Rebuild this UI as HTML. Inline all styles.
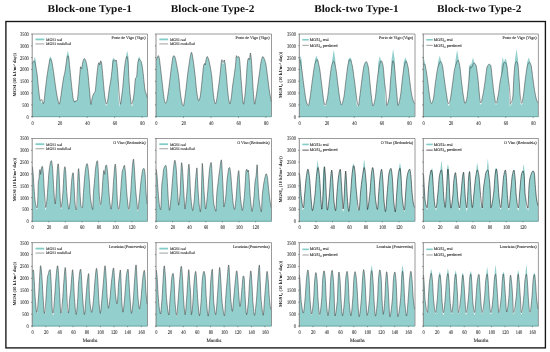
<!DOCTYPE html><html><head><meta charset="utf-8"><style>html,body{margin:0;padding:0;background:#fff;}svg{display:block;filter:blur(0.3px)}</style></head><body>
<svg width="550" height="352" viewBox="0 0 550 352" text-rendering="geometricPrecision">
<rect width="550" height="352" fill="#fff"/>
<text x="47.6" y="11.9" font-family="'Liberation Serif', serif" font-weight="bold" font-size="10.4" textLength="84.3" lengthAdjust="spacingAndGlyphs" fill="#111">Block-one Type-1</text>
<text x="170.8" y="11.9" font-family="'Liberation Serif', serif" font-weight="bold" font-size="10.4" textLength="83.7" lengthAdjust="spacingAndGlyphs" fill="#111">Block-one Type-2</text>
<text x="314.15" y="11.9" font-family="'Liberation Serif', serif" font-weight="bold" font-size="10.4" textLength="84.6" lengthAdjust="spacingAndGlyphs" fill="#111">Block-two Type-1</text>
<text x="437" y="11.9" font-family="'Liberation Serif', serif" font-weight="bold" font-size="10.4" textLength="84.35" lengthAdjust="spacingAndGlyphs" fill="#111">Block-two Type-2</text>
<rect x="5.9" y="21.5" width="539.5" height="326.4" fill="none" stroke="#151515" stroke-width="1.35"/>
<path d="M32.2,116.7L32.2,63.63L32.5,62.75L32.8,62.13L33.1,61.71L33.4,61.47L33.7,61.04L34,59.78L34.3,58.51L34.6,57.25L34.9,57.06L35.2,58.32L35.5,59.58L35.8,60.85L36.1,67.98L36.4,69.8L36.7,71.65L37,73.61L37.3,76.15L37.6,79.11L37.9,82.26L38.2,85.38L38.5,88.24L38.8,91L39.1,93.82L39.4,96.34L39.7,98.19L40,99.52L40.3,100.57L40.6,100.94L40.9,100.59L41.2,101.38L41.5,102.28L41.8,103.12L42.1,103.51L42.4,102.34L42.7,101.97L43,102.87L43.3,103.8L43.6,103.3L43.9,101.94L44.2,99.91L44.5,97.41L44.8,94.63L45.1,91.76L45.4,89.01L45.7,86.56L46,84.21L46.3,81.78L46.6,79.36L46.9,77.05L47.2,74.93L47.5,72.89L47.8,70.91L48.1,69.03L48.4,67.25L48.7,65.58L49,63.89L49.3,58.84L49.6,58.15L49.9,57.46L50.2,56.77L50.5,56.29L50.8,56.98L51.1,57.67L51.4,58.36L51.7,59.05L52,62.33L52.3,64.04L52.6,65.91L52.9,67.79L53.2,69.6L53.5,71.58L53.8,73.71L54.1,75.91L54.4,78.12L54.7,80.27L55,82.42L55.3,84.63L55.6,86.83L55.9,88.97L56.2,90.97L56.5,92.78L56.8,94.5L57.1,96.15L57.4,97.7L57.7,99.12L58,100.38L58.3,101.5L58.6,102.65L58.9,103.63L59.2,104.19L59.5,104.04L59.8,102.94L60.1,101.21L60.4,99.21L60.7,97.33L61,95.44L61.3,93.35L61.6,91.15L61.9,88.92L62.2,86.77L62.5,84.75L62.8,82.74L63.1,80.77L63.4,78.91L63.7,77.23L64,75.83L64.3,74.64L64.6,73.47L64.9,72.09L65.2,70.27L65.5,68.02L65.8,65.68L66.1,63.57L66.4,61.6L66.7,55.49L67,54.2L67.3,52.9L67.6,51.6L67.9,50.81L68.2,52.11L68.5,53.41L68.8,54.71L69.1,56L69.4,64.42L69.7,67.16L70,69.94L70.3,72.83L70.6,75.75L70.9,78.64L71.2,81.55L71.5,84.54L71.8,87.47L72.1,90.21L72.4,92.69L72.7,95.2L73,97.52L73.3,99.32L73.6,100.37L73.9,101.18L74.2,101.2L74.5,100.82L74.8,100.45L75.1,100.08L75.4,100.27L75.7,100.65L76,100.9L76.3,100.79L76.6,100.73L76.9,100.65L77.2,100.52L77.5,99.46L77.8,96.87L78.1,93.43L78.4,89.84L78.7,86.66L79,83.41L79.3,80.04L79.6,76.72L79.9,73.45L80.2,69.62L80.5,66.87L80.8,66.81L81.1,67.96L81.4,68.91L81.7,68.56L82,67.06L82.3,65.01L82.6,63.03L82.9,61.71L83.2,60.69L83.5,59.74L83.8,59L84.1,58.6L84.4,58.62L84.7,58.87L85,59.27L85.3,59.76L85.6,60.35L85.9,61.21L86.2,62.32L86.5,63.64L86.8,65.13L87.1,66.74L87.4,68.66L87.7,71.07L88,73.86L88.3,76.94L88.6,80.21L88.9,83.58L89.2,86.94L89.5,90.2L89.8,93.36L90.1,97.25L90.4,101.19L90.7,103.97L91,104.5L91.3,103.38L91.6,101.45L91.9,99.34L92.2,97.67L92.5,96.65L92.8,95.77L93.1,94.98L93.4,94.29L93.7,93.67L94,93.11L94.3,92.7L94.6,92.39L94.9,91.99L95.2,91.34L95.5,89.38L95.8,86.24L96.1,82.91L96.4,79.91L96.7,76.75L97,73.62L97.3,70.79L97.6,68.27L97.9,65.91L98.2,64.28L98.5,63.39L98.8,62.73L99.1,62.5L99.4,64.24L99.7,64.95L100,63.89L100.3,62.32L100.6,61.06L100.9,60.85L101.2,61.54L101.5,62.72L101.8,64.39L102.1,67.39L102.4,70.89L102.7,74.19L103,77.67L103.3,81.21L103.6,84.62L103.9,87.87L104.2,91.11L104.5,94.05L104.8,96.41L105.1,98.42L105.4,100.17L105.7,104.66L106,105.2L106.3,105.75L106.6,105.6L106.9,105.06L107.2,104.51L107.5,101.25L107.8,99.92L108.1,98.06L108.4,95.84L108.7,93.44L109,91.08L109.3,88.95L109.6,87.1L109.9,85.39L110.2,83.71L110.5,81.98L110.8,80.12L111.1,78.03L111.4,75.55L111.7,72.86L112,70.17L112.3,60.32L112.6,59.62L112.9,58.93L113.2,58.23L113.5,57.53L113.8,57.91L114.1,58.61L114.4,59.31L114.7,60L115,60.58L115.3,60.78L115.6,60.5L115.9,60.08L116.2,59.99L116.5,61.17L116.8,63.47L117.1,66.34L117.4,69.27L117.7,72.92L118,77.19L118.3,81.53L118.6,98.55L118.9,101.53L119.2,104.52L119.5,107.5L119.8,104.52L120.1,102.91L120.4,104.25L120.7,103.51L121,101.73L121.3,99.36L121.6,96.88L121.9,94.62L122.2,92.26L122.5,89.7L122.8,86.92L123.1,83.79L123.4,80.08L123.7,76.35L124,73.04L124.3,69.9L124.6,67.14L124.9,64.77L125.2,62.57L125.5,60.67L125.8,59.23L126.1,56.12L126.4,54.61L126.7,53.1L127,51.59L127.3,51.04L127.6,52.55L127.9,54.06L128.2,55.57L128.5,57.08L128.8,76.64L129.1,81.72L129.4,86.05L129.7,89.89L130,93.33L130.3,96.43L130.6,99.03L130.9,101.43L131.2,104.29L131.5,105.26L131.8,106.23L132.1,106.41L132.4,105.44L132.7,104.47L133,99.88L133.3,98.52L133.6,96.74L133.9,94.54L134.2,92.05L134.5,89.16L134.8,84.95L135.1,80.84L135.4,78.65L135.7,78.1L136,77.81L136.3,77.5L136.6,76.92L136.9,74.43L137.2,70.16L137.5,65.84L137.8,63.21L138.1,58.61L138.4,58L138.7,57.4L139,56.8L139.3,56.85L139.6,57.45L139.9,58.06L140.2,58.66L140.5,60.52L140.8,60.93L141.1,61.46L141.4,62.26L141.7,63.5L142,65.09L142.3,66.9L142.6,68.81L142.9,71.1L143.2,73.77L143.5,76.62L143.8,79.42L144.1,82.14L144.4,85.12L144.7,87.93L145,90.1L145.3,91.36L145.6,92.23L145.9,92.95L146.2,93.73L146.5,94.7L146.8,95.76L147.1,96.88L147.4,98.06L147.4,116.7Z" fill="#93cfcc"/>
<path d="M32.2,63.63L32.5,62.75L32.8,62.13L33.1,61.71L33.4,61.47L33.7,61.34L34,61.3L34.3,61.3L34.6,61.59L34.9,62.29L35.2,63.35L35.5,64.69L35.8,66.25L36.1,67.98L36.4,69.8L36.7,71.65L37,73.61L37.3,76.15L37.6,79.11L37.9,82.26L38.2,85.38L38.5,88.24L38.8,91L39.1,93.82L39.4,96.34L39.7,98.19L40,99.52L40.3,100.57L40.6,100.94L40.9,100.59L41.2,99.98L41.5,99.55L41.8,99.64L42.1,100.2L42.4,101.03L42.7,101.97L43,102.87L43.3,103.8L43.6,103.3L43.9,101.94L44.2,99.91L44.5,97.41L44.8,94.63L45.1,91.76L45.4,89.01L45.7,86.56L46,84.21L46.3,81.78L46.6,79.36L46.9,77.05L47.2,74.93L47.5,72.89L47.8,70.91L48.1,69.03L48.4,67.25L48.7,65.58L49,63.89L49.3,62.06L49.6,60.43L49.9,59.34L50.2,59.09L50.5,59.19L50.8,59.4L51.1,59.69L51.4,60.08L51.7,60.95L52,62.33L52.3,64.04L52.6,65.91L52.9,67.79L53.2,69.6L53.5,71.58L53.8,73.71L54.1,75.91L54.4,78.12L54.7,80.27L55,82.42L55.3,84.63L55.6,86.83L55.9,88.97L56.2,90.97L56.5,92.78L56.8,94.5L57.1,96.15L57.4,97.7L57.7,99.12L58,100.38L58.3,101.5L58.6,102.65L58.9,103.63L59.2,104.19L59.5,104.04L59.8,102.94L60.1,101.21L60.4,99.21L60.7,97.33L61,95.44L61.3,93.35L61.6,91.15L61.9,88.92L62.2,86.77L62.5,84.75L62.8,82.74L63.1,80.77L63.4,78.91L63.7,77.23L64,75.83L64.3,74.64L64.6,73.47L64.9,72.09L65.2,70.27L65.5,68.02L65.8,65.68L66.1,63.57L66.4,61.6L66.7,59.5L67,57.66L67.3,56.45L67.6,56.18L67.9,56.18L68.2,56.18L68.5,56.45L68.8,58.31L69.1,61.25L69.4,64.42L69.7,67.16L70,69.94L70.3,72.83L70.6,75.75L70.9,78.64L71.2,81.55L71.5,84.54L71.8,87.47L72.1,90.21L72.4,92.69L72.7,95.2L73,97.52L73.3,99.32L73.6,100.37L73.9,101.18L74.2,101.77L74.5,102L74.8,101.91L75.1,101.68L75.4,101.39L75.7,101.1L76,100.9L76.3,100.79L76.6,100.73L76.9,100.65L77.2,100.52L77.5,99.46L77.8,96.87L78.1,93.43L78.4,89.84L78.7,86.66L79,83.41L79.3,80.04L79.6,76.72L79.9,73.45L80.2,69.62L80.5,66.87L80.8,66.81L81.1,67.96L81.4,68.91L81.7,68.56L82,67.06L82.3,65.01L82.6,63.03L82.9,61.71L83.2,60.69L83.5,59.74L83.8,59L84.1,58.6L84.4,58.62L84.7,58.87L85,59.27L85.3,59.76L85.6,60.35L85.9,61.21L86.2,62.32L86.5,63.64L86.8,65.13L87.1,66.74L87.4,68.66L87.7,71.07L88,73.86L88.3,76.94L88.6,80.21L88.9,83.58L89.2,86.94L89.5,90.2L89.8,93.36L90.1,97.25L90.4,101.19L90.7,103.97L91,104.5L91.3,103.38L91.6,101.45L91.9,99.34L92.2,97.67L92.5,96.65L92.8,95.77L93.1,94.98L93.4,94.29L93.7,93.67L94,93.11L94.3,92.7L94.6,92.39L94.9,91.99L95.2,91.34L95.5,89.38L95.8,86.24L96.1,82.91L96.4,79.91L96.7,76.75L97,73.62L97.3,70.79L97.6,68.27L97.9,65.91L98.2,64.28L98.5,63.39L98.8,62.73L99.1,62.5L99.4,64.24L99.7,64.95L100,63.89L100.3,62.32L100.6,61.06L100.9,60.85L101.2,61.54L101.5,62.72L101.8,64.39L102.1,67.39L102.4,70.89L102.7,74.19L103,77.67L103.3,81.21L103.6,84.62L103.9,87.87L104.2,91.11L104.5,94.05L104.8,96.41L105.1,98.42L105.4,100.17L105.7,101.69L106,102.99L106.3,104.12L106.6,104.12L106.9,103.46L107.2,102.44L107.5,101.25L107.8,99.92L108.1,98.06L108.4,95.84L108.7,93.44L109,91.08L109.3,88.95L109.6,87.1L109.9,85.39L110.2,83.71L110.5,81.98L110.8,80.12L111.1,78.03L111.4,75.55L111.7,72.86L112,70.17L112.3,67.65L112.6,64.84L112.9,62.27L113.2,60.83L113.5,60.45L113.8,60.18L114.1,60L114.4,59.93L114.7,60.15L115,60.58L115.3,60.78L115.6,60.5L115.9,60.08L116.2,59.99L116.5,61.17L116.8,63.47L117.1,66.34L117.4,69.27L117.7,72.92L118,77.19L118.3,81.53L118.6,85.8L118.9,90.19L119.2,94.1L119.5,97.56L119.8,100.63L120.1,102.91L120.4,104.25L120.7,103.51L121,101.73L121.3,99.36L121.6,96.88L121.9,94.62L122.2,92.26L122.5,89.7L122.8,86.92L123.1,83.79L123.4,80.08L123.7,76.35L124,73.04L124.3,69.9L124.6,67.14L124.9,64.77L125.2,62.57L125.5,60.67L125.8,59.23L126.1,58.16L126.4,57.21L126.7,56.62L127,56.61L127.3,57.33L127.6,58.69L127.9,60.53L128.2,63.31L128.5,69.6L128.8,76.64L129.1,81.72L129.4,86.05L129.7,89.89L130,93.33L130.3,96.43L130.6,99.03L130.9,101.43L131.2,103.5L131.5,104.25L131.8,103.97L132.1,103.29L132.4,102.33L132.7,101.16L133,99.88L133.3,98.52L133.6,96.74L133.9,94.54L134.2,92.05L134.5,89.16L134.8,84.95L135.1,80.84L135.4,78.65L135.7,78.1L136,77.81L136.3,77.5L136.6,76.92L136.9,74.43L137.2,70.16L137.5,65.84L137.8,63.21L138.1,61.78L138.4,60.56L138.7,59.64L139,59.14L139.3,59.13L139.6,59.43L139.9,59.82L140.2,60.17L140.5,60.52L140.8,60.93L141.1,61.46L141.4,62.26L141.7,63.5L142,65.09L142.3,66.9L142.6,68.81L142.9,71.1L143.2,73.77L143.5,76.62L143.8,79.42L144.1,82.14L144.4,85.12L144.7,87.93L145,90.1L145.3,91.36L145.6,92.23L145.9,92.95L146.2,93.73L146.5,94.7L146.8,95.76L147.1,96.88L147.4,98.06" fill="none" stroke="#303030" stroke-width="0.5" stroke-linejoin="round"/>
<path d="M32.2,34.0H147.5V116.7" fill="none" stroke="#7a7a7a" stroke-width="0.75"/>
<path d="M32.2,116.7H147.5" fill="none" stroke="#5f9f9b" stroke-width="0.9"/>
<path d="M32.2,34.0V117.0" fill="none" stroke="#666" stroke-width="0.75"/>
<path d="M31.1,116.7H32.2M31.1,104.89H32.2M31.1,93.07H32.2M31.1,81.26H32.2M31.1,69.44H32.2M31.1,57.63H32.2M31.1,45.81H32.2M31.1,34H32.2M32.2,116.7V117.8M59.68,116.7V117.8M87.16,116.7V117.8M114.64,116.7V117.8M142.12,116.7V117.8" stroke="#333" stroke-width="0.5"/>
<text transform="translate(32.5,124.8) scale(1,1.25)" font-family="'Liberation Serif', serif" font-size="4.4" text-anchor="middle" fill="#333" stroke="#333" stroke-width="0.06">0</text>
<text transform="translate(59.98,124.8) scale(1,1.25)" font-family="'Liberation Serif', serif" font-size="4.4" text-anchor="middle" fill="#333" stroke="#333" stroke-width="0.06">20</text>
<text transform="translate(87.46,124.8) scale(1,1.25)" font-family="'Liberation Serif', serif" font-size="4.4" text-anchor="middle" fill="#333" stroke="#333" stroke-width="0.06">40</text>
<text transform="translate(114.94,124.8) scale(1,1.25)" font-family="'Liberation Serif', serif" font-size="4.4" text-anchor="middle" fill="#333" stroke="#333" stroke-width="0.06">60</text>
<text transform="translate(142.42,124.8) scale(1,1.25)" font-family="'Liberation Serif', serif" font-size="4.4" text-anchor="middle" fill="#333" stroke="#333" stroke-width="0.06">80</text>
<text transform="translate(28.8,118.6) scale(1,1.25)" font-family="'Liberation Serif', serif" font-size="4.4" text-anchor="end" fill="#333" stroke="#333" stroke-width="0.06">0</text>
<text transform="translate(28.8,106.79) scale(1,1.25)" font-family="'Liberation Serif', serif" font-size="4.4" text-anchor="end" fill="#333" stroke="#333" stroke-width="0.06">500</text>
<text transform="translate(28.8,94.97) scale(1,1.25)" font-family="'Liberation Serif', serif" font-size="4.4" text-anchor="end" fill="#333" stroke="#333" stroke-width="0.06">1000</text>
<text transform="translate(28.8,83.16) scale(1,1.25)" font-family="'Liberation Serif', serif" font-size="4.4" text-anchor="end" fill="#333" stroke="#333" stroke-width="0.06">1500</text>
<text transform="translate(28.8,71.34) scale(1,1.25)" font-family="'Liberation Serif', serif" font-size="4.4" text-anchor="end" fill="#333" stroke="#333" stroke-width="0.06">2000</text>
<text transform="translate(28.8,59.53) scale(1,1.25)" font-family="'Liberation Serif', serif" font-size="4.4" text-anchor="end" fill="#333" stroke="#333" stroke-width="0.06">2500</text>
<text transform="translate(28.8,47.71) scale(1,1.25)" font-family="'Liberation Serif', serif" font-size="4.4" text-anchor="end" fill="#333" stroke="#333" stroke-width="0.06">3000</text>
<text transform="translate(28.8,35.9) scale(1,1.25)" font-family="'Liberation Serif', serif" font-size="4.4" text-anchor="end" fill="#333" stroke="#333" stroke-width="0.06">3500</text>
<text transform="translate(16.4,74.85) rotate(-90)" x="0" y="0" font-family="'Liberation Serif', serif" font-weight="bold" font-size="4.5" text-anchor="middle" fill="#111">MGSI (10 kJ/m<tspan dy="-1.2" font-size="2.8">-2</tspan><tspan dy="1.2"> day))</tspan></text>
<rect x="35.5" y="38.5" width="8.8" height="1.8" fill="#84ccc8"/>
<rect x="35.5" y="43.3" width="8.8" height="1.2" fill="#b0b0b0"/>
<text x="46.1" y="40.8" font-family="'Liberation Serif', serif" font-size="3.85" fill="#222" stroke="#222" stroke-width="0.08">MGSI real</text>
<text x="46.1" y="45" font-family="'Liberation Serif', serif" font-size="3.85" fill="#222" stroke="#222" stroke-width="0.08">MGSI modelled</text>
<text x="145.7" y="39" font-family="'Liberation Serif', serif" font-size="4.08" text-anchor="end" fill="#222" stroke="#222" stroke-width="0.08">Porto de Vigo (Vigo)</text>
<path d="M156,116.7L156,59.93L156.3,59.76L156.6,59.23L156.9,58.57L157.2,57.95L157.5,57.14L157.8,56.32L158.1,55.76L158.4,55.73L158.7,56.22L159,57.03L159.3,58.22L159.6,60.35L159.9,62.82L160.2,65.21L160.5,67.76L160.8,70.41L161.1,73.05L161.4,75.66L161.7,78.29L162,80.93L162.3,83.56L162.6,86.18L162.9,88.88L163.2,91.59L163.5,94.12L163.8,96.31L164.1,98.39L164.4,100.24L164.7,101.57L165,102.44L165.3,103.13L165.6,103.4L165.9,103.15L166.2,102.55L166.5,101.71L166.8,100.79L167.1,99.6L167.4,98L167.7,96.11L168,94.05L168.3,91.93L168.6,89.83L168.9,87.59L169.2,85.2L169.5,82.71L169.8,80.2L170.1,77.73L170.4,75.29L170.7,72.77L171,70.24L171.3,67.77L171.6,65.44L171.9,63.33L172.2,61.22L172.5,59.12L172.8,57.42L173.1,56.51L173.4,56.12L173.7,55.83L174,55.68L174.3,55.77L174.6,56.25L174.9,57.02L175.2,57.91L175.5,58.87L175.8,60.13L176.1,61.63L176.4,63.29L176.7,65L177,66.69L177.3,68.31L177.6,69.93L177.9,71.61L178.2,73.42L178.5,75.4L178.8,77.65L179.1,80.51L179.4,83.76L179.7,86.95L180,89.69L180.3,92.22L180.6,94.62L180.9,96.81L181.2,98.72L181.5,100.39L181.8,101.99L182.1,103.41L182.4,104.52L182.7,105.22L183,105.72L183.3,105.95L183.6,105.48L183.9,104.16L184.2,102.32L184.5,100.3L184.8,98.39L185.1,96.27L185.4,93.91L185.7,91.4L186,88.81L186.3,86.23L186.6,83.66L186.9,80.97L187.2,78.25L187.5,75.62L187.8,73.18L188.1,70.92L188.4,68.77L188.7,66.7L189,64.66L189.3,62.57L189.6,60.51L189.9,58.63L190.2,57.07L190.5,55.55L190.8,54.09L191.1,52.93L191.4,52.31L191.7,52.47L192,53.45L192.3,54.95L192.6,56.71L192.9,58.43L193.2,60.29L193.5,62.44L193.8,64.74L194.1,67.09L194.4,69.51L194.7,72.05L195,74.7L195.3,77.44L195.6,80.47L195.9,83.7L196.2,86.85L196.5,89.68L196.8,92.05L197.1,94.26L197.4,96.22L197.7,97.82L198,99.08L198.3,100.21L198.6,100.82L198.9,100.69L199.2,100.14L199.5,99.3L199.8,98.26L200.1,97.11L200.4,95.43L200.7,93.18L201,90.61L201.3,87.95L201.6,85.25L201.9,82.2L202.2,79.05L202.5,76.02L202.8,73.09L203.1,69.96L203.4,67.16L203.7,65.29L204,64.45L204.3,63.81L204.6,63.42L204.9,63.72L205.2,64.98L205.5,63.4L205.8,61.02L206.1,59.49L206.4,58.3L206.7,57.28L207,56.64L207.3,56.56L207.6,56.91L207.9,57.52L208.2,58.22L208.5,59.03L208.8,60.07L209.1,61.28L209.4,62.62L209.7,64.04L210,65.49L210.3,67L210.6,68.62L210.9,70.38L211.2,72.3L211.5,74.42L211.8,76.87L212.1,79.99L212.4,83.52L212.7,87.16L213,90.58L213.3,93.5L213.6,95.87L213.9,98.08L214.2,100L214.5,101.48L214.8,102.58L215.1,103.5L215.4,103.91L215.7,103.58L216,102.68L216.3,101.41L216.6,99.97L216.9,98.47L217.2,96.51L217.5,94.21L217.8,91.85L218.1,89.67L218.4,87.58L218.7,85.49L219,83.31L219.3,80.97L219.6,78.48L219.9,75.86L220.2,73.15L220.5,70.37L220.8,67.19L221.1,63.86L221.4,61.5L221.7,59.97L222,59.66L222.3,62.77L222.6,63.32L222.9,63.87L223.2,63.97L223.5,63.43L223.8,62.88L224.1,60.08L224.4,60.06L224.7,61.18L225,63.02L225.3,65.08L225.6,67.48L225.9,70.49L226.2,73.8L226.5,77.1L226.8,80.52L227.1,84.13L227.4,87.65L227.7,90.79L228,93.65L228.3,96.31L228.6,98.52L228.9,100.22L229.2,101.85L229.5,103.15L229.8,103.86L230.1,103.7L230.4,102.75L230.7,101.3L231,99.64L231.3,97.78L231.6,95.23L231.9,92.32L232.2,89.4L232.5,86.85L232.8,84.62L233.1,82.52L233.4,80.49L233.7,78.47L234,76.41L234.3,74.26L234.6,72.17L234.9,70.04L235.2,67.77L235.5,65.25L235.8,61.57L236.1,57.42L236.4,55.67L236.7,55.98L237,56.58L237.3,57.16L237.6,57.37L237.9,57.25L238.2,57L238.5,56.72L238.8,56.55L239.1,56.82L239.4,58.43L239.7,60.63L240,64.17L240.3,68.65L240.6,73.08L240.9,77.02L241.2,80.92L241.5,84.77L241.8,88.54L242.1,92.44L242.4,96.28L242.7,99.28L243,101.74L243.3,103.68L243.6,104.22L243.9,103.31L244.2,101.49L244.5,99.2L244.8,96.86L245.1,94.13L245.4,90.87L245.7,87.21L246,83.3L246.3,78.91L246.6,73.71L246.9,69.01L247.2,65.24L247.5,61.89L247.8,59.92L248.1,59.02L248.4,58.41L248.7,58.25L249,58.86L249.3,59.69L249.6,59.66L249.9,56.68L250.2,53.38L250.5,53.02L250.8,54.73L251.1,57.29L251.4,60.3L251.7,64.5L252,69.26L252.3,74.37L252.6,80.06L252.9,85.36L253.2,90.04L253.5,94.35L253.8,97.83L254.1,101.06L254.4,103.59L254.7,104.2L255,103.37L255.3,101.8L255.6,99.85L255.9,97.89L256.2,96.08L256.5,94.07L256.8,91.94L257.1,89.73L257.4,87.52L257.7,85.37L258,83.27L258.3,81.17L258.6,79.07L258.9,76.97L259.2,74.87L259.5,72.75L259.8,70.46L260.1,68.09L260.4,65.79L260.7,63.72L261,62.04L261.3,60.75L261.6,59.49L261.9,58.34L262.2,57.39L262.5,56.75L262.8,56.52L263.1,56.69L263.4,57.11L263.7,57.66L264,58.25L264.3,58.88L264.6,59.61L264.9,60.47L265.2,61.45L265.5,62.56L265.8,63.82L266.1,65.49L266.4,67.53L266.7,69.8L267,72.18L267.3,74.53L267.6,76.83L267.9,79.28L268.2,81.8L268.5,84.31L268.8,86.7L269.1,88.89L269.4,90.93L269.7,92.89L270,94.76L270.3,96.51L270.6,98.12L270.9,99.57L271.2,100.85L271.5,102L271.5,116.7Z" fill="#93cfcc"/>
<path d="M156,59.93L156.3,59.76L156.6,59.23L156.9,58.57L157.2,57.95L157.5,57.14L157.8,56.32L158.1,55.76L158.4,55.73L158.7,56.22L159,57.03L159.3,58.22L159.6,60.35L159.9,62.82L160.2,65.21L160.5,67.76L160.8,70.41L161.1,73.05L161.4,75.66L161.7,78.29L162,80.93L162.3,83.56L162.6,86.18L162.9,88.88L163.2,91.59L163.5,94.12L163.8,96.31L164.1,98.39L164.4,100.24L164.7,101.57L165,102.44L165.3,103.13L165.6,103.4L165.9,103.15L166.2,102.55L166.5,101.71L166.8,100.79L167.1,99.6L167.4,98L167.7,96.11L168,94.05L168.3,91.93L168.6,89.83L168.9,87.59L169.2,85.2L169.5,82.71L169.8,80.2L170.1,77.73L170.4,75.29L170.7,72.77L171,70.24L171.3,67.77L171.6,65.44L171.9,63.33L172.2,61.22L172.5,59.12L172.8,57.42L173.1,56.51L173.4,56.12L173.7,55.83L174,55.68L174.3,55.77L174.6,56.25L174.9,57.02L175.2,57.91L175.5,58.87L175.8,60.13L176.1,61.63L176.4,63.29L176.7,65L177,66.69L177.3,68.31L177.6,69.93L177.9,71.61L178.2,73.42L178.5,75.4L178.8,77.65L179.1,80.51L179.4,83.76L179.7,86.95L180,89.69L180.3,92.22L180.6,94.62L180.9,96.81L181.2,98.72L181.5,100.39L181.8,101.99L182.1,103.41L182.4,104.52L182.7,105.22L183,105.72L183.3,105.95L183.6,105.48L183.9,104.16L184.2,102.32L184.5,100.3L184.8,98.39L185.1,96.27L185.4,93.91L185.7,91.4L186,88.81L186.3,86.23L186.6,83.66L186.9,80.97L187.2,78.25L187.5,75.62L187.8,73.18L188.1,70.92L188.4,68.77L188.7,66.7L189,64.66L189.3,62.57L189.6,60.51L189.9,58.63L190.2,57.07L190.5,55.55L190.8,54.09L191.1,52.93L191.4,52.31L191.7,52.47L192,53.45L192.3,54.95L192.6,56.71L192.9,58.43L193.2,60.29L193.5,62.44L193.8,64.74L194.1,67.09L194.4,69.51L194.7,72.05L195,74.7L195.3,77.44L195.6,80.47L195.9,83.7L196.2,86.85L196.5,89.68L196.8,92.05L197.1,94.26L197.4,96.22L197.7,97.82L198,99.08L198.3,100.21L198.6,100.82L198.9,100.69L199.2,100.14L199.5,99.3L199.8,98.26L200.1,97.11L200.4,95.43L200.7,93.18L201,90.61L201.3,87.95L201.6,85.25L201.9,82.2L202.2,79.05L202.5,76.02L202.8,73.09L203.1,69.96L203.4,67.16L203.7,65.29L204,64.45L204.3,63.81L204.6,63.42L204.9,63.72L205.2,64.98L205.5,63.4L205.8,61.02L206.1,59.49L206.4,58.3L206.7,57.28L207,56.64L207.3,56.56L207.6,56.91L207.9,57.52L208.2,58.22L208.5,59.03L208.8,60.07L209.1,61.28L209.4,62.62L209.7,64.04L210,65.49L210.3,67L210.6,68.62L210.9,70.38L211.2,72.3L211.5,74.42L211.8,76.87L212.1,79.99L212.4,83.52L212.7,87.16L213,90.58L213.3,93.5L213.6,95.87L213.9,98.08L214.2,100L214.5,101.48L214.8,102.58L215.1,103.5L215.4,103.91L215.7,103.58L216,102.68L216.3,101.41L216.6,99.97L216.9,98.47L217.2,96.51L217.5,94.21L217.8,91.85L218.1,89.67L218.4,87.58L218.7,85.49L219,83.31L219.3,80.97L219.6,78.48L219.9,75.86L220.2,73.15L220.5,70.37L220.8,67.19L221.1,63.86L221.4,61.5L221.7,59.97L222,59.66L222.3,60.39L222.6,61.46L222.9,62.31L223.2,62.42L223.5,61.76L223.8,60.82L224.1,60.08L224.4,60.06L224.7,61.18L225,63.02L225.3,65.08L225.6,67.48L225.9,70.49L226.2,73.8L226.5,77.1L226.8,80.52L227.1,84.13L227.4,87.65L227.7,90.79L228,93.65L228.3,96.31L228.6,98.52L228.9,100.22L229.2,101.85L229.5,103.15L229.8,103.86L230.1,103.7L230.4,102.75L230.7,101.3L231,99.64L231.3,97.78L231.6,95.23L231.9,92.32L232.2,89.4L232.5,86.85L232.8,84.62L233.1,82.52L233.4,80.49L233.7,78.47L234,76.41L234.3,74.26L234.6,72.17L234.9,70.04L235.2,67.77L235.5,65.25L235.8,61.57L236.1,57.42L236.4,55.67L236.7,55.98L237,56.58L237.3,57.16L237.6,57.37L237.9,57.25L238.2,57L238.5,56.72L238.8,56.55L239.1,56.82L239.4,58.43L239.7,60.63L240,64.17L240.3,68.65L240.6,73.08L240.9,77.02L241.2,80.92L241.5,84.77L241.8,88.54L242.1,92.44L242.4,96.28L242.7,99.28L243,101.74L243.3,103.68L243.6,104.22L243.9,103.31L244.2,101.49L244.5,99.2L244.8,96.86L245.1,94.13L245.4,90.87L245.7,87.21L246,83.3L246.3,78.91L246.6,73.71L246.9,69.01L247.2,65.24L247.5,61.89L247.8,59.92L248.1,59.02L248.4,58.41L248.7,58.25L249,58.86L249.3,59.69L249.6,59.66L249.9,56.68L250.2,53.38L250.5,53.02L250.8,54.73L251.1,57.29L251.4,60.3L251.7,64.5L252,69.26L252.3,74.37L252.6,80.06L252.9,85.36L253.2,90.04L253.5,94.35L253.8,97.83L254.1,101.06L254.4,103.59L254.7,104.2L255,103.37L255.3,101.8L255.6,99.85L255.9,97.89L256.2,96.08L256.5,94.07L256.8,91.94L257.1,89.73L257.4,87.52L257.7,85.37L258,83.27L258.3,81.17L258.6,79.07L258.9,76.97L259.2,74.87L259.5,72.75L259.8,70.46L260.1,68.09L260.4,65.79L260.7,63.72L261,62.04L261.3,60.75L261.6,59.49L261.9,58.34L262.2,57.39L262.5,56.75L262.8,56.52L263.1,56.69L263.4,57.11L263.7,57.66L264,58.25L264.3,58.88L264.6,59.61L264.9,60.47L265.2,61.45L265.5,62.56L265.8,63.82L266.1,65.49L266.4,67.53L266.7,69.8L267,72.18L267.3,74.53L267.6,76.83L267.9,79.28L268.2,81.8L268.5,84.31L268.8,86.7L269.1,88.89L269.4,90.93L269.7,92.89L270,94.76L270.3,96.51L270.6,98.12L270.9,99.57L271.2,100.85L271.5,102" fill="none" stroke="#303030" stroke-width="0.5" stroke-linejoin="round"/>
<path d="M156.0,34.0H271.5V116.7" fill="none" stroke="#7a7a7a" stroke-width="0.75"/>
<path d="M156.0,116.7H271.5" fill="none" stroke="#5f9f9b" stroke-width="0.9"/>
<path d="M156.0,34.0V117.0" fill="none" stroke="#666" stroke-width="0.75"/>
<path d="M154.9,116.7H156.0M154.9,104.89H156.0M154.9,93.07H156.0M154.9,81.26H156.0M154.9,69.44H156.0M154.9,57.63H156.0M154.9,45.81H156.0M154.9,34H156.0M156,116.7V117.8M183.48,116.7V117.8M210.96,116.7V117.8M238.44,116.7V117.8M265.92,116.7V117.8" stroke="#333" stroke-width="0.5"/>
<text transform="translate(156.3,124.8) scale(1,1.25)" font-family="'Liberation Serif', serif" font-size="4.4" text-anchor="middle" fill="#333" stroke="#333" stroke-width="0.06">0</text>
<text transform="translate(183.78,124.8) scale(1,1.25)" font-family="'Liberation Serif', serif" font-size="4.4" text-anchor="middle" fill="#333" stroke="#333" stroke-width="0.06">20</text>
<text transform="translate(211.26,124.8) scale(1,1.25)" font-family="'Liberation Serif', serif" font-size="4.4" text-anchor="middle" fill="#333" stroke="#333" stroke-width="0.06">40</text>
<text transform="translate(238.74,124.8) scale(1,1.25)" font-family="'Liberation Serif', serif" font-size="4.4" text-anchor="middle" fill="#333" stroke="#333" stroke-width="0.06">60</text>
<text transform="translate(266.22,124.8) scale(1,1.25)" font-family="'Liberation Serif', serif" font-size="4.4" text-anchor="middle" fill="#333" stroke="#333" stroke-width="0.06">80</text>
<rect x="159.3" y="38.5" width="8.8" height="1.8" fill="#84ccc8"/>
<rect x="159.3" y="43.3" width="8.8" height="1.2" fill="#b0b0b0"/>
<text x="169.9" y="40.8" font-family="'Liberation Serif', serif" font-size="3.85" fill="#222" stroke="#222" stroke-width="0.08">MGSI real</text>
<text x="169.9" y="45" font-family="'Liberation Serif', serif" font-size="3.85" fill="#222" stroke="#222" stroke-width="0.08">MGSI modelled</text>
<text x="269.7" y="39" font-family="'Liberation Serif', serif" font-size="4.08" text-anchor="end" fill="#222" stroke="#222" stroke-width="0.08">Porto de Vigo (Vigo)</text>
<path d="M299.3,116.7L299.3,57.52L299.6,56.78L299.9,56.03L300.2,56.05L300.5,56.8L300.8,57.54L301.1,58.29L301.4,59.03L301.7,59.78L302,70.76L302.3,73.04L302.6,75.46L302.9,77.95L303.2,80.44L303.5,82.85L303.8,85.12L304.1,87.21L304.4,89.36L304.7,91.56L305,93.75L305.3,95.85L305.6,97.79L305.9,99.52L306.2,100.95L306.5,102.02L306.8,102.86L307.1,103.65L307.4,104.37L307.7,104.96L308,105.38L308.3,105.59L308.6,105.4L308.9,104.46L309.2,102.97L309.5,101.18L309.8,99.34L310.1,97.59L310.4,95.6L310.7,93.39L311,91.02L311.3,88.56L311.6,86.08L311.9,83.65L312.2,81.32L312.5,79.18L312.8,77.07L313.1,74.89L313.4,72.69L313.7,70.55L314,68.54L314.3,66.72L314.6,65.15L314.9,59.44L315.2,58.69L315.5,57.94L315.8,57.19L316.1,56.44L316.4,55.69L316.7,56.4L317,57.15L317.3,57.9L317.6,58.64L317.9,59.39L318.2,60.14L318.5,63.22L318.8,64.56L319.1,65.95L319.4,67.34L319.7,69.01L320,71L320.3,73.22L320.6,75.63L320.9,78.13L321.2,80.67L321.5,83.17L321.8,85.56L322.1,87.93L322.4,90.51L322.7,93.16L323,95.74L323.3,98.12L323.6,100.15L323.9,101.68L324.2,105.28L324.5,105.52L324.8,105.76L325.1,106.09L325.4,106.14L325.7,105.78L326,105.42L326.3,102.63L326.6,101.42L326.9,100.12L327.2,98.76L327.5,97.31L327.8,95.4L328.1,93.11L328.4,90.57L328.7,87.89L329,85.21L329.3,82.65L329.6,80.31L329.9,77.92L330.2,75.4L330.5,72.88L330.8,70.48L331.1,68.34L331.4,66.56L331.7,65.28L332,61.27L332.3,59.34L332.6,57.4L332.9,55.47L333.2,53.54L333.5,51.61L333.8,49.73L334.1,51.67L334.4,53.6L334.7,55.53L335,57.46L335.3,59.39L335.6,67.37L335.9,68.86L336.2,70.64L336.5,72.81L336.8,75.24L337.1,77.83L337.4,80.47L337.7,83.04L338,85.44L338.3,87.71L338.6,90.07L338.9,92.44L339.2,94.76L339.5,96.95L339.8,98.92L340.1,100.62L340.4,102.01L340.7,103.37L341,104.46L341.3,104.9L341.6,104.74L341.9,104.29L342.2,103.58L342.5,102.68L342.8,101.61L343.1,100.43L343.4,99.18L343.7,97.9L344,96.32L344.3,94.26L344.6,91.84L344.9,89.2L345.2,86.45L345.5,83.7L345.8,81.09L346.1,78.72L346.4,76.37L346.7,73.9L347,71.44L347.3,69.07L347.6,66.92L347.9,65.1L348.2,59.58L348.5,59.21L348.8,58.84L349.1,58.47L349.4,58.1L349.7,57.73L350,57.39L350.3,57.76L350.6,58.13L350.9,58.5L351.2,58.87L351.5,59.24L351.8,63.71L352.1,64.82L352.4,66.05L352.7,67.74L353,69.79L353.3,72.06L353.6,74.42L353.9,76.76L354.2,78.92L354.5,81L354.8,83.27L355.1,85.68L355.4,88.19L355.7,90.73L356,93.24L356.3,95.67L356.6,103.82L356.9,105.19L357.2,106.57L357.5,106.69L357.8,105.32L358.1,105.34L358.4,105.6L358.7,104.86L359,102.98L359.3,100.51L359.6,97.95L359.9,95.72L360.2,93.41L360.5,90.98L360.8,88.49L361.1,85.98L361.4,83.53L361.7,81.17L362,78.98L362.3,76.77L362.6,74.49L362.9,72.24L363.2,70.1L363.5,68.18L363.8,66.58L364.1,65.39L364.4,64.57L364.7,63.81L365,63.12L365.3,62.53L365.6,62.07L365.9,61.76L366.2,61.64L366.5,61.76L366.8,62.18L367.1,62.83L367.4,63.69L367.7,64.71L368,65.85L368.3,67.08L368.6,68.91L368.9,71.53L369.2,74.64L369.5,77.96L369.8,81.18L370.1,84.1L370.4,87.07L370.7,90.1L371,93.07L371.3,95.85L371.6,98.3L371.9,100.55L372.2,102.88L372.5,104.83L372.8,105.92L373.1,105.91L373.4,105.48L373.7,104.73L374,103.73L374.3,102.54L374.6,101.21L374.9,99.81L375.2,98.34L375.5,96.33L375.8,93.79L376.1,90.9L376.4,87.84L376.7,84.79L377,81.94L377.3,79.45L377.6,77.21L377.9,74.96L378.2,63.34L378.5,61.96L378.8,60.57L379.1,59.19L379.4,57.81L379.7,56.42L380,56.3L380.3,57.68L380.6,59.07L380.9,60.45L381.2,60.79L381.5,60.93L381.8,61.41L382.1,62.16L382.4,63.12L382.7,64.24L383,65.49L383.3,67.61L383.6,70.63L383.9,74.17L384.2,77.87L384.5,81.35L384.8,84.22L385.1,86.43L385.4,98.7L385.7,102.04L386,105.38L386.3,106.49L386.6,105.59L386.9,105.4L387.2,104.94L387.5,104.24L387.8,103.33L388.1,102.24L388.4,100.98L388.7,99.58L389,98.08L389.3,96.44L389.6,93.72L389.9,89.87L390.2,85.46L390.5,81.05L390.8,77.2L391.1,74.24L391.4,60.64L391.7,58.63L392,56.62L392.3,54.61L392.6,52.6L392.9,50.59L393.2,49.13L393.5,51.14L393.8,53.15L394.1,55.16L394.4,57.17L394.7,59.18L395,71.94L395.3,76.11L395.6,79.87L395.9,83.26L396.2,86.59L396.5,89.92L396.8,93.29L397.1,96.77L397.4,100.82L397.7,105.17L398,105.52L398.3,105.1L398.6,104.38L398.9,103.4L399.2,102.21L399.5,100.87L399.8,99.42L400.1,97.91L400.4,96.37L400.7,94.38L401,91.91L401.3,89.13L401.6,86.2L401.9,83.29L402.2,80.57L402.5,78.14L402.8,75.69L403.1,73.23L403.4,70.92L403.7,61.74L404,60.99L404.3,60.23L404.6,59.47L404.9,58.72L405.2,57.96L405.5,57.55L405.8,58.3L406.1,59.06L406.4,59.82L406.7,60.57L407,61.33L407.3,64.08L407.6,65.2L407.9,66.39L408.2,67.81L408.5,69.91L408.8,72.48L409.1,75.25L409.4,77.99L409.7,80.44L410,82.72L410.3,85.05L410.6,87.37L410.9,89.6L411.2,91.7L411.5,93.59L411.8,95.22L412.1,96.57L412.4,97.83L412.7,99L413,100.06L413.3,101L413.6,101.8L413.9,102.45L414.2,102.97L414.5,103.44L414.8,103.83L414.8,116.7Z" fill="#93cfcc"/>
<path d="M299.3,59.93L299.6,59.67L299.9,59.75L300.2,60.55L300.5,61.84L300.8,63.45L301.1,65.21L301.4,66.92L301.7,68.7L302,70.76L302.3,73.04L302.6,75.46L302.9,77.95L303.2,80.44L303.5,82.85L303.8,85.12L304.1,87.21L304.4,89.36L304.7,91.56L305,93.75L305.3,95.85L305.6,97.79L305.9,99.52L306.2,100.95L306.5,102.02L306.8,102.86L307.1,103.65L307.4,104.37L307.7,104.96L308,105.38L308.3,105.59L308.6,105.4L308.9,104.46L309.2,102.97L309.5,101.18L309.8,99.34L310.1,97.59L310.4,95.6L310.7,93.39L311,91.02L311.3,88.56L311.6,86.08L311.9,83.65L312.2,81.32L312.5,79.18L312.8,77.07L313.1,74.89L313.4,72.69L313.7,70.55L314,68.54L314.3,66.72L314.6,65.15L314.9,63.92L315.2,63.02L315.5,62.19L315.8,61.41L316.1,60.73L316.4,60.18L316.7,59.79L317,59.6L317.3,59.69L317.6,60.16L317.9,60.95L318.2,61.99L318.5,63.22L318.8,64.56L319.1,65.95L319.4,67.34L319.7,69.01L320,71L320.3,73.22L320.6,75.63L320.9,78.13L321.2,80.67L321.5,83.17L321.8,85.56L322.1,87.93L322.4,90.51L322.7,93.16L323,95.74L323.3,98.12L323.6,100.15L323.9,101.68L324.2,102.92L324.5,104.05L324.8,104.88L325.1,105.2L325.4,105.01L325.7,104.48L326,103.66L326.3,102.63L326.6,101.42L326.9,100.12L327.2,98.76L327.5,97.31L327.8,95.4L328.1,93.11L328.4,90.57L328.7,87.89L329,85.21L329.3,82.65L329.6,80.31L329.9,77.92L330.2,75.4L330.5,72.88L330.8,70.48L331.1,68.34L331.4,66.56L331.7,65.28L332,64.4L332.3,63.58L332.6,62.84L332.9,62.21L333.2,61.72L333.5,61.4L333.8,61.3L334.1,61.54L334.4,62.21L334.7,63.22L335,64.47L335.3,65.88L335.6,67.37L335.9,68.86L336.2,70.64L336.5,72.81L336.8,75.24L337.1,77.83L337.4,80.47L337.7,83.04L338,85.44L338.3,87.71L338.6,90.07L338.9,92.44L339.2,94.76L339.5,96.95L339.8,98.92L340.1,100.62L340.4,102.01L340.7,103.37L341,104.46L341.3,104.9L341.6,104.74L341.9,104.29L342.2,103.58L342.5,102.68L342.8,101.61L343.1,100.43L343.4,99.18L343.7,97.9L344,96.32L344.3,94.26L344.6,91.84L344.9,89.2L345.2,86.45L345.5,83.7L345.8,81.09L346.1,78.72L346.4,76.37L346.7,73.9L347,71.44L347.3,69.07L347.6,66.92L347.9,65.1L348.2,63.7L348.5,62.68L348.8,61.73L349.1,60.88L349.4,60.2L349.7,59.75L350,59.59L350.3,59.75L350.6,60.18L350.9,60.84L351.2,61.67L351.5,62.65L351.8,63.71L352.1,64.82L352.4,66.05L352.7,67.74L353,69.79L353.3,72.06L353.6,74.42L353.9,76.76L354.2,78.92L354.5,81L354.8,83.27L355.1,85.68L355.4,88.19L355.7,90.73L356,93.24L356.3,95.67L356.6,97.96L356.9,100.06L357.2,101.9L357.5,103.43L357.8,104.6L358.1,105.34L358.4,105.6L358.7,104.86L359,102.98L359.3,100.51L359.6,97.95L359.9,95.72L360.2,93.41L360.5,90.98L360.8,88.49L361.1,85.98L361.4,83.53L361.7,81.17L362,78.98L362.3,76.77L362.6,74.49L362.9,72.24L363.2,70.1L363.5,68.18L363.8,66.58L364.1,65.39L364.4,64.57L364.7,63.81L365,63.12L365.3,62.53L365.6,62.07L365.9,61.76L366.2,61.64L366.5,61.76L366.8,62.18L367.1,62.83L367.4,63.69L367.7,64.71L368,65.85L368.3,67.08L368.6,68.91L368.9,71.53L369.2,74.64L369.5,77.96L369.8,81.18L370.1,84.1L370.4,87.07L370.7,90.1L371,93.07L371.3,95.85L371.6,98.3L371.9,100.55L372.2,102.88L372.5,104.83L372.8,105.92L373.1,105.91L373.4,105.48L373.7,104.73L374,103.73L374.3,102.54L374.6,101.21L374.9,99.81L375.2,98.34L375.5,96.33L375.8,93.79L376.1,90.9L376.4,87.84L376.7,84.79L377,81.94L377.3,79.45L377.6,77.21L377.9,74.96L378.2,72.77L378.5,70.69L378.8,68.77L379.1,67.09L379.4,65.69L379.7,64.57L380,63.47L380.3,62.46L380.6,61.61L380.9,61.03L381.2,60.79L381.5,60.93L381.8,61.41L382.1,62.16L382.4,63.12L382.7,64.24L383,65.49L383.3,67.61L383.6,70.63L383.9,74.17L384.2,77.87L384.5,81.35L384.8,84.22L385.1,86.43L385.4,88.43L385.7,90.68L386,93.67L386.3,97.88L386.6,105.59L386.9,105.4L387.2,104.94L387.5,104.24L387.8,103.33L388.1,102.24L388.4,100.98L388.7,99.58L389,98.08L389.3,96.44L389.6,93.72L389.9,89.87L390.2,85.46L390.5,81.05L390.8,77.2L391.1,74.24L391.4,71.27L391.7,68.32L392,65.59L392.3,63.3L392.6,61.64L392.9,60.83L393.2,60.93L393.5,61.56L393.8,62.6L394.1,63.92L394.4,65.45L394.7,68.13L395,71.94L395.3,76.11L395.6,79.87L395.9,83.26L396.2,86.59L396.5,89.92L396.8,93.29L397.1,96.77L397.4,100.82L397.7,105.17L398,105.52L398.3,105.1L398.6,104.38L398.9,103.4L399.2,102.21L399.5,100.87L399.8,99.42L400.1,97.91L400.4,96.37L400.7,94.38L401,91.91L401.3,89.13L401.6,86.2L401.9,83.29L402.2,80.57L402.5,78.14L402.8,75.69L403.1,73.23L403.4,70.92L403.7,68.87L404,67.23L404.3,65.92L404.6,64.66L404.9,63.48L405.2,62.49L405.5,61.75L405.8,61.35L406.1,61.34L406.4,61.67L406.7,62.27L407,63.09L407.3,64.08L407.6,65.2L407.9,66.39L408.2,67.81L408.5,69.91L408.8,72.48L409.1,75.25L409.4,77.99L409.7,80.44L410,82.72L410.3,85.05L410.6,87.37L410.9,89.6L411.2,91.7L411.5,93.59L411.8,95.22L412.1,96.57L412.4,97.83L412.7,99L413,100.06L413.3,101L413.6,101.8L413.9,102.45L414.2,102.97L414.5,103.44L414.8,103.83" fill="none" stroke="#303030" stroke-width="0.5" stroke-linejoin="round"/>
<path d="M299.3,34.0H415.0V116.7" fill="none" stroke="#7a7a7a" stroke-width="0.75"/>
<path d="M299.3,116.7H415.0" fill="none" stroke="#5f9f9b" stroke-width="0.9"/>
<path d="M299.3,34.0V117.0" fill="none" stroke="#666" stroke-width="0.75"/>
<path d="M298.2,116.7H299.3M298.2,104.89H299.3M298.2,93.07H299.3M298.2,81.26H299.3M298.2,69.44H299.3M298.2,57.63H299.3M298.2,45.81H299.3M298.2,34H299.3M299.3,116.7V117.8M326.78,116.7V117.8M354.26,116.7V117.8M381.74,116.7V117.8M409.22,116.7V117.8" stroke="#333" stroke-width="0.5"/>
<text transform="translate(299.6,124.8) scale(1,1.25)" font-family="'Liberation Serif', serif" font-size="4.4" text-anchor="middle" fill="#333" stroke="#333" stroke-width="0.06">0</text>
<text transform="translate(327.08,124.8) scale(1,1.25)" font-family="'Liberation Serif', serif" font-size="4.4" text-anchor="middle" fill="#333" stroke="#333" stroke-width="0.06">20</text>
<text transform="translate(354.56,124.8) scale(1,1.25)" font-family="'Liberation Serif', serif" font-size="4.4" text-anchor="middle" fill="#333" stroke="#333" stroke-width="0.06">40</text>
<text transform="translate(382.04,124.8) scale(1,1.25)" font-family="'Liberation Serif', serif" font-size="4.4" text-anchor="middle" fill="#333" stroke="#333" stroke-width="0.06">60</text>
<text transform="translate(409.52,124.8) scale(1,1.25)" font-family="'Liberation Serif', serif" font-size="4.4" text-anchor="middle" fill="#333" stroke="#333" stroke-width="0.06">80</text>
<text transform="translate(295.9,118.6) scale(1,1.25)" font-family="'Liberation Serif', serif" font-size="4.4" text-anchor="end" fill="#333" stroke="#333" stroke-width="0.06">0</text>
<text transform="translate(295.9,106.79) scale(1,1.25)" font-family="'Liberation Serif', serif" font-size="4.4" text-anchor="end" fill="#333" stroke="#333" stroke-width="0.06">500</text>
<text transform="translate(295.9,94.97) scale(1,1.25)" font-family="'Liberation Serif', serif" font-size="4.4" text-anchor="end" fill="#333" stroke="#333" stroke-width="0.06">1000</text>
<text transform="translate(295.9,83.16) scale(1,1.25)" font-family="'Liberation Serif', serif" font-size="4.4" text-anchor="end" fill="#333" stroke="#333" stroke-width="0.06">1500</text>
<text transform="translate(295.9,71.34) scale(1,1.25)" font-family="'Liberation Serif', serif" font-size="4.4" text-anchor="end" fill="#333" stroke="#333" stroke-width="0.06">2000</text>
<text transform="translate(295.9,59.53) scale(1,1.25)" font-family="'Liberation Serif', serif" font-size="4.4" text-anchor="end" fill="#333" stroke="#333" stroke-width="0.06">2500</text>
<text transform="translate(295.9,47.71) scale(1,1.25)" font-family="'Liberation Serif', serif" font-size="4.4" text-anchor="end" fill="#333" stroke="#333" stroke-width="0.06">3000</text>
<text transform="translate(295.9,35.9) scale(1,1.25)" font-family="'Liberation Serif', serif" font-size="4.4" text-anchor="end" fill="#333" stroke="#333" stroke-width="0.06">3500</text>
<text transform="translate(282.1,74.85) rotate(-90)" x="0" y="0" font-family="'Liberation Serif', serif" font-weight="bold" font-size="4.6" text-anchor="middle" fill="#111">MGSI<tspan dy="1" font-size="2.8">cl</tspan><tspan dy="-1"> (10 kJ/m</tspan><tspan dy="-1.2" font-size="2.8">-2</tspan><tspan dy="1.2"> day))</tspan></text>
<rect x="302.3" y="38.95" width="6.5" height="1.6" fill="#84ccc8"/>
<rect x="302.3" y="44.8" width="6.5" height="1.2" fill="#b0b0b0"/>
<text x="309.8" y="40.8" font-family="'Liberation Serif', serif" font-size="4.0" fill="#222" stroke="#222" stroke-width="0.08">MGSI<tspan font-size="2.5" dy="0.9">cl</tspan><tspan dy="-0.9"> real</tspan></text>
<text x="309.8" y="46.6" font-family="'Liberation Serif', serif" font-size="4.0" fill="#222" stroke="#222" stroke-width="0.08">MGSI<tspan font-size="2.5" dy="0.9">cl</tspan><tspan dy="-0.9"> predicted</tspan></text>
<text x="413.2" y="39" font-family="'Liberation Serif', serif" font-size="4.08" text-anchor="end" fill="#222" stroke="#222" stroke-width="0.08">Porto de Vigo (Vigo)</text>
<path d="M423.3,116.7L423.3,56.08L423.6,56.68L423.9,58.1L424.2,59.52L424.5,60.94L424.8,62.36L425.1,63.78L425.4,66.1L425.7,67.77L426,69.53L426.3,71.21L426.6,73.1L426.9,75.19L427.2,77.41L427.5,79.69L427.8,81.96L428.1,84.31L428.4,86.86L428.7,89.45L429,91.96L429.3,94.25L429.6,96.2L429.9,98.07L430.2,99.83L430.5,101.32L430.8,102.36L431.1,102.93L431.4,103.33L431.7,103.36L432,103.02L432.3,102.38L432.6,101.51L432.9,100.5L433.2,99.41L433.5,98.1L433.8,96.22L434.1,93.89L434.4,91.29L434.7,88.58L435,85.91L435.3,83.45L435.6,81.33L435.9,79.24L436.2,77.11L436.5,75.02L436.8,73L437.1,71.13L437.4,69.45L437.7,68.02L438,62.22L438.3,61.09L438.6,59.97L438.9,58.85L439.2,57.73L439.5,56.61L439.8,55.86L440.1,56.98L440.4,58.1L440.7,59.22L441,60.35L441.3,61.47L441.6,63.02L441.9,63.82L442.2,64.71L442.5,65.81L442.8,67.53L443.1,69.72L443.4,72.16L443.7,74.62L444,76.9L444.3,79L444.6,81.12L444.9,83.25L445.2,85.37L445.5,87.46L445.8,89.51L446.1,91.5L446.4,93.46L446.7,95.56L447,97.66L447.3,99.62L447.6,101.26L447.9,104.54L448.2,105.28L448.5,106.02L448.8,105.84L449.1,105.1L449.4,104.37L449.7,103.95L450,100.4L450.3,99.21L450.6,97.83L450.9,96.06L451.2,93.99L451.5,91.73L451.8,89.37L452.1,87.01L452.4,84.75L452.7,82.61L453,80.32L453.3,77.93L453.6,75.56L453.9,73.3L454.2,71.26L454.5,69.55L454.8,68.27L455.1,67.17L455.4,60.85L455.7,58.92L456,57L456.3,55.07L456.6,53.15L456.9,51.22L457.2,50.11L457.5,52.04L457.8,53.96L458.1,55.89L458.4,57.82L458.7,59.74L459,62.32L459.3,63.74L459.6,65.33L459.9,66.95L460.2,69.03L460.5,71.68L460.8,74.67L461.1,77.73L461.4,80.63L461.7,83.18L462,85.67L462.3,88.14L462.6,90.54L462.9,92.82L463.2,94.92L463.5,96.79L463.8,98.49L464.1,100.26L464.4,101.86L464.7,103L465,103.4L465.3,103.18L465.6,102.65L465.9,101.87L466.2,100.9L466.5,99.82L466.8,98.63L467.1,96.88L467.4,94.58L467.7,91.9L468,89.01L468.3,86.06L468.6,83.22L468.9,66.4L469.2,65.96L469.5,65.53L469.8,65.1L470.1,64.67L470.4,64.24L470.7,64.58L471,65.01L471.3,64.25L471.6,63.03L471.9,61.81L472.2,60.59L472.5,59.36L472.8,58.14L473.1,57.83L473.4,59.05L473.7,60.27L474,61.49L474.3,62.71L474.6,63.15L474.9,63.43L475.2,63.83L475.5,64.32L475.8,64.87L476.1,65.65L476.4,67.01L476.7,68.83L477,70.93L477.3,73.16L477.6,75.34L477.9,77.8L478.2,80.8L478.5,84.16L478.8,87.71L479.1,91.26L479.4,94.64L479.7,97.66L480,103.43L480.3,104.07L480.6,104.71L480.9,104.52L481.2,103.88L481.5,103.24L481.8,100.14L482.1,98.78L482.4,97.35L482.7,95.95L483,94.53L483.3,92.91L483.6,91.12L483.9,89.21L484.2,87.22L484.5,85.2L484.8,83.18L485.1,81.17L485.4,78.87L485.7,76.36L486,73.81L486.3,71.4L486.6,69.3L486.9,67.68L487.2,66.71L487.5,66.11L487.8,65.56L488.1,65.08L488.4,64.69L488.7,64.4L489,64.23L489.3,64.2L489.6,64.27L489.9,64.42L490.2,64.65L490.5,64.95L490.8,65.61L491.1,67.38L491.4,69.95L491.7,72.95L492,76L492.3,78.72L492.6,81.28L492.9,83.99L493.2,86.74L493.5,89.43L493.8,91.95L494.1,94.19L494.4,96.07L494.7,97.9L495,99.72L495.3,103.73L495.6,104.21L495.9,104.7L496.2,104.68L496.5,104.2L496.8,103.71L497.1,100.66L497.4,99.23L497.7,97.7L498,96.17L498.3,94.61L498.6,92.71L498.9,90.54L499.2,88.24L499.5,85.91L499.8,83.66L500.1,81.62L500.4,79.88L500.7,78.36L501,76.97L501.3,66.49L501.6,64.57L501.9,62.66L502.2,60.75L502.5,58.84L502.8,56.93L503.1,58.03L503.4,59.94L503.7,61.85L504,61.83L504.3,61.07L504.6,60.31L504.9,59.55L505.2,58.79L505.5,58.43L505.8,59.19L506.1,59.95L506.4,60.71L506.7,61.47L507,62.23L507.3,69.11L507.6,71.86L507.9,74.82L508.2,77.75L508.5,80.36L508.8,82.56L509.1,96.97L509.4,101.37L509.7,105.77L510,107.23L510.3,103.79L510.6,103.66L510.9,103.74L511.2,104.47L511.5,104.65L511.8,103.91L512.1,103.18L512.4,99.3L512.7,98.01L513,95.03L513.3,88.86L513.6,81.74L513.9,75.98L514.2,72.23L514.5,68.83L514.8,60.96L515.1,58.82L515.4,56.69L515.7,54.55L516,52.41L516.3,50.28L516.6,49.56L516.9,51.7L517.2,53.84L517.5,55.97L517.8,58.11L518.1,60.25L518.4,69.14L518.7,73.52L519,77.92L519.3,82.22L519.6,87.08L519.9,91.72L520.2,102.33L520.5,103.16L520.8,103.99L521.1,104.82L521.4,104.58L521.7,104.79L522,104.3L522.3,103.81L522.6,103.32L522.9,98.27L523.2,96.43L523.5,94.58L523.8,92.32L524.1,89.74L524.4,86.99L524.7,84.21L525,81.54L525.3,79.14L525.6,76.96L525.9,74.72L526.2,72.48L526.5,70.36L526.8,68.43L527.1,62.42L527.4,61.52L527.7,60.61L528,59.71L528.3,58.8L528.6,57.9L528.9,57.76L529.2,58.66L529.5,59.57L529.8,60.48L530.1,61.38L530.4,62.29L530.7,64.36L531,65.07L531.3,66.28L531.6,68.19L531.9,70.54L532.2,73.07L532.5,75.54L532.8,77.73L533.1,79.91L533.4,82.15L533.7,84.39L534,86.58L534.3,88.66L534.6,90.58L534.9,92.27L535.2,93.82L535.5,95.33L535.8,96.76L536.1,98.07L536.4,99.23L536.7,100.2L537,100.94L537.3,101.57L537.6,102.16L537.9,102.67L538.2,103.07L538.2,116.7Z" fill="#93cfcc"/>
<path d="M423.3,64.19L423.6,64.19L423.9,64.19L424.2,64.19L424.5,64.19L424.8,64.21L425.1,64.81L425.4,66.1L425.7,67.77L426,69.53L426.3,71.21L426.6,73.1L426.9,75.19L427.2,77.41L427.5,79.69L427.8,81.96L428.1,84.31L428.4,86.86L428.7,89.45L429,91.96L429.3,94.25L429.6,96.2L429.9,98.07L430.2,99.83L430.5,101.32L430.8,102.36L431.1,102.93L431.4,103.33L431.7,103.36L432,103.02L432.3,102.38L432.6,101.51L432.9,100.5L433.2,99.41L433.5,98.1L433.8,96.22L434.1,93.89L434.4,91.29L434.7,88.58L435,85.91L435.3,83.45L435.6,81.33L435.9,79.24L436.2,77.11L436.5,75.02L436.8,73L437.1,71.13L437.4,69.45L437.7,68.02L438,66.89L438.3,65.99L438.6,65.11L438.9,64.28L439.2,63.52L439.5,62.86L439.8,62.31L440.1,61.91L440.4,61.68L440.7,61.65L441,61.89L441.3,62.36L441.6,63.02L441.9,63.82L442.2,64.71L442.5,65.81L442.8,67.53L443.1,69.72L443.4,72.16L443.7,74.62L444,76.9L444.3,79L444.6,81.12L444.9,83.25L445.2,85.37L445.5,87.46L445.8,89.51L446.1,91.5L446.4,93.46L446.7,95.56L447,97.66L447.3,99.62L447.6,101.26L447.9,102.45L448.2,103.29L448.5,103.85L448.8,103.82L449.1,103.35L449.4,102.56L449.7,101.55L450,100.4L450.3,99.21L450.6,97.83L450.9,96.06L451.2,93.99L451.5,91.73L451.8,89.37L452.1,87.01L452.4,84.75L452.7,82.61L453,80.32L453.3,77.93L453.6,75.56L453.9,73.3L454.2,71.26L454.5,69.55L454.8,68.27L455.1,67.17L455.4,66.1L455.7,65.08L456,64.11L456.3,63.22L456.6,62.41L456.9,61.71L457.2,61.14L457.5,60.69L457.8,60.4L458.1,60.28L458.4,60.47L458.7,61.19L459,62.32L459.3,63.74L459.6,65.33L459.9,66.95L460.2,69.03L460.5,71.68L460.8,74.67L461.1,77.73L461.4,80.63L461.7,83.18L462,85.67L462.3,88.14L462.6,90.54L462.9,92.82L463.2,94.92L463.5,96.79L463.8,98.49L464.1,100.26L464.4,101.86L464.7,103L465,103.4L465.3,103.18L465.6,102.65L465.9,101.87L466.2,100.9L466.5,99.82L466.8,98.63L467.1,96.88L467.4,94.58L467.7,91.9L468,89.01L468.3,86.06L468.6,83.22L468.9,80.44L469.2,77.07L469.5,73.49L469.8,70.23L470.1,67.82L470.4,66.76L470.7,66.95L471,67.38L471.3,67.6L471.6,67.45L471.9,67.07L472.2,66.51L472.5,65.85L472.8,65.14L473.1,64.45L473.4,63.82L473.7,63.34L474,63.05L474.3,63.01L474.6,63.15L474.9,63.43L475.2,63.83L475.5,64.32L475.8,64.87L476.1,65.65L476.4,67.01L476.7,68.83L477,70.93L477.3,73.16L477.6,75.34L477.9,77.8L478.2,80.8L478.5,84.16L478.8,87.71L479.1,91.26L479.4,94.64L479.7,97.66L480,100.15L480.3,101.93L480.6,102.82L480.9,102.78L481.2,102.23L481.5,101.32L481.8,100.14L482.1,98.78L482.4,97.35L482.7,95.95L483,94.53L483.3,92.91L483.6,91.12L483.9,89.21L484.2,87.22L484.5,85.2L484.8,83.18L485.1,81.17L485.4,78.87L485.7,76.36L486,73.81L486.3,71.4L486.6,69.3L486.9,67.68L487.2,66.71L487.5,66.11L487.8,65.56L488.1,65.08L488.4,64.69L488.7,64.4L489,64.23L489.3,64.2L489.6,64.27L489.9,64.42L490.2,64.65L490.5,64.95L490.8,65.61L491.1,67.38L491.4,69.95L491.7,72.95L492,76L492.3,78.72L492.6,81.28L492.9,83.99L493.2,86.74L493.5,89.43L493.8,91.95L494.1,94.19L494.4,96.07L494.7,97.9L495,99.72L495.3,101.34L495.6,102.6L495.9,103.31L496.2,103.33L496.5,102.81L496.8,101.89L497.1,100.66L497.4,99.23L497.7,97.7L498,96.17L498.3,94.61L498.6,92.71L498.9,90.54L499.2,88.24L499.5,85.91L499.8,83.66L500.1,81.62L500.4,79.88L500.7,78.36L501,76.97L501.3,75.66L501.6,74.38L501.9,73.09L502.2,71.74L502.5,70.28L502.8,68.45L503.1,66.3L503.4,64.42L503.7,63.36L504,63.01L504.3,62.73L504.6,62.56L504.9,62.49L505.2,62.58L505.5,62.86L505.8,63.3L506.1,63.87L506.4,64.54L506.7,65.33L507,66.85L507.3,69.11L507.6,71.86L507.9,74.82L508.2,77.75L508.5,80.36L508.8,82.56L509.1,84.76L509.4,87.38L509.7,90.86L510,95.63L510.3,103.79L510.6,103.66L510.9,103.35L511.2,102.87L511.5,102.23L511.8,101.41L512.1,100.44L512.4,99.3L512.7,98.01L513,95.03L513.3,88.86L513.6,81.74L513.9,75.98L514.2,72.23L514.5,68.83L514.8,66.09L515.1,64.34L515.4,63.42L515.7,62.64L516,62.05L516.3,61.71L516.6,61.65L516.9,61.89L517.2,62.39L517.5,63.1L517.8,63.99L518.1,65.68L518.4,69.14L518.7,73.52L519,77.92L519.3,82.22L519.6,87.08L519.9,91.72L520.2,95.29L520.5,97.77L520.8,100.06L521.1,101.94L521.4,103.12L521.7,103.36L522,102.79L522.3,101.62L522.6,100.06L522.9,98.27L523.2,96.43L523.5,94.58L523.8,92.32L524.1,89.74L524.4,86.99L524.7,84.21L525,81.54L525.3,79.14L525.6,76.96L525.9,74.72L526.2,72.48L526.5,70.36L526.8,68.43L527.1,66.8L527.4,65.56L527.7,64.76L528,64.09L528.3,63.5L528.6,63.01L528.9,62.66L529.2,62.5L529.5,62.54L529.8,62.78L530.1,63.18L530.4,63.72L530.7,64.36L531,65.07L531.3,66.28L531.6,68.19L531.9,70.54L532.2,73.07L532.5,75.54L532.8,77.73L533.1,79.91L533.4,82.15L533.7,84.39L534,86.58L534.3,88.66L534.6,90.58L534.9,92.27L535.2,93.82L535.5,95.33L535.8,96.76L536.1,98.07L536.4,99.23L536.7,100.2L537,100.94L537.3,101.57L537.6,102.16L537.9,102.67L538.2,103.07" fill="none" stroke="#303030" stroke-width="0.5" stroke-linejoin="round"/>
<path d="M423.3,34.0H538.4V116.7" fill="none" stroke="#7a7a7a" stroke-width="0.75"/>
<path d="M423.3,116.7H538.4" fill="none" stroke="#5f9f9b" stroke-width="0.9"/>
<path d="M423.3,34.0V117.0" fill="none" stroke="#666" stroke-width="0.75"/>
<path d="M422.2,116.7H423.3M422.2,104.89H423.3M422.2,93.07H423.3M422.2,81.26H423.3M422.2,69.44H423.3M422.2,57.63H423.3M422.2,45.81H423.3M422.2,34H423.3M423.3,116.7V117.8M450.78,116.7V117.8M478.26,116.7V117.8M505.74,116.7V117.8M533.22,116.7V117.8" stroke="#333" stroke-width="0.5"/>
<text transform="translate(423.6,124.8) scale(1,1.25)" font-family="'Liberation Serif', serif" font-size="4.4" text-anchor="middle" fill="#333" stroke="#333" stroke-width="0.06">0</text>
<text transform="translate(451.08,124.8) scale(1,1.25)" font-family="'Liberation Serif', serif" font-size="4.4" text-anchor="middle" fill="#333" stroke="#333" stroke-width="0.06">20</text>
<text transform="translate(478.56,124.8) scale(1,1.25)" font-family="'Liberation Serif', serif" font-size="4.4" text-anchor="middle" fill="#333" stroke="#333" stroke-width="0.06">40</text>
<text transform="translate(506.04,124.8) scale(1,1.25)" font-family="'Liberation Serif', serif" font-size="4.4" text-anchor="middle" fill="#333" stroke="#333" stroke-width="0.06">60</text>
<text transform="translate(533.52,124.8) scale(1,1.25)" font-family="'Liberation Serif', serif" font-size="4.4" text-anchor="middle" fill="#333" stroke="#333" stroke-width="0.06">80</text>
<rect x="426.3" y="38.95" width="6.5" height="1.6" fill="#84ccc8"/>
<rect x="426.3" y="44.8" width="6.5" height="1.2" fill="#b0b0b0"/>
<text x="433.8" y="40.8" font-family="'Liberation Serif', serif" font-size="4.0" fill="#222" stroke="#222" stroke-width="0.08">MGSI<tspan font-size="2.5" dy="0.9">cl</tspan><tspan dy="-0.9"> real</tspan></text>
<text x="433.8" y="46.6" font-family="'Liberation Serif', serif" font-size="4.0" fill="#222" stroke="#222" stroke-width="0.08">MGSI<tspan font-size="2.5" dy="0.9">cl</tspan><tspan dy="-0.9"> predicted</tspan></text>
<text x="536.6" y="39" font-family="'Liberation Serif', serif" font-size="4.08" text-anchor="end" fill="#222" stroke="#222" stroke-width="0.08">Porto de Vigo (Vigo)</text>
<path d="M32.2,221.3L32.2,166.64L32.5,167.59L32.8,170.15L33.1,173.27L33.4,177.49L33.7,182.64L34,187.47L34.3,191.54L34.6,195.54L34.9,199.17L35.2,201.83L35.5,203.48L35.8,204.76L36.1,207.92L36.4,208.62L36.7,209.32L37,209.26L37.3,209.02L37.6,208.29L37.9,196.77L38.2,184.18L38.5,180.3L38.8,179.82L39.1,177.36L39.4,172.07L39.7,170.11L40,169.48L40.3,170.33L40.6,174.36L40.9,173.14L41.2,170.51L41.5,168.04L41.8,167.03L42.1,166.41L42.4,166.42L42.7,167.65L43,169.86L43.3,172.66L43.6,177.17L43.9,183.35L44.2,189.17L44.5,193.64L44.8,205.76L45.1,208.01L45.4,209.57L45.7,210.2L46,209.03L46.3,207.86L46.6,202.53L46.9,200.12L47.2,196.8L47.5,192.5L47.8,187.81L48.1,183.63L48.4,179.4L48.7,175.23L49,171.77L49.3,169.43L49.6,167.38L49.9,165.47L50.2,163.77L50.5,162.38L50.8,161.37L51.1,160.79L51.4,160.72L51.7,161.6L52,163.37L52.3,165.7L52.6,168.52L52.9,173.1L53.2,178.79L53.5,184.41L53.8,189.36L54.1,194.03L54.4,198.29L54.7,201.22L55,203.3L55.3,203.93L55.6,201L55.9,196.91L56.2,192.21L56.5,185.39L56.8,177.92L57.1,172.86L57.4,168.76L57.7,165.48L58,163.73L58.3,163.98L58.6,166.42L58.9,170.26L59.2,175.84L59.5,183.85L59.8,190.86L60.1,196.76L60.4,201.72L60.7,207.95L61,208.95L61.3,209.24L61.6,208.24L61.9,207.24L62.2,200.56L62.5,197.54L62.8,193.61L63.1,189.06L63.4,184.19L63.7,177.52L64,171.58L64.3,168.99L64.6,167.37L64.9,166.65L65.2,167.31L65.5,169.54L65.8,172.8L66.1,178.81L66.4,186.14L66.7,191.15L67,195.06L67.3,198.62L67.6,201.52L67.9,203.89L68.2,206.19L68.5,208.13L68.8,209.21L69.1,208.77L69.4,207.2L69.7,205L70,202.58L70.3,200.02L70.6,196.31L70.9,191.29L71.2,186.32L71.5,182.5L71.8,179.16L72.1,176.48L72.4,174.78L72.7,173.46L73,172.68L73.3,173.26L73.6,177.16L73.9,182.06L74.2,187.97L74.5,194.93L74.8,199.87L75.1,203.56L75.4,206.71L75.7,208.41L76,209.14L76.3,209.71L76.6,209.99L76.9,211.3L77.2,208.39L77.5,205.48L77.8,178.2L78.1,172.67L78.4,168.96L78.7,168.61L79,171.63L79.3,176.61L79.6,182.55L79.9,190.32L80.2,196.4L80.5,200.75L80.8,204.46L81.1,206.38L81.4,206.83L81.7,207.27L82,207.62L82.3,207.79L82.6,206.51L82.9,202.28L83.2,196.81L83.5,192.2L83.8,188L84.1,183.95L84.4,180.21L84.7,176.96L85,173.9L85.3,171.05L85.6,168.64L85.9,166.92L86.2,165.68L86.5,164.61L86.8,163.85L87.1,163.57L87.4,164L87.7,165.26L88,167.27L88.3,169.87L88.6,172.88L88.9,176.1L89.2,179.4L89.5,183.33L89.8,188.91L90.1,194.07L90.4,197.56L90.7,199.58L91,201.66L91.3,203.66L91.6,205.44L91.9,206.98L92.2,208.23L92.5,209.12L92.8,209.57L93.1,202.13L93.4,194.49L93.7,189.35L94,185.87L94.3,183.19L94.6,180.02L94.9,176.16L95.2,172.21L95.5,168.84L95.8,166.64L96.1,164.87L96.4,163.29L96.7,161.99L97,161.1L97.3,160.69L97.6,161.46L97.9,164.84L98.2,169.95L98.5,175.64L98.8,182.83L99.1,191.23L99.4,196.7L99.7,204.58L100,204.95L100.3,205.32L100.6,205.3L100.9,204.93L101.2,200.92L101.5,198.04L101.8,195.23L102.1,191.56L102.4,186.82L102.7,181.49L103,177.15L103.3,174.01L103.6,171.4L103.9,170.39L104.2,172.11L104.5,173.72L104.8,174.27L105.1,170.67L105.4,166.88L105.7,165.88L106,165.26L106.3,164.96L106.6,165.21L106.9,166.66L107.2,168.99L107.5,171.72L107.8,174.94L108.1,179.41L108.4,184.19L108.7,188.6L109,192.7L109.3,196.8L109.6,200.12L109.9,202.67L110.2,205.14L110.5,207.33L110.8,208.85L111.1,209.16L111.4,207.82L111.7,205.52L112,202.66L112.3,199.84L112.6,196.4L112.9,191.89L113.2,186.62L113.5,181.64L113.8,177.72L114.1,173.81L114.4,169.99L114.7,166.79L115,164.71L115.3,164.09L115.6,165.4L115.9,168.45L116.2,172.69L116.5,180.14L116.8,188.27L117.1,194.98L117.4,201.18L117.7,205.05L118,206.82L118.3,209.79L118.6,210.22L118.9,210.36L119.2,209.93L119.5,209.51L119.8,202.59L120.1,199.59L120.4,196.15L120.7,191.64L121,186.5L121.3,182.11L121.6,178.32L121.9,174.77L122.2,171.88L122.5,170.22L122.8,169.45L123.1,168.93L123.4,168.24L123.7,167.04L124,165.82L124.3,165.27L124.6,165.89L124.9,167.62L125.2,170.07L125.5,172.88L125.8,176.84L126.1,182.1L126.4,187.38L126.7,191.83L127,195.43L127.3,198.92L127.6,202.04L127.9,204.65L128.2,209.73L128.5,210.19L128.8,210.35L129.1,209.88L129.4,209.42L129.7,203.99L130,201.06L130.3,198.19L130.6,194.8L130.9,190.19L131.2,184.65L131.5,179.47L131.8,174.85L132.1,170.37L132.4,166.39L132.7,163.48L133,161.11L133.3,159.38L133.6,159.11L133.9,161.6L134.2,165.83L134.5,170.12L134.8,175.41L135.1,181.02L135.4,186.08L135.7,190.16L136,193.61L136.3,196.89L136.6,199.91L136.9,202.7L137.2,209.94L137.5,210.62L137.8,211.3L138.1,210.62L138.4,209.94L138.7,203.94L139,201.01L139.3,198.36L139.6,195.48L139.9,192.28L140.2,188.94L140.5,185.81L140.8,183.06L141.1,180.51L141.4,178.15L141.7,176.04L142,173.95L142.3,171.86L142.6,170.16L142.9,169.23L143.2,168.81L143.5,168.51L143.8,168.35L144.1,168.52L144.4,169.48L144.7,171.16L145,173.44L145.3,177.38L145.6,184.09L145.9,189.62L146.2,193.87L146.5,198.11L146.8,201.3L147.1,203.49L147.4,204.14L147.4,221.3Z" fill="#93cfcc"/>
<path d="M32.2,166.64L32.5,167.59L32.8,170.15L33.1,173.27L33.4,177.49L33.7,182.64L34,187.47L34.3,191.54L34.6,195.54L34.9,199.17L35.2,201.83L35.5,203.48L35.8,204.76L36.1,205.98L36.4,206.98L36.7,207.7L37,208.07L37.3,206.9L37.6,203.82L37.9,196.77L38.2,184.18L38.5,180.3L38.8,179.82L39.1,177.36L39.4,172.07L39.7,170.11L40,169.48L40.3,170.33L40.6,174.36L40.9,173.14L41.2,170.51L41.5,168.04L41.8,167.03L42.1,166.41L42.4,166.42L42.7,167.65L43,169.86L43.3,172.66L43.6,177.17L43.9,183.35L44.2,189.17L44.5,193.64L44.8,197.29L45.1,200.85L45.4,204.39L45.7,207.54L46,206.67L46.3,204.82L46.6,202.53L46.9,200.12L47.2,196.8L47.5,192.5L47.8,187.81L48.1,183.63L48.4,179.4L48.7,175.23L49,171.77L49.3,169.43L49.6,167.38L49.9,165.47L50.2,163.77L50.5,162.38L50.8,161.37L51.1,160.79L51.4,160.72L51.7,161.6L52,163.37L52.3,165.7L52.6,168.52L52.9,173.1L53.2,178.79L53.5,184.41L53.8,189.36L54.1,194.03L54.4,198.29L54.7,201.22L55,203.3L55.3,203.93L55.6,201L55.9,196.91L56.2,192.21L56.5,185.39L56.8,177.92L57.1,172.86L57.4,168.76L57.7,165.48L58,163.73L58.3,163.98L58.6,166.42L58.9,170.26L59.2,175.84L59.5,183.85L59.8,190.86L60.1,196.76L60.4,201.72L60.7,205.09L61,207.52L61.3,206.87L61.6,205.13L61.9,202.88L62.2,200.56L62.5,197.54L62.8,193.61L63.1,189.06L63.4,184.19L63.7,177.52L64,171.58L64.3,168.99L64.6,167.37L64.9,166.65L65.2,167.31L65.5,169.54L65.8,172.8L66.1,178.81L66.4,186.14L66.7,191.15L67,195.06L67.3,198.62L67.6,201.52L67.9,203.89L68.2,206.19L68.5,208.13L68.8,209.21L69.1,208.77L69.4,207.2L69.7,205L70,202.58L70.3,200.02L70.6,196.31L70.9,191.29L71.2,186.32L71.5,182.5L71.8,179.16L72.1,176.48L72.4,174.78L72.7,173.46L73,172.68L73.3,173.26L73.6,177.16L73.9,182.06L74.2,187.97L74.5,194.93L74.8,199.87L75.1,203.56L75.4,206.71L75.7,208.41L76,209.14L76.3,209.71L76.6,209.99L76.9,204.03L77.2,194.15L77.5,184.86L77.8,178.2L78.1,172.67L78.4,168.96L78.7,168.61L79,171.63L79.3,176.61L79.6,182.55L79.9,190.32L80.2,196.4L80.5,200.75L80.8,204.46L81.1,206.38L81.4,206.83L81.7,207.27L82,207.62L82.3,207.79L82.6,206.51L82.9,202.28L83.2,196.81L83.5,192.2L83.8,188L84.1,183.95L84.4,180.21L84.7,176.96L85,173.9L85.3,171.05L85.6,168.64L85.9,166.92L86.2,165.68L86.5,164.61L86.8,163.85L87.1,163.57L87.4,164L87.7,165.26L88,167.27L88.3,169.87L88.6,172.88L88.9,176.1L89.2,179.4L89.5,183.33L89.8,188.91L90.1,194.07L90.4,197.56L90.7,199.58L91,201.66L91.3,203.66L91.6,205.44L91.9,206.98L92.2,208.23L92.5,209.12L92.8,209.57L93.1,202.13L93.4,194.49L93.7,189.35L94,185.87L94.3,183.19L94.6,180.02L94.9,176.16L95.2,172.21L95.5,168.84L95.8,166.64L96.1,164.87L96.4,163.29L96.7,161.99L97,161.1L97.3,160.69L97.6,161.46L97.9,164.84L98.2,169.95L98.5,175.64L98.8,182.83L99.1,191.23L99.4,196.7L99.7,199.68L100,202.37L100.3,204.38L100.6,204.77L100.9,203.32L101.2,200.92L101.5,198.04L101.8,195.23L102.1,191.56L102.4,186.82L102.7,181.49L103,177.15L103.3,174.01L103.6,171.4L103.9,170.39L104.2,172.11L104.5,173.72L104.8,174.27L105.1,170.67L105.4,166.88L105.7,165.88L106,165.26L106.3,164.96L106.6,165.21L106.9,166.66L107.2,168.99L107.5,171.72L107.8,174.94L108.1,179.41L108.4,184.19L108.7,188.6L109,192.7L109.3,196.8L109.6,200.12L109.9,202.67L110.2,205.14L110.5,207.33L110.8,208.85L111.1,209.16L111.4,207.82L111.7,205.52L112,202.66L112.3,199.84L112.6,196.4L112.9,191.89L113.2,186.62L113.5,181.64L113.8,177.72L114.1,173.81L114.4,169.99L114.7,166.79L115,164.71L115.3,164.09L115.6,165.4L115.9,168.45L116.2,172.69L116.5,180.14L116.8,188.27L117.1,194.98L117.4,201.18L117.7,205.05L118,206.82L118.3,208.35L118.6,209.37L118.9,209.47L119.2,208.03L119.5,205.62L119.8,202.59L120.1,199.59L120.4,196.15L120.7,191.64L121,186.5L121.3,182.11L121.6,178.32L121.9,174.77L122.2,171.88L122.5,170.22L122.8,169.45L123.1,168.93L123.4,168.24L123.7,167.04L124,165.82L124.3,165.27L124.6,165.89L124.9,167.62L125.2,170.07L125.5,172.88L125.8,176.84L126.1,182.1L126.4,187.38L126.7,191.83L127,195.43L127.3,198.92L127.6,202.04L127.9,204.65L128.2,206.9L128.5,209L128.8,209.51L129.1,208.44L129.4,206.5L129.7,203.99L130,201.06L130.3,198.19L130.6,194.8L130.9,190.19L131.2,184.65L131.5,179.47L131.8,174.85L132.1,170.37L132.4,166.39L132.7,163.48L133,161.11L133.3,159.38L133.6,159.11L133.9,161.6L134.2,165.83L134.5,170.12L134.8,175.41L135.1,181.02L135.4,186.08L135.7,190.16L136,193.61L136.3,196.89L136.6,199.91L136.9,202.7L137.2,205.39L137.5,208.16L137.8,209.6L138.1,208.71L138.4,206.64L138.7,203.94L139,201.01L139.3,198.36L139.6,195.48L139.9,192.28L140.2,188.94L140.5,185.81L140.8,183.06L141.1,180.51L141.4,178.15L141.7,176.04L142,173.95L142.3,171.86L142.6,170.16L142.9,169.23L143.2,168.81L143.5,168.51L143.8,168.35L144.1,168.52L144.4,169.48L144.7,171.16L145,173.44L145.3,177.38L145.6,184.09L145.9,189.62L146.2,193.87L146.5,198.11L146.8,201.3L147.1,203.49L147.4,204.14" fill="none" stroke="#303030" stroke-width="0.5" stroke-linejoin="round"/>
<path d="M32.2,138.5H147.5V221.3" fill="none" stroke="#7a7a7a" stroke-width="0.75"/>
<path d="M32.2,221.3H147.5" fill="none" stroke="#5f9f9b" stroke-width="0.9"/>
<path d="M32.2,138.5V221.60000000000002" fill="none" stroke="#666" stroke-width="0.75"/>
<path d="M31.1,221.3H32.2M31.1,209.47H32.2M31.1,197.64H32.2M31.1,185.81H32.2M31.1,173.99H32.2M31.1,162.16H32.2M31.1,150.33H32.2M31.1,138.5H32.2M32.2,221.3V222.4M48.8,221.3V222.4M65.4,221.3V222.4M82,221.3V222.4M98.6,221.3V222.4M115.2,221.3V222.4M131.8,221.3V222.4" stroke="#333" stroke-width="0.5"/>
<text transform="translate(32.5,229.4) scale(1,1.25)" font-family="'Liberation Serif', serif" font-size="4.4" text-anchor="middle" fill="#333" stroke="#333" stroke-width="0.06">0</text>
<text transform="translate(49.1,229.4) scale(1,1.25)" font-family="'Liberation Serif', serif" font-size="4.4" text-anchor="middle" fill="#333" stroke="#333" stroke-width="0.06">20</text>
<text transform="translate(65.7,229.4) scale(1,1.25)" font-family="'Liberation Serif', serif" font-size="4.4" text-anchor="middle" fill="#333" stroke="#333" stroke-width="0.06">40</text>
<text transform="translate(82.3,229.4) scale(1,1.25)" font-family="'Liberation Serif', serif" font-size="4.4" text-anchor="middle" fill="#333" stroke="#333" stroke-width="0.06">60</text>
<text transform="translate(98.9,229.4) scale(1,1.25)" font-family="'Liberation Serif', serif" font-size="4.4" text-anchor="middle" fill="#333" stroke="#333" stroke-width="0.06">80</text>
<text transform="translate(115.5,229.4) scale(1,1.25)" font-family="'Liberation Serif', serif" font-size="4.4" text-anchor="middle" fill="#333" stroke="#333" stroke-width="0.06">100</text>
<text transform="translate(132.1,229.4) scale(1,1.25)" font-family="'Liberation Serif', serif" font-size="4.4" text-anchor="middle" fill="#333" stroke="#333" stroke-width="0.06">120</text>
<text transform="translate(28.8,223.2) scale(1,1.25)" font-family="'Liberation Serif', serif" font-size="4.4" text-anchor="end" fill="#333" stroke="#333" stroke-width="0.06">0</text>
<text transform="translate(28.8,211.37) scale(1,1.25)" font-family="'Liberation Serif', serif" font-size="4.4" text-anchor="end" fill="#333" stroke="#333" stroke-width="0.06">500</text>
<text transform="translate(28.8,199.54) scale(1,1.25)" font-family="'Liberation Serif', serif" font-size="4.4" text-anchor="end" fill="#333" stroke="#333" stroke-width="0.06">1000</text>
<text transform="translate(28.8,187.71) scale(1,1.25)" font-family="'Liberation Serif', serif" font-size="4.4" text-anchor="end" fill="#333" stroke="#333" stroke-width="0.06">1500</text>
<text transform="translate(28.8,175.89) scale(1,1.25)" font-family="'Liberation Serif', serif" font-size="4.4" text-anchor="end" fill="#333" stroke="#333" stroke-width="0.06">2000</text>
<text transform="translate(28.8,164.06) scale(1,1.25)" font-family="'Liberation Serif', serif" font-size="4.4" text-anchor="end" fill="#333" stroke="#333" stroke-width="0.06">2500</text>
<text transform="translate(28.8,152.23) scale(1,1.25)" font-family="'Liberation Serif', serif" font-size="4.4" text-anchor="end" fill="#333" stroke="#333" stroke-width="0.06">3000</text>
<text transform="translate(28.8,140.4) scale(1,1.25)" font-family="'Liberation Serif', serif" font-size="4.4" text-anchor="end" fill="#333" stroke="#333" stroke-width="0.06">3500</text>
<text transform="translate(16.4,179.4) rotate(-90)" x="0" y="0" font-family="'Liberation Serif', serif" font-weight="bold" font-size="4.5" text-anchor="middle" fill="#111">MGSI (10 kJ/m<tspan dy="-1.2" font-size="2.8">-2</tspan><tspan dy="1.2"> day))</tspan></text>
<rect x="35.5" y="143.3" width="8.8" height="1.8" fill="#84ccc8"/>
<rect x="35.5" y="148.1" width="8.8" height="1.2" fill="#b0b0b0"/>
<text x="46.1" y="145.6" font-family="'Liberation Serif', serif" font-size="3.85" fill="#222" stroke="#222" stroke-width="0.08">MGSI real</text>
<text x="46.1" y="149.8" font-family="'Liberation Serif', serif" font-size="3.85" fill="#222" stroke="#222" stroke-width="0.08">MGSI modelled</text>
<text x="145.7" y="143.5" font-family="'Liberation Serif', serif" font-size="4.08" text-anchor="end" fill="#222" stroke="#222" stroke-width="0.08">O Viso (Redondela)</text>
<path d="M156,221.3L156,169.19L156.3,169.79L156.6,171.8L156.9,174.56L157.2,177.71L157.5,182.21L157.8,187.15L158.1,191.52L158.4,195.23L158.7,198.98L159,202.14L159.3,204.51L159.6,206.13L159.9,207.67L160.2,208.96L160.5,209.81L160.8,209.34L161.1,204.92L161.4,197.07L161.7,186.85L162,182.85L162.3,180.89L162.6,178.73L162.9,176.33L163.2,172.44L163.5,169.91L163.8,168.7L164.1,167.91L164.4,167.21L164.7,166.5L165,165.87L165.3,165.43L165.6,165.27L165.9,165.64L166.2,166.51L166.5,168.36L166.8,172.36L167.1,177.69L167.4,183.22L167.7,188.61L168,194.72L168.3,199.75L168.6,203.21L168.9,206.5L169.2,209.1L169.5,210.3L169.8,209.35L170.1,207.16L170.4,204.32L170.7,201.35L171,198.47L171.3,195.24L171.6,191.6L171.9,187.7L172.2,183.73L172.5,180.03L172.8,176.37L173.1,172.7L173.4,169.35L173.7,166.69L174,164.17L174.3,161.9L174.6,160.45L174.9,160.21L175.2,160.98L175.5,162.51L175.8,164.6L176.1,167.05L176.4,170.5L176.7,175.72L177,181.57L177.3,187.11L177.6,192.15L177.9,197.23L178.2,201.53L178.5,205.04L178.8,205.05L179.1,203.21L179.4,200.58L179.7,197.38L180,194.57L180.3,189.35L180.6,180.91L180.9,172.71L181.2,166.74L181.5,162.72L181.8,162.78L182.1,165.05L182.4,168.53L182.7,172.35L183,177.35L183.3,183.24L183.6,188.97L183.9,194.09L184.2,198.96L184.5,203.84L184.8,208.54L185.1,209.05L185.4,207.19L185.7,204.62L186,201.77L186.3,198.96L186.6,195.73L186.9,191.98L187.2,187.89L187.5,182.95L187.8,176.49L188.1,171.19L188.4,167.54L188.7,164.85L189,164.15L189.3,166.89L189.6,172.23L189.9,178.25L190.2,186.15L190.5,192.58L190.8,196.39L191.1,199.74L191.4,202.65L191.7,205.1L192,207.23L192.3,209.28L192.6,210.58L192.9,210.35L193.2,208.88L193.5,206.68L193.8,204.02L194.1,201.45L194.4,198.33L194.7,194.01L195,188.85L195.3,184.09L195.6,180.01L195.9,176.33L196.2,173.15L196.5,170.25L196.8,167.85L197.1,168.5L197.4,176.58L197.7,183.23L198,188.69L198.3,193.82L198.6,198.03L198.9,201.65L199.2,204.99L199.5,207.57L199.8,209.32L200.1,210.81L200.4,211.72L200.7,210.03L201,205.18L201.3,198.01L201.6,185.66L201.9,172.56L202.2,163.35L202.5,164.58L202.8,168.71L203.1,173.49L203.4,178.94L203.7,185.23L204,190.92L204.3,195.46L204.6,199.34L204.9,202.91L205.2,206.17L205.5,208.86L205.8,208.83L206.1,207.3L206.4,205.03L206.7,202.26L207,199.18L207.3,196.29L207.6,193.07L207.9,189.25L208.2,185.06L208.5,181.07L208.8,177.6L209.1,174.24L209.4,171.08L209.7,168.4L210,166.48L210.3,164.84L210.6,163.44L210.9,162.56L211.2,162.49L211.5,164.45L211.8,168.67L212.1,174.56L212.4,181.23L212.7,187.8L213,193.61L213.3,198.33L213.6,201.88L213.9,204.26L214.2,205.66L214.5,207.06L214.8,208.38L215.1,209.52L215.4,210.45L215.7,211.1L216,211.39L216.3,203.77L216.6,197.14L216.9,192.74L217.2,189.53L217.5,187.13L217.8,185.05L218.1,182.55L218.4,179.87L218.7,177.28L219,174.83L219.3,172.51L219.6,170.36L219.9,168.25L220.2,165.92L220.5,163.58L220.8,161.58L221.1,160.25L221.4,159.83L221.7,161.93L222,167.08L222.3,173.39L222.6,179.04L222.9,184.24L223.2,190.6L223.5,199.3L223.8,207L224.1,206.6L224.4,205.55L224.7,204.04L225,202.19L225.3,200.1L225.6,198.01L225.9,195.66L226.2,192.22L226.5,187.83L226.8,183.05L227.1,179.37L227.4,177.03L227.7,175.15L228,172.88L228.3,170.45L228.6,168.71L228.9,168.07L229.2,167.68L229.5,167.49L229.8,167.89L230.1,169.36L230.4,171.55L230.7,174.01L231,177L231.3,181.01L231.6,185.3L231.9,189.31L232.2,192.95L232.5,196.74L232.8,200.17L233.1,202.86L233.4,204.82L233.7,206.66L234,208.27L234.3,209.35L234.6,209.49L234.9,208.25L235.2,206.17L235.5,203.51L235.8,200.62L236.1,197.75L236.4,194.09L236.7,189.6L237,184.95L237.3,181.31L237.6,178.21L237.9,175.22L238.2,172.68L238.5,171.03L238.8,170.6L239.1,173.57L239.4,179.36L239.7,184.7L240,190.35L240.3,195.45L240.6,199.03L240.9,201.58L241.2,203.93L241.5,206.07L241.8,208.16L242.1,210.38L242.4,210.45L242.7,209.35L243,207.64L243.3,205.49L243.6,202.99L243.9,200.28L244.2,197.66L244.5,194.35L244.8,190.08L245.1,185.36L245.4,180.67L245.7,174.86L246,170.63L246.3,169.75L246.6,169.36L246.9,169.2L247.2,169.82L247.5,171.28L247.8,171.94L248.1,170.83L248.4,170.29L248.7,172.73L249,176.71L249.3,180.94L249.6,186.39L249.9,191.85L250.2,196.22L250.5,199.48L250.8,202.47L251.1,205.18L251.4,207.59L251.7,209.82L252,211.4L252.3,210.79L252.6,209.28L252.9,207.15L253.2,204.59L253.5,201.7L253.8,199L254.1,195.72L254.4,191.23L254.7,186.17L255,182.24L255.3,179.97L255.6,178.53L255.9,177.24L256.2,175.03L256.5,171.07L256.8,166.91L257.1,164.68L257.4,167.02L257.7,175.46L258,182.96L258.3,188.09L258.6,193.27L258.9,197.48L259.2,200.53L259.5,202.64L259.8,204.71L260.1,206.68L260.4,208.41L260.7,209.87L261,210.98L261.3,211.66L261.6,209.78L261.9,202.1L262.2,196.25L262.5,192.91L262.8,190.44L263.1,188.34L263.4,186.13L263.7,184.04L264,182.17L264.3,180.53L264.6,179.14L264.9,177.76L265.2,176.39L265.5,175.18L265.8,174.28L266.1,173.83L266.4,173.91L266.7,174.5L267,175.49L267.3,176.73L267.6,178.51L267.9,181.5L268.2,184.92L268.5,188.02L268.8,190.74L269.1,193.53L269.4,196.13L269.7,198.44L270,200.53L270.3,202.71L270.6,204.78L270.9,206.43L271.2,207.44L271.5,207.55L271.5,221.3Z" fill="#93cfcc"/>
<path d="M156,169.19L156.3,169.79L156.6,171.8L156.9,174.56L157.2,177.71L157.5,182.21L157.8,187.15L158.1,191.52L158.4,195.23L158.7,198.98L159,202.14L159.3,204.51L159.6,206.13L159.9,207.67L160.2,208.96L160.5,209.81L160.8,209.34L161.1,204.92L161.4,197.07L161.7,186.85L162,182.85L162.3,180.89L162.6,178.73L162.9,176.33L163.2,172.44L163.5,169.91L163.8,168.7L164.1,167.91L164.4,167.21L164.7,166.5L165,165.87L165.3,165.43L165.6,165.27L165.9,165.64L166.2,166.51L166.5,168.36L166.8,172.36L167.1,177.69L167.4,183.22L167.7,188.61L168,194.72L168.3,199.75L168.6,203.21L168.9,206.5L169.2,209.1L169.5,210.3L169.8,209.35L170.1,207.16L170.4,204.32L170.7,201.35L171,198.47L171.3,195.24L171.6,191.6L171.9,187.7L172.2,183.73L172.5,180.03L172.8,176.37L173.1,172.7L173.4,169.35L173.7,166.69L174,164.17L174.3,161.9L174.6,160.45L174.9,160.21L175.2,160.98L175.5,162.51L175.8,164.6L176.1,167.05L176.4,170.5L176.7,175.72L177,181.57L177.3,187.11L177.6,192.15L177.9,197.23L178.2,201.53L178.5,205.04L178.8,205.05L179.1,203.21L179.4,200.58L179.7,197.38L180,194.57L180.3,189.35L180.6,180.91L180.9,172.71L181.2,166.74L181.5,162.72L181.8,162.78L182.1,165.05L182.4,168.53L182.7,172.35L183,177.35L183.3,183.24L183.6,188.97L183.9,194.09L184.2,198.96L184.5,203.84L184.8,208.54L185.1,209.05L185.4,207.19L185.7,204.62L186,201.77L186.3,198.96L186.6,195.73L186.9,191.98L187.2,187.89L187.5,182.95L187.8,176.49L188.1,171.19L188.4,167.54L188.7,164.85L189,164.15L189.3,166.89L189.6,172.23L189.9,178.25L190.2,186.15L190.5,192.58L190.8,196.39L191.1,199.74L191.4,202.65L191.7,205.1L192,207.23L192.3,209.28L192.6,210.58L192.9,210.35L193.2,208.88L193.5,206.68L193.8,204.02L194.1,201.45L194.4,198.33L194.7,194.01L195,188.85L195.3,184.09L195.6,180.01L195.9,176.33L196.2,173.15L196.5,170.25L196.8,167.85L197.1,168.5L197.4,176.58L197.7,183.23L198,188.69L198.3,193.82L198.6,198.03L198.9,201.65L199.2,204.99L199.5,207.57L199.8,209.32L200.1,210.81L200.4,211.72L200.7,210.03L201,205.18L201.3,198.01L201.6,185.66L201.9,172.56L202.2,163.35L202.5,164.58L202.8,168.71L203.1,173.49L203.4,178.94L203.7,185.23L204,190.92L204.3,195.46L204.6,199.34L204.9,202.91L205.2,206.17L205.5,208.86L205.8,208.83L206.1,207.3L206.4,205.03L206.7,202.26L207,199.18L207.3,196.29L207.6,193.07L207.9,189.25L208.2,185.06L208.5,181.07L208.8,177.6L209.1,174.24L209.4,171.08L209.7,168.4L210,166.48L210.3,164.84L210.6,163.44L210.9,162.56L211.2,162.49L211.5,164.45L211.8,168.67L212.1,174.56L212.4,181.23L212.7,187.8L213,193.61L213.3,198.33L213.6,201.88L213.9,204.26L214.2,205.66L214.5,207.06L214.8,208.38L215.1,209.52L215.4,210.45L215.7,211.1L216,211.39L216.3,203.77L216.6,197.14L216.9,192.74L217.2,189.53L217.5,187.13L217.8,185.05L218.1,182.55L218.4,179.87L218.7,177.28L219,174.83L219.3,172.51L219.6,170.36L219.9,168.25L220.2,165.92L220.5,163.58L220.8,161.58L221.1,160.25L221.4,159.83L221.7,161.93L222,167.08L222.3,173.39L222.6,179.04L222.9,184.24L223.2,190.6L223.5,199.3L223.8,207L224.1,206.6L224.4,205.55L224.7,204.04L225,202.19L225.3,200.1L225.6,198.01L225.9,195.66L226.2,192.22L226.5,187.83L226.8,183.05L227.1,179.37L227.4,177.03L227.7,175.15L228,172.88L228.3,170.45L228.6,168.71L228.9,168.07L229.2,167.68L229.5,167.49L229.8,167.89L230.1,169.36L230.4,171.55L230.7,174.01L231,177L231.3,181.01L231.6,185.3L231.9,189.31L232.2,192.95L232.5,196.74L232.8,200.17L233.1,202.86L233.4,204.82L233.7,206.66L234,208.27L234.3,209.35L234.6,209.49L234.9,208.25L235.2,206.17L235.5,203.51L235.8,200.62L236.1,197.75L236.4,194.09L236.7,189.6L237,184.95L237.3,181.31L237.6,178.21L237.9,175.22L238.2,172.68L238.5,171.03L238.8,170.6L239.1,173.57L239.4,179.36L239.7,184.7L240,190.35L240.3,195.45L240.6,199.03L240.9,201.58L241.2,203.93L241.5,206.07L241.8,208.16L242.1,210.38L242.4,210.45L242.7,209.35L243,207.64L243.3,205.49L243.6,202.99L243.9,200.28L244.2,197.66L244.5,194.35L244.8,190.08L245.1,185.36L245.4,180.67L245.7,174.86L246,170.63L246.3,169.75L246.6,169.36L246.9,169.2L247.2,169.82L247.5,171.28L247.8,171.94L248.1,170.83L248.4,170.29L248.7,172.73L249,176.71L249.3,180.94L249.6,186.39L249.9,191.85L250.2,196.22L250.5,199.48L250.8,202.47L251.1,205.18L251.4,207.59L251.7,209.82L252,211.4L252.3,210.79L252.6,209.28L252.9,207.15L253.2,204.59L253.5,201.7L253.8,199L254.1,195.72L254.4,191.23L254.7,186.17L255,182.24L255.3,179.97L255.6,178.53L255.9,177.24L256.2,175.03L256.5,171.07L256.8,166.91L257.1,164.68L257.4,167.02L257.7,175.46L258,182.96L258.3,188.09L258.6,193.27L258.9,197.48L259.2,200.53L259.5,202.64L259.8,204.71L260.1,206.68L260.4,208.41L260.7,209.87L261,210.98L261.3,211.66L261.6,209.78L261.9,202.1L262.2,196.25L262.5,192.91L262.8,190.44L263.1,188.34L263.4,186.13L263.7,184.04L264,182.17L264.3,180.53L264.6,179.14L264.9,177.76L265.2,176.39L265.5,175.18L265.8,174.28L266.1,173.83L266.4,173.91L266.7,174.5L267,175.49L267.3,176.73L267.6,178.51L267.9,181.5L268.2,184.92L268.5,188.02L268.8,190.74L269.1,193.53L269.4,196.13L269.7,198.44L270,200.53L270.3,202.71L270.6,204.78L270.9,206.43L271.2,207.44L271.5,207.55" fill="none" stroke="#303030" stroke-width="0.5" stroke-linejoin="round"/>
<path d="M156.0,138.5H271.5V221.3" fill="none" stroke="#7a7a7a" stroke-width="0.75"/>
<path d="M156.0,221.3H271.5" fill="none" stroke="#5f9f9b" stroke-width="0.9"/>
<path d="M156.0,138.5V221.60000000000002" fill="none" stroke="#666" stroke-width="0.75"/>
<path d="M154.9,221.3H156.0M154.9,209.47H156.0M154.9,197.64H156.0M154.9,185.81H156.0M154.9,173.99H156.0M154.9,162.16H156.0M154.9,150.33H156.0M154.9,138.5H156.0M156,221.3V222.4M172.6,221.3V222.4M189.2,221.3V222.4M205.8,221.3V222.4M222.4,221.3V222.4M239,221.3V222.4M255.6,221.3V222.4" stroke="#333" stroke-width="0.5"/>
<text transform="translate(156.3,229.4) scale(1,1.25)" font-family="'Liberation Serif', serif" font-size="4.4" text-anchor="middle" fill="#333" stroke="#333" stroke-width="0.06">0</text>
<text transform="translate(172.9,229.4) scale(1,1.25)" font-family="'Liberation Serif', serif" font-size="4.4" text-anchor="middle" fill="#333" stroke="#333" stroke-width="0.06">20</text>
<text transform="translate(189.5,229.4) scale(1,1.25)" font-family="'Liberation Serif', serif" font-size="4.4" text-anchor="middle" fill="#333" stroke="#333" stroke-width="0.06">40</text>
<text transform="translate(206.1,229.4) scale(1,1.25)" font-family="'Liberation Serif', serif" font-size="4.4" text-anchor="middle" fill="#333" stroke="#333" stroke-width="0.06">60</text>
<text transform="translate(222.7,229.4) scale(1,1.25)" font-family="'Liberation Serif', serif" font-size="4.4" text-anchor="middle" fill="#333" stroke="#333" stroke-width="0.06">80</text>
<text transform="translate(239.3,229.4) scale(1,1.25)" font-family="'Liberation Serif', serif" font-size="4.4" text-anchor="middle" fill="#333" stroke="#333" stroke-width="0.06">100</text>
<text transform="translate(255.9,229.4) scale(1,1.25)" font-family="'Liberation Serif', serif" font-size="4.4" text-anchor="middle" fill="#333" stroke="#333" stroke-width="0.06">120</text>
<rect x="159.3" y="143.3" width="8.8" height="1.8" fill="#84ccc8"/>
<rect x="159.3" y="148.1" width="8.8" height="1.2" fill="#b0b0b0"/>
<text x="169.9" y="145.6" font-family="'Liberation Serif', serif" font-size="3.85" fill="#222" stroke="#222" stroke-width="0.08">MGSI real</text>
<text x="169.9" y="149.8" font-family="'Liberation Serif', serif" font-size="3.85" fill="#222" stroke="#222" stroke-width="0.08">MGSI modelled</text>
<text x="269.7" y="143.5" font-family="'Liberation Serif', serif" font-size="4.08" text-anchor="end" fill="#222" stroke="#222" stroke-width="0.08">O Viso (Redondela)</text>
<path d="M299.3,221.3L299.3,173.45L299.6,174.53L299.9,177.96L300.2,181.72L300.5,186.48L300.8,191.24L301.1,195.05L301.4,197.7L301.7,199.97L302,202.28L302.3,208.2L302.6,209.73L302.9,209.96L303.2,209.28L303.5,209.06L303.8,208.4L304.1,201.56L304.4,197.47L304.7,194L305,190.61L305.3,187.05L305.6,183.53L305.9,180.29L306.2,177.72L306.5,175.57L306.8,173.48L307.1,171.61L307.4,170.16L307.7,169.34L308,169.25L308.3,169.9L308.6,171.23L308.9,173.06L309.2,175.22L309.5,177.56L309.8,180.46L310.1,184.63L310.4,189.29L310.7,193.81L311,197.74L311.3,201.12L311.6,204.61L311.9,207.83L312.2,210.1L312.5,210.65L312.8,210.01L313.1,208.79L313.4,207.14L313.7,205.15L314,202.89L314.3,200.43L314.6,197.93L314.9,195.54L315.2,192.44L315.5,188.5L315.8,184.11L316.1,179.87L316.4,176.61L316.7,167.01L317,164.62L317.3,162.23L317.6,159.84L317.9,162.19L318.2,164.58L318.5,166.97L318.8,170.26L319.1,172.91L319.4,176.04L319.7,179.47L320,183.62L320.3,189.39L320.6,195.02L320.9,199.62L321.2,203.63L321.5,207.32L321.8,209.2L322.1,207.87L322.4,205.09L322.7,180.32L323,174.71L323.3,169.1L323.6,164.67L323.9,170.29L324.2,168.26L324.5,166.71L324.8,168.33L325.1,171.74L325.4,176.1L325.7,181.14L326,188.49L326.3,195.84L326.6,201.53L326.9,206.29L327.2,209.86L327.5,210L327.8,208.74L328.1,206.82L328.4,204.43L328.7,201.68L329,198.95L329.3,196.06L329.6,192.24L329.9,187.47L330.2,182.71L330.5,179.17L330.8,176.04L331.1,173.15L331.4,171L331.7,170.07L332,170.86L332.3,173.79L332.6,177.96L332.9,182.4L333.2,187.75L333.5,194.11L333.8,199.11L334.1,202.24L334.4,204.48L334.7,206.82L335,208.75L335.3,210.14L335.6,210.7L335.9,209.08L336.2,205.75L336.5,200.92L336.8,195.44L337.1,191.31L337.4,187.68L337.7,184.15L338,180.88L338.3,178.06L338.6,175.91L338.9,174.14L339.2,172.46L339.5,171L339.8,169.91L340.1,169.29L340.4,169.46L340.7,172.18L341,176.97L341.3,182.07L341.6,186.6L341.9,191.55L342.2,196.52L342.5,209.52L342.8,210.76L343.1,212L343.4,210.76L343.7,209.52L344,199.86L344.3,194.59L344.6,187.06L344.9,180.36L345.2,175.53L345.5,171.78L345.8,171.03L346.1,174.35L346.4,180.1L346.7,185.49L347,191.58L347.3,197.24L347.6,201.49L347.9,204.64L348.2,207.77L348.5,210.26L348.8,211.4L349.1,210.44L349.4,208.21L349.7,205.15L350,201.42L350.3,197.26L350.6,193.56L350.9,189.82L351.2,185.58L351.5,181.1L351.8,176.91L352.1,173.62L352.4,166.33L352.7,165.39L353,164.46L353.3,163.53L353.6,163.86L353.9,164.79L354.2,165.72L354.5,167.94L354.8,170.21L355.1,172.87L355.4,176.89L355.7,182.22L356,187.01L356.3,190.42L356.6,193.38L356.9,196.53L357.2,199.49L357.5,207.58L357.8,209.44L358.1,210.62L358.4,208.76L358.7,209.62L359,210.25L359.3,209.43L359.6,206.38L359.9,201.87L360.2,196.65L360.5,192.89L360.8,189.84L361.1,186.98L361.4,184.31L361.7,181.82L362,179.53L362.3,177.41L362.6,175.47L362.9,173.43L363.2,166.65L363.5,164.3L363.8,161.95L364.1,159.61L364.4,160.67L364.7,163.02L365,165.37L365.3,173.05L365.6,175.82L365.9,178.79L366.2,182.29L366.5,187.25L366.8,194.33L367.1,203.19L367.4,209.53L367.7,208.83L368,207.56L368.3,205.86L368.6,203.82L368.9,201.5L369.2,198.97L369.5,196.38L369.8,193.95L370.1,190.86L370.4,186.91L370.7,182.48L371,178.18L371.3,174.85L371.6,172.56L371.9,170.47L372.2,168.75L372.5,167.71L372.8,167.54L373.1,168.42L373.4,170.29L373.7,172.93L374,176.03L374.3,179.4L374.6,183.86L374.9,190.24L375.2,195.75L375.5,199.21L375.8,201.26L376.1,203.51L376.4,205.54L376.7,207.26L377,208.59L377.3,209.42L377.6,209.27L377.9,206.37L378.2,201.62L378.5,195.92L378.8,191.56L379.1,187.7L379.4,183.99L379.7,180.58L380,177.65L380.3,175.35L380.6,173.23L380.9,171.32L381.2,169.88L381.5,169.22L381.8,169.66L382.1,171.57L382.4,174.6L382.7,178.17L383,182.21L383.3,188.25L383.6,194.68L383.9,199.5L384.2,202.64L384.5,205.62L384.8,208.35L385.1,210.47L385.4,211.7L385.7,211.19L386,208.86L386.3,205.48L386.6,201.15L386.9,196.44L387.2,192.7L387.5,189.27L387.8,185.71L388.1,182.14L388.4,178.77L388.7,175.82L389,173.52L389.3,172.05L389.6,170.98L389.9,170.03L390.2,169.24L390.5,168.68L390.8,168.38L391.1,168.48L391.4,169.54L391.7,171.52L392,174.2L392.3,177.31L392.6,180.8L392.9,185.91L393.2,192.72L393.5,198.33L393.8,201.91L394.1,204.51L394.4,207.23L394.7,209.49L395,210.29L395.3,210.32L395.6,210.2L395.9,206.86L396.2,202.1L396.5,196.65L396.8,192.31L397.1,188.19L397.4,183.98L397.7,180L398,176.63L398.3,174.32L398.6,172.65L398.9,168.34L399.2,166.68L399.5,165.02L399.8,163.36L400.1,163.05L400.4,164.72L400.7,166.38L401,168.04L401.3,180.95L401.6,187.31L401.9,193.42L402.2,197.54L402.5,199.93L402.8,202.39L403.1,204.71L403.4,206.73L403.7,210.07L404,210.9L404.3,211.72L404.6,211.45L404.9,210.62L405.2,200.6L405.5,195.32L405.8,191.06L406.1,186.95L406.4,182.96L406.7,179.45L407,176.77L407.3,175.17L407.6,173.91L407.9,172.76L408.2,171.73L408.5,170.85L408.8,170.14L409.1,169.62L409.4,169.3L409.7,169.19L410,169.8L410.3,171.4L410.6,173.62L410.9,176.16L411.2,179.85L411.5,184.63L411.8,189.24L412.1,192.91L412.4,195.73L412.7,198.52L413,200.99L413.3,202.98L413.6,204.41L413.9,205.51L414.2,206.51L414.5,207.25L414.8,207.55L414.8,221.3Z" fill="#93cfcc"/>
<path d="M299.3,173.45L299.6,174.53L299.9,177.96L300.2,181.72L300.5,186.48L300.8,191.24L301.1,195.05L301.4,197.7L301.7,199.97L302,202.28L302.3,204.31L302.6,206.03L302.9,207.34L303.2,208.05L303.5,207.44L303.8,205.03L304.1,201.56L304.4,197.47L304.7,194L305,190.61L305.3,187.05L305.6,183.53L305.9,180.29L306.2,177.72L306.5,175.57L306.8,173.48L307.1,171.61L307.4,170.16L307.7,169.34L308,169.25L308.3,169.9L308.6,171.23L308.9,173.06L309.2,175.22L309.5,177.56L309.8,180.46L310.1,184.63L310.4,189.29L310.7,193.81L311,197.74L311.3,201.12L311.6,204.61L311.9,207.83L312.2,210.1L312.5,210.65L312.8,210.01L313.1,208.79L313.4,207.14L313.7,205.15L314,202.89L314.3,200.43L314.6,197.93L314.9,195.54L315.2,192.44L315.5,188.5L315.8,184.11L316.1,179.87L316.4,176.61L316.7,174.26L317,172.07L317.3,170.11L317.6,168.59L317.9,167.69L318.2,167.53L318.5,168.39L318.8,170.26L319.1,172.91L319.4,176.04L319.7,179.47L320,183.62L320.3,189.39L320.6,195.02L320.9,199.62L321.2,203.63L321.5,207.32L321.8,209.2L322.1,207.87L322.4,205.09L322.7,200.98L323,195.63L323.3,190.58L323.6,183.96L323.9,175.22L324.2,168.26L324.5,166.71L324.8,168.33L325.1,171.74L325.4,176.1L325.7,181.14L326,188.49L326.3,195.84L326.6,201.53L326.9,206.29L327.2,209.86L327.5,210L327.8,208.74L328.1,206.82L328.4,204.43L328.7,201.68L329,198.95L329.3,196.06L329.6,192.24L329.9,187.47L330.2,182.71L330.5,179.17L330.8,176.04L331.1,173.15L331.4,171L331.7,170.07L332,170.86L332.3,173.79L332.6,177.96L332.9,182.4L333.2,187.75L333.5,194.11L333.8,199.11L334.1,202.24L334.4,204.48L334.7,206.82L335,208.75L335.3,210.14L335.6,210.7L335.9,209.08L336.2,205.75L336.5,200.92L336.8,195.44L337.1,191.31L337.4,187.68L337.7,184.15L338,180.88L338.3,178.06L338.6,175.91L338.9,174.14L339.2,172.46L339.5,171L339.8,169.91L340.1,169.29L340.4,169.46L340.7,172.18L341,176.97L341.3,182.07L341.6,186.6L341.9,191.55L342.2,196.52L342.5,201.22L342.8,205.59L343.1,208.9L343.4,207.25L343.7,204.1L344,199.86L344.3,194.59L344.6,187.06L344.9,180.36L345.2,175.53L345.5,171.78L345.8,171.03L346.1,174.35L346.4,180.1L346.7,185.49L347,191.58L347.3,197.24L347.6,201.49L347.9,204.64L348.2,207.77L348.5,210.26L348.8,211.4L349.1,210.44L349.4,208.21L349.7,205.15L350,201.42L350.3,197.26L350.6,193.56L350.9,189.82L351.2,185.58L351.5,181.1L351.8,176.91L352.1,173.62L352.4,171.53L352.7,169.75L353,168.17L353.3,166.91L353.6,166.09L353.9,165.78L354.2,166.34L354.5,167.94L354.8,170.21L355.1,172.87L355.4,176.89L355.7,182.22L356,187.01L356.3,190.42L356.6,193.38L356.9,196.53L357.2,199.49L357.5,202.2L357.8,204.61L358.1,206.69L358.4,208.39L358.7,209.62L359,210.25L359.3,209.43L359.6,206.38L359.9,201.87L360.2,196.65L360.5,192.89L360.8,189.84L361.1,186.98L361.4,184.31L361.7,181.82L362,179.53L362.3,177.41L362.6,175.47L362.9,173.43L363.2,171.35L363.5,169.51L363.8,168.16L364.1,167.52L364.4,167.72L364.7,168.8L365,170.63L365.3,173.05L365.6,175.82L365.9,178.79L366.2,182.29L366.5,187.25L366.8,194.33L367.1,203.19L367.4,209.53L367.7,208.83L368,207.56L368.3,205.86L368.6,203.82L368.9,201.5L369.2,198.97L369.5,196.38L369.8,193.95L370.1,190.86L370.4,186.91L370.7,182.48L371,178.18L371.3,174.85L371.6,172.56L371.9,170.47L372.2,168.75L372.5,167.71L372.8,167.54L373.1,168.42L373.4,170.29L373.7,172.93L374,176.03L374.3,179.4L374.6,183.86L374.9,190.24L375.2,195.75L375.5,199.21L375.8,201.26L376.1,203.51L376.4,205.54L376.7,207.26L377,208.59L377.3,209.42L377.6,209.27L377.9,206.37L378.2,201.62L378.5,195.92L378.8,191.56L379.1,187.7L379.4,183.99L379.7,180.58L380,177.65L380.3,175.35L380.6,173.23L380.9,171.32L381.2,169.88L381.5,169.22L381.8,169.66L382.1,171.57L382.4,174.6L382.7,178.17L383,182.21L383.3,188.25L383.6,194.68L383.9,199.5L384.2,202.64L384.5,205.62L384.8,208.35L385.1,210.47L385.4,211.7L385.7,211.19L386,208.86L386.3,205.48L386.6,201.15L386.9,196.44L387.2,192.7L387.5,189.27L387.8,185.71L388.1,182.14L388.4,178.77L388.7,175.82L389,173.52L389.3,172.05L389.6,170.98L389.9,170.03L390.2,169.24L390.5,168.68L390.8,168.38L391.1,168.48L391.4,169.54L391.7,171.52L392,174.2L392.3,177.31L392.6,180.8L392.9,185.91L393.2,192.72L393.5,198.33L393.8,201.91L394.1,204.51L394.4,207.23L394.7,209.49L395,211.13L395.3,211.8L395.6,210.2L395.9,206.86L396.2,202.1L396.5,196.65L396.8,192.31L397.1,188.19L397.4,183.98L397.7,180L398,176.63L398.3,174.32L398.6,172.65L398.9,171.15L399.2,169.89L399.5,168.95L399.8,168.43L400.1,168.49L400.4,170.09L400.7,173.07L401,176.69L401.3,180.95L401.6,187.31L401.9,193.42L402.2,197.54L402.5,199.93L402.8,202.39L403.1,204.71L403.4,206.73L403.7,208.39L404,209.61L404.3,210.25L404.6,209.28L404.9,205.86L405.2,200.6L405.5,195.32L405.8,191.06L406.1,186.95L406.4,182.96L406.7,179.45L407,176.77L407.3,175.17L407.6,173.91L407.9,172.76L408.2,171.73L408.5,170.85L408.8,170.14L409.1,169.62L409.4,169.3L409.7,169.19L410,169.8L410.3,171.4L410.6,173.62L410.9,176.16L411.2,179.85L411.5,184.63L411.8,189.24L412.1,192.91L412.4,195.73L412.7,198.52L413,200.99L413.3,202.98L413.6,204.41L413.9,205.51L414.2,206.51L414.5,207.25L414.8,207.55" fill="none" stroke="#000" stroke-width="0.5" stroke-linejoin="round"/>
<path d="M299.3,138.5H415.0V221.3" fill="none" stroke="#7a7a7a" stroke-width="0.75"/>
<path d="M299.3,221.3H415.0" fill="none" stroke="#5f9f9b" stroke-width="0.9"/>
<path d="M299.3,138.5V221.60000000000002" fill="none" stroke="#666" stroke-width="0.75"/>
<path d="M298.2,221.3H299.3M298.2,209.47H299.3M298.2,197.64H299.3M298.2,185.81H299.3M298.2,173.99H299.3M298.2,162.16H299.3M298.2,150.33H299.3M298.2,138.5H299.3M299.3,221.3V222.4M315.9,221.3V222.4M332.5,221.3V222.4M349.1,221.3V222.4M365.7,221.3V222.4M382.3,221.3V222.4M398.9,221.3V222.4" stroke="#333" stroke-width="0.5"/>
<text transform="translate(299.6,229.4) scale(1,1.25)" font-family="'Liberation Serif', serif" font-size="4.4" text-anchor="middle" fill="#333" stroke="#333" stroke-width="0.06">0</text>
<text transform="translate(316.2,229.4) scale(1,1.25)" font-family="'Liberation Serif', serif" font-size="4.4" text-anchor="middle" fill="#333" stroke="#333" stroke-width="0.06">20</text>
<text transform="translate(332.8,229.4) scale(1,1.25)" font-family="'Liberation Serif', serif" font-size="4.4" text-anchor="middle" fill="#333" stroke="#333" stroke-width="0.06">40</text>
<text transform="translate(349.4,229.4) scale(1,1.25)" font-family="'Liberation Serif', serif" font-size="4.4" text-anchor="middle" fill="#333" stroke="#333" stroke-width="0.06">60</text>
<text transform="translate(366,229.4) scale(1,1.25)" font-family="'Liberation Serif', serif" font-size="4.4" text-anchor="middle" fill="#333" stroke="#333" stroke-width="0.06">80</text>
<text transform="translate(382.6,229.4) scale(1,1.25)" font-family="'Liberation Serif', serif" font-size="4.4" text-anchor="middle" fill="#333" stroke="#333" stroke-width="0.06">100</text>
<text transform="translate(399.2,229.4) scale(1,1.25)" font-family="'Liberation Serif', serif" font-size="4.4" text-anchor="middle" fill="#333" stroke="#333" stroke-width="0.06">120</text>
<text transform="translate(295.9,223.2) scale(1,1.25)" font-family="'Liberation Serif', serif" font-size="4.4" text-anchor="end" fill="#333" stroke="#333" stroke-width="0.06">0</text>
<text transform="translate(295.9,211.37) scale(1,1.25)" font-family="'Liberation Serif', serif" font-size="4.4" text-anchor="end" fill="#333" stroke="#333" stroke-width="0.06">500</text>
<text transform="translate(295.9,199.54) scale(1,1.25)" font-family="'Liberation Serif', serif" font-size="4.4" text-anchor="end" fill="#333" stroke="#333" stroke-width="0.06">1000</text>
<text transform="translate(295.9,187.71) scale(1,1.25)" font-family="'Liberation Serif', serif" font-size="4.4" text-anchor="end" fill="#333" stroke="#333" stroke-width="0.06">1500</text>
<text transform="translate(295.9,175.89) scale(1,1.25)" font-family="'Liberation Serif', serif" font-size="4.4" text-anchor="end" fill="#333" stroke="#333" stroke-width="0.06">2000</text>
<text transform="translate(295.9,164.06) scale(1,1.25)" font-family="'Liberation Serif', serif" font-size="4.4" text-anchor="end" fill="#333" stroke="#333" stroke-width="0.06">2500</text>
<text transform="translate(295.9,152.23) scale(1,1.25)" font-family="'Liberation Serif', serif" font-size="4.4" text-anchor="end" fill="#333" stroke="#333" stroke-width="0.06">3000</text>
<text transform="translate(295.9,140.4) scale(1,1.25)" font-family="'Liberation Serif', serif" font-size="4.4" text-anchor="end" fill="#333" stroke="#333" stroke-width="0.06">3500</text>
<text transform="translate(282.1,179.4) rotate(-90)" x="0" y="0" font-family="'Liberation Serif', serif" font-weight="bold" font-size="4.6" text-anchor="middle" fill="#111">MGSI<tspan dy="1" font-size="2.8">cl</tspan><tspan dy="-1"> (10 kJ/m</tspan><tspan dy="-1.2" font-size="2.8">-2</tspan><tspan dy="1.2"> day))</tspan></text>
<rect x="302.3" y="143.65" width="6.5" height="1.6" fill="#84ccc8"/>
<rect x="302.3" y="149.7" width="6.5" height="0.8" fill="#333"/>
<text x="309.8" y="145.5" font-family="'Liberation Serif', serif" font-size="4.0" fill="#222" stroke="#222" stroke-width="0.08">MGSI<tspan font-size="2.5" dy="0.9">cl</tspan><tspan dy="-0.9"> real</tspan></text>
<text x="309.8" y="151.3" font-family="'Liberation Serif', serif" font-size="4.0" fill="#222" stroke="#222" stroke-width="0.08">MGSI<tspan font-size="2.5" dy="0.9">cl</tspan><tspan dy="-0.9"> predicted</tspan></text>
<text x="413.2" y="143.5" font-family="'Liberation Serif', serif" font-size="4.08" text-anchor="end" fill="#222" stroke="#222" stroke-width="0.08">O Viso (Redondela)</text>
<path d="M423.3,221.3L423.3,174.31L423.6,175.52L423.9,180.76L424.2,187L424.5,191.83L424.8,196.65L425.1,200.36L425.4,202.41L425.7,203.63L426,204.96L426.3,207.81L426.6,208.46L426.9,209.11L427.2,209.8L427.5,209L427.8,208.2L428.1,193.33L428.4,189.27L428.7,185.54L429,182.26L429.3,179.49L429.6,177.31L429.9,175.35L430.2,173.49L430.5,171.88L430.8,170.71L431.1,170.11L431.4,170.16L431.7,169.29L432,167.87L432.3,168.54L432.6,169.96L432.9,171.39L433.2,185.18L433.5,190.2L433.8,194.23L434.1,198.09L434.4,201.64L434.7,204.25L435,205.81L435.3,208.16L435.6,209.33L435.9,210.51L436.2,210.12L436.5,208.94L436.8,204.09L437.1,201.36L437.4,198.19L437.7,195.13L438,192.17L438.3,188.65L438.6,184.63L438.9,180.65L439.2,177.35L439.5,175.39L439.8,174.03L440.1,172.84L440.4,169.72L440.7,166.9L441,164.08L441.3,161.27L441.6,161.18L441.9,164L442.2,166.82L442.5,169.63L442.8,180.11L443.1,185.18L443.4,191.43L443.7,196.43L444,199.66L444.3,202.22L444.6,204.72L444.9,206.59L445.2,207.4L445.5,205.56L445.8,201.86L446.1,196.45L446.4,191.52L446.7,186.36L447,168.49L447.3,167.07L447.6,165.65L447.9,164.23L448.2,165.35L448.5,166.77L448.8,168.19L449.1,180.76L449.4,187.69L449.7,195.28L450,199.96L450.3,203.62L450.6,206.64L450.9,208.1L451.2,207.54L451.5,206.17L451.8,204.25L452.1,201.94L452.4,199.41L452.7,196.97L453,193.35L453.3,188.3L453.6,183.29L453.9,180.26L454.2,177.92L454.5,175.83L454.8,174.16L455.1,173.04L455.4,172.61L455.7,173.24L456,175.32L456.3,178.37L456.6,181.69L456.9,185.12L457.2,189.6L457.5,194.21L457.8,197.99L458.1,200.73L458.4,202.95L458.7,208.23L459,209.3L459.3,210.5L459.6,210.1L459.9,208.9L460.2,203.41L460.5,200.17L460.8,196.34L461.1,192.79L461.4,189.38L461.7,185.62L462,181.79L462.3,178.56L462.6,176.38L462.9,174.48L463.2,172.96L463.5,172.16L463.8,172.85L464.1,177.02L464.4,182.71L464.7,187.82L465,193.21L465.3,197.9L465.6,201L465.9,203.23L466.2,208.56L466.5,210.08L466.8,211.6L467.1,210.08L467.4,208.56L467.7,195.45L468,188.55L468.3,181.69L468.6,177.71L468.9,174.7L469.2,172.48L469.5,171.46L469.8,172.5L470.1,176.86L470.4,182.1L470.7,187.62L471,193.64L471.3,198.36L471.6,202L471.9,205.33L472.2,207.56L472.5,207.33L472.8,205.54L473.1,202.94L473.4,199.69L473.7,196.09L474,193.01L474.3,190L474.6,186.79L474.9,183.54L475.2,180.51L475.5,178.03L475.8,176.08L476.1,174.22L476.4,168.34L476.7,166.23L477,164.13L477.3,162.73L477.6,164.83L477.9,166.93L478.2,169.04L478.5,173.35L478.8,174.82L479.1,177.25L479.4,180.43L479.7,184.12L480,188.01L480.3,200.14L480.6,203.94L480.9,207.75L481.2,207.63L481.5,203.92L481.8,206.33L482.1,207.82L482.4,209.3L482.7,208.81L483,207.32L483.3,190.59L483.6,187.35L483.9,184.99L484.2,183.12L484.5,181.22L484.8,179.12L485.1,177L485.4,175.05L485.7,173.42L486,172.25L486.3,171.61L486.6,171.12L486.9,168.63L487.2,165.36L487.5,162.08L487.8,158.81L488.1,160.69L488.4,163.97L488.7,167.24L489,176.09L489.3,178.55L489.6,181.14L489.9,184.67L490.2,189.85L490.5,199.24L490.8,207.8L491.1,207.52L491.4,206.78L491.7,205.66L492,204.25L492.3,202.58L492.6,200.71L492.9,198.67L493.2,196.49L493.5,194.47L493.8,192.09L494.1,188.64L494.4,184.3L494.7,179.7L495,169.68L495.3,169.05L495.6,168.42L495.9,167.79L496.2,167.81L496.5,168.44L496.8,169.07L497.1,169.7L497.4,174.83L497.7,177.71L498,181.65L498.3,187.09L498.6,192.2L498.9,195.99L499.2,198.52L499.5,201.01L499.8,207.45L500.1,208.72L500.4,209.2L500.7,209.24L501,208.97L501.3,208.18L501.6,201L501.9,196.53L502.2,192.76L502.5,189.12L502.8,185.27L503.1,181.5L503.4,178.2L503.7,175.84L504,174.25L504.3,172.84L504.6,171.63L504.9,170.71L505.2,170.17L505.5,170.11L505.8,171.42L506.1,174.17L506.4,177.71L506.7,181.87L507,188.17L507.3,194.27L507.6,198.43L507.9,201.64L508.2,208.58L508.5,209.54L508.8,210.5L509.1,209.54L509.4,208.58L509.7,202.66L510,199.38L510.3,195.7L510.6,192.43L510.9,189.35L511.2,186.01L511.5,182.54L511.8,179.29L512.1,176.66L512.4,174.93L512.7,173.47L513,172.15L513.3,171.08L513.6,170.35L513.9,170.05L514.2,170.55L514.5,172.3L514.8,174.87L515.1,177.83L515.4,181.93L515.7,187.51L516,192.66L516.3,196.36L516.6,198.76L516.9,201.14L517.2,207.38L517.5,208.38L517.8,209.38L518.1,210.39L518.4,210.84L518.7,209.47L519,208.1L519.3,197.69L519.6,193.12L519.9,189.47L520.2,186L520.5,182.6L520.8,179.48L521.1,176.88L521.4,174.98L521.7,173.58L522,172.62L522.3,171.86L522.6,171.23L522.9,169.8L523.2,167.2L523.5,164.61L523.8,164.45L524.1,167.05L524.4,169.65L524.7,172.24L525,192.8L525.3,196.12L525.6,197.76L525.9,199.79L526.2,205.98L526.5,208.03L526.8,209.09L527.1,207.04L527.4,207.04L527.7,208.9L528,210.92L528.3,210.25L528.6,208.22L528.9,188.05L529.2,184.09L529.5,181.15L529.8,179.04L530.1,177.56L530.4,176.43L530.7,175.4L531,174.46L531.3,173.6L531.6,172.85L531.9,172.21L532.2,171.69L532.5,171.29L532.8,171.03L533.1,170.91L533.4,170.99L533.7,171.44L534,172.23L534.3,173.31L534.6,175.32L534.9,179.56L535.2,184.43L535.5,188.46L535.8,191.67L536.1,194.96L536.4,197.79L536.7,199.98L537,201.55L537.3,202.94L537.6,204.22L537.9,205.22L538.2,205.78L538.2,221.3Z" fill="#93cfcc"/>
<path d="M423.3,174.31L423.6,175.52L423.9,180.76L424.2,187L424.5,191.83L424.8,196.65L425.1,200.36L425.4,202.41L425.7,203.63L426,204.96L426.3,206.1L426.6,206.99L426.9,207.58L427.2,207.8L427.5,204.65L427.8,198.49L428.1,193.33L428.4,189.27L428.7,185.54L429,182.26L429.3,179.49L429.6,177.31L429.9,175.35L430.2,173.49L430.5,171.88L430.8,170.71L431.1,170.11L431.4,170.16L431.7,170.91L432,172.25L432.3,174.01L432.6,176.16L432.9,179.91L433.2,185.18L433.5,190.2L433.8,194.23L434.1,198.09L434.4,201.64L434.7,204.25L435,205.81L435.3,206.8L435.6,207.62L435.9,208.07L436.2,207.75L436.5,206.28L436.8,204.09L437.1,201.36L437.4,198.19L437.7,195.13L438,192.17L438.3,188.65L438.6,184.63L438.9,180.65L439.2,177.35L439.5,175.39L439.8,174.03L440.1,172.84L440.4,171.8L440.7,170.98L441,170.39L441.3,170.09L441.6,170.2L441.9,171.45L442.2,173.77L442.5,176.73L442.8,180.11L443.1,185.18L443.4,191.43L443.7,196.43L444,199.66L444.3,202.22L444.6,204.72L444.9,206.59L445.2,207.4L445.5,205.56L445.8,201.86L446.1,196.45L446.4,191.52L446.7,186.36L447,180.5L447.3,174.88L447.6,170.81L447.9,169.21L448.2,169.95L448.5,172.47L448.8,176.21L449.1,180.76L449.4,187.69L449.7,195.28L450,199.96L450.3,203.62L450.6,206.64L450.9,208.1L451.2,207.54L451.5,206.17L451.8,204.25L452.1,201.94L452.4,199.41L452.7,196.97L453,193.35L453.3,188.3L453.6,183.29L453.9,180.26L454.2,177.92L454.5,175.83L454.8,174.16L455.1,173.04L455.4,172.61L455.7,173.24L456,175.32L456.3,178.37L456.6,181.69L456.9,185.12L457.2,189.6L457.5,194.21L457.8,197.99L458.1,200.73L458.4,202.95L458.7,205.18L459,206.96L459.3,208.01L459.6,207.67L459.9,205.94L460.2,203.41L460.5,200.17L460.8,196.34L461.1,192.79L461.4,189.38L461.7,185.62L462,181.79L462.3,178.56L462.6,176.38L462.9,174.48L463.2,172.96L463.5,172.16L463.8,172.85L464.1,177.02L464.4,182.71L464.7,187.82L465,193.21L465.3,197.9L465.6,201L465.9,203.23L466.2,205.43L466.5,207.09L466.8,207.8L467.1,205.52L467.4,200.94L467.7,195.45L468,188.55L468.3,181.69L468.6,177.71L468.9,174.7L469.2,172.48L469.5,171.46L469.8,172.5L470.1,176.86L470.4,182.1L470.7,187.62L471,193.64L471.3,198.36L471.6,202L471.9,205.33L472.2,207.56L472.5,207.33L472.8,205.54L473.1,202.94L473.4,199.69L473.7,196.09L474,193.01L474.3,190L474.6,186.79L474.9,183.54L475.2,180.51L475.5,178.03L475.8,176.08L476.1,174.22L476.4,172.51L476.7,171.14L477,170.28L477.3,170.05L477.6,170.38L477.9,171.13L478.2,172.17L478.5,173.35L478.8,174.82L479.1,177.25L479.4,180.43L479.7,184.12L480,188.01L480.3,191.87L480.6,195.47L480.9,198.72L481.2,201.54L481.5,203.92L481.8,205.86L482.1,207.28L482.4,208.04L482.7,202.17L483,195.25L483.3,190.59L483.6,187.35L483.9,184.99L484.2,183.12L484.5,181.22L484.8,179.12L485.1,177L485.4,175.05L485.7,173.42L486,172.25L486.3,171.61L486.6,171.12L486.9,170.7L487.2,170.37L487.5,170.15L487.8,170.05L488.1,170.37L488.4,171.65L488.7,173.68L489,176.09L489.3,178.55L489.6,181.14L489.9,184.67L490.2,189.85L490.5,199.24L490.8,207.8L491.1,207.52L491.4,206.78L491.7,205.66L492,204.25L492.3,202.58L492.6,200.71L492.9,198.67L493.2,196.49L493.5,194.47L493.8,192.09L494.1,188.64L494.4,184.3L494.7,179.7L495,175.78L495.3,173.41L495.6,171.65L495.9,170.22L496.2,169.35L496.5,169.28L496.8,170.28L497.1,172.25L497.4,174.83L497.7,177.71L498,181.65L498.3,187.09L498.6,192.2L498.9,195.99L499.2,198.52L499.5,201.01L499.8,203.38L500.1,205.37L500.4,206.89L500.7,207.73L501,207.11L501.3,204.61L501.6,201L501.9,196.53L502.2,192.76L502.5,189.12L502.8,185.27L503.1,181.5L503.4,178.2L503.7,175.84L504,174.25L504.3,172.84L504.6,171.63L504.9,170.71L505.2,170.17L505.5,170.11L505.8,171.42L506.1,174.17L506.4,177.71L506.7,181.87L507,188.17L507.3,194.27L507.6,198.43L507.9,201.64L508.2,204.75L508.5,207.06L508.8,208.1L509.1,207.26L509.4,205.32L509.7,202.66L510,199.38L510.3,195.7L510.6,192.43L510.9,189.35L511.2,186.01L511.5,182.54L511.8,179.29L512.1,176.66L512.4,174.93L512.7,173.47L513,172.15L513.3,171.08L513.6,170.35L513.9,170.05L514.2,170.55L514.5,172.3L514.8,174.87L515.1,177.83L515.4,181.93L515.7,187.51L516,192.66L516.3,196.36L516.6,198.76L516.9,201.14L517.2,203.41L517.5,205.35L517.8,206.89L518.1,207.87L518.4,207.88L518.7,205.74L519,202.37L519.3,197.69L519.6,193.12L519.9,189.47L520.2,186L520.5,182.6L520.8,179.48L521.1,176.88L521.4,174.98L521.7,173.58L522,172.62L522.3,171.86L522.6,171.23L522.9,170.91L523.2,171.1L523.5,171.98L523.8,173.44L524.1,175.42L524.4,179.39L524.7,186.56L525,192.8L525.3,196.12L525.6,197.76L525.9,199.79L526.2,201.67L526.5,203.34L526.8,204.81L527.1,206.05L527.4,207.04L527.7,207.73L528,208.08L528.3,203.44L528.6,194.3L528.9,188.05L529.2,184.09L529.5,181.15L529.8,179.04L530.1,177.56L530.4,176.43L530.7,175.4L531,174.46L531.3,173.6L531.6,172.85L531.9,172.21L532.2,171.69L532.5,171.29L532.8,171.03L533.1,170.91L533.4,170.99L533.7,171.44L534,172.23L534.3,173.31L534.6,175.32L534.9,179.56L535.2,184.43L535.5,188.46L535.8,191.67L536.1,194.96L536.4,197.79L536.7,199.98L537,201.55L537.3,202.94L537.6,204.22L537.9,205.22L538.2,205.78" fill="none" stroke="#000" stroke-width="0.5" stroke-linejoin="round"/>
<path d="M423.3,138.5H538.4V221.3" fill="none" stroke="#7a7a7a" stroke-width="0.75"/>
<path d="M423.3,221.3H538.4" fill="none" stroke="#5f9f9b" stroke-width="0.9"/>
<path d="M423.3,138.5V221.60000000000002" fill="none" stroke="#666" stroke-width="0.75"/>
<path d="M422.2,221.3H423.3M422.2,209.47H423.3M422.2,197.64H423.3M422.2,185.81H423.3M422.2,173.99H423.3M422.2,162.16H423.3M422.2,150.33H423.3M422.2,138.5H423.3M423.3,221.3V222.4M439.9,221.3V222.4M456.5,221.3V222.4M473.1,221.3V222.4M489.7,221.3V222.4M506.3,221.3V222.4M522.9,221.3V222.4" stroke="#333" stroke-width="0.5"/>
<text transform="translate(423.6,229.4) scale(1,1.25)" font-family="'Liberation Serif', serif" font-size="4.4" text-anchor="middle" fill="#333" stroke="#333" stroke-width="0.06">0</text>
<text transform="translate(440.2,229.4) scale(1,1.25)" font-family="'Liberation Serif', serif" font-size="4.4" text-anchor="middle" fill="#333" stroke="#333" stroke-width="0.06">20</text>
<text transform="translate(456.8,229.4) scale(1,1.25)" font-family="'Liberation Serif', serif" font-size="4.4" text-anchor="middle" fill="#333" stroke="#333" stroke-width="0.06">40</text>
<text transform="translate(473.4,229.4) scale(1,1.25)" font-family="'Liberation Serif', serif" font-size="4.4" text-anchor="middle" fill="#333" stroke="#333" stroke-width="0.06">60</text>
<text transform="translate(490,229.4) scale(1,1.25)" font-family="'Liberation Serif', serif" font-size="4.4" text-anchor="middle" fill="#333" stroke="#333" stroke-width="0.06">80</text>
<text transform="translate(506.6,229.4) scale(1,1.25)" font-family="'Liberation Serif', serif" font-size="4.4" text-anchor="middle" fill="#333" stroke="#333" stroke-width="0.06">100</text>
<text transform="translate(523.2,229.4) scale(1,1.25)" font-family="'Liberation Serif', serif" font-size="4.4" text-anchor="middle" fill="#333" stroke="#333" stroke-width="0.06">120</text>
<rect x="426.3" y="143.65" width="6.5" height="1.6" fill="#84ccc8"/>
<rect x="426.3" y="149.7" width="6.5" height="0.8" fill="#333"/>
<text x="433.8" y="145.5" font-family="'Liberation Serif', serif" font-size="4.0" fill="#222" stroke="#222" stroke-width="0.08">MGSI<tspan font-size="2.5" dy="0.9">cl</tspan><tspan dy="-0.9"> real</tspan></text>
<text x="433.8" y="151.3" font-family="'Liberation Serif', serif" font-size="4.0" fill="#222" stroke="#222" stroke-width="0.08">MGSI<tspan font-size="2.5" dy="0.9">cl</tspan><tspan dy="-0.9"> predicted</tspan></text>
<text x="536.6" y="143.5" font-family="'Liberation Serif', serif" font-size="4.08" text-anchor="end" fill="#222" stroke="#222" stroke-width="0.08">O Viso (Redondela)</text>
<path d="M32.2,326.1L32.2,271.68L32.5,271.45L32.8,270.86L33.1,270.23L33.4,269.93L33.7,271.79L34,276.61L34.3,281.71L34.6,287.41L34.9,293.37L35.2,298.11L35.5,301.75L35.8,305.4L36.1,308.5L36.4,310.77L36.7,312.34L37,312.97L37.3,313.39L37.6,312.15L37.9,310.91L38.2,300.84L38.5,297.13L38.8,292.39L39.1,286.68L39.4,281.45L39.7,276.36L40,270.96L40.3,266.9L40.6,265.68L40.9,266.58L41.2,268.83L41.5,271.98L41.8,275.46L42.1,279.41L42.4,284.82L42.7,290.55L43,295.68L43.3,300.32L43.6,305.28L43.9,309.35L44.2,312.04L44.5,313.4L44.8,312.47L45.1,314.5L45.4,312.47L45.7,310.45L46,298.76L46.3,293.91L46.6,288.55L46.9,283.89L47.2,279.63L47.5,276.96L47.8,275.54L48.1,274.61L48.4,273.71L48.7,272.4L49,271.1L49.3,270.45L49.6,269.96L49.9,269.66L50.2,269.74L50.5,272.37L50.8,276.64L51.1,281.86L51.4,288.56L51.7,296.24L52,305.24L52.3,310.55L52.6,313.77L52.9,314.99L53.2,315.39L53.5,314.18L53.8,312.96L54.1,303.83L54.4,300.18L54.7,296.23L55,291.56L55.3,286.61L55.6,282.46L55.9,279.02L56.2,275.61L56.5,272.29L56.8,269.38L57.1,267.18L57.4,265.93L57.7,265.76L58,267.46L58.3,270.78L58.6,274.68L58.9,279.4L59.2,285.48L59.5,291.48L59.8,297.16L60.1,303.37L60.4,308.55L60.7,311.58L61,313.38L61.3,313.77L61.6,314.29L61.9,312.74L62.2,311.2L62.5,301.12L62.8,297.56L63.1,293.19L63.4,288.22L63.7,283.58L64,279.69L64.3,275.64L64.6,271.74L64.9,268.8L65.2,267.44L65.5,268.2L65.8,271.8L66.1,276.84L66.4,283.68L66.7,292.16L67,308.52L67.3,312.11L67.6,313.3L67.9,310.7L68.2,312.89L68.5,312.88L68.8,310.61L69.1,307.31L69.4,302.59L69.7,298.46L70,295.64L70.3,293.52L70.6,291.45L70.9,288.15L71.2,283.56L71.5,279.56L71.8,275.87L72.1,272.37L72.4,270.08L72.7,269.72L73,272.15L73.3,276.49L73.6,281.27L73.9,287.59L74.2,293.85L74.5,298.66L74.8,302.54L75.1,306.63L75.4,309.93L75.7,312.42L76,314.21L76.3,314.51L76.6,312.73L76.9,310.05L77.2,306.35L77.5,302.64L77.8,298.18L78.1,292.12L78.4,285.67L78.7,281.39L79,278.31L79.3,275.54L79.6,273.1L79.9,271.14L80.2,269.79L80.5,269.14L80.8,269.51L81.1,272.02L81.4,275.67L81.7,280.11L82,286.22L82.3,292.3L82.6,297.12L82.9,300.88L83.2,304.79L83.5,308.35L83.8,311.13L84.1,313.25L84.4,314.58L84.7,313.74L85,311.05L85.3,306.69L85.6,302.31L85.9,298.41L86.2,294.38L86.5,290.35L86.8,286.6L87.1,283.55L87.4,281.02L87.7,278.55L88,276.3L88.3,274.55L88.6,273.54L88.9,274.59L89.2,290.55L89.5,297.52L89.8,301.09L90.1,304.11L90.4,306.3L90.7,308.11L91,309.92L91.3,311.41L91.6,312.38L91.9,312.3L92.2,310.9L92.5,308.81L92.8,306.17L93.1,303.34L93.4,300.62L93.7,297.44L94,293.6L94.3,289.33L94.6,285.06L94.9,281.57L95.2,278.32L95.5,274.94L95.8,271.84L96.1,269.5L96.4,268.33L96.7,268.5L97,270.24L97.3,273.3L97.6,277.05L97.9,281.23L98.2,287.2L98.5,294.09L98.8,299.51L99.1,303.37L99.4,307.05L99.7,310.18L100,312.41L100.3,313.39L100.6,312.23L100.9,310.02L101.2,307.06L101.5,303.46L101.8,300.16L102.1,297.04L102.4,293.71L102.7,290.18L103,286.58L103.3,283.19L103.6,279.88L103.9,276.02L104.2,271.96L104.5,268.47L104.8,266.25L105.1,265.7L105.4,267.21L105.7,270.75L106,275.41L106.3,280.2L106.6,285.51L106.9,292.04L107.2,297.4L107.5,301.03L107.8,303.92L108.1,306.57L108.4,308.22L108.7,307.75L109,306.2L109.3,304.13L109.6,301.58L109.9,299.06L110.2,296.34L110.5,292.91L110.8,288.97L111.1,285.35L111.4,282.23L111.7,279.46L112,277.14L112.3,274.78L112.6,272.35L112.9,270.19L113.2,268.61L113.5,267.91L113.8,268.86L114.1,272.57L114.4,277.05L114.7,282.09L115,287.81L115.3,292.25L115.6,295.23L115.9,297.87L116.2,300.39L116.5,302.31L116.8,303.69L117.1,303.66L117.4,301.81L117.7,299.12L118,294L118.3,287.7L118.6,283.32L118.9,280.27L119.2,277.86L119.5,275.34L119.8,272.68L120.1,270.64L120.4,269.94L120.7,273.15L121,280.58L121.3,288.18L121.6,296.55L121.9,302.79L122.2,306.54L122.5,309.75L122.8,312.03L123.1,312.18L123.4,310.46L123.7,308.02L124,304.88L124.3,301.85L124.6,298.66L124.9,294.91L125.2,290.73L125.5,286.68L125.8,282.65L126.1,278.54L126.4,275.64L126.7,273.71L127,272.05L127.3,270.67L127.6,269.68L127.9,269.15L128.2,269.6L128.5,273.81L128.8,279.41L129.1,283.91L129.4,288.68L129.7,293.34L130,297.59L130.3,301.79L130.6,306.34L130.9,309.92L131.2,312.31L131.5,313.39L131.8,312.52L132.1,310.77L132.4,308.45L132.7,305.6L133,302.34L133.3,299.32L133.6,295.73L133.9,291.03L134.2,285.83L134.5,281.52L134.8,277.33L135.1,272.94L135.4,268.97L135.7,266.11L136,264.86L136.3,266.01L136.6,270.78L136.9,276.87L137.2,282.47L137.5,288.93L137.8,294.71L138.1,298.71L138.4,301.64L138.7,304.62L139,307.04L139.3,308.74L139.6,308.96L139.9,307.63L140.2,305.6L140.5,303.15L140.8,300.33L141.1,297.61L141.4,294.45L141.7,290.64L142,286.62L142.3,283.14L142.6,280.13L142.9,277.37L143.2,275.01L143.5,273.2L143.8,271.53L144.1,270.42L144.4,270.5L144.7,272.31L145,275.25L145.3,279.24L145.6,285.23L145.9,290.9L146.2,295.04L146.5,298.46L146.8,301.45L147.1,303.33L147.4,304.02L147.4,326.1Z" fill="#93cfcc"/>
<path d="M32.2,271.68L32.5,271.45L32.8,270.86L33.1,270.23L33.4,269.93L33.7,271.79L34,276.61L34.3,281.71L34.6,287.41L34.9,293.37L35.2,298.11L35.5,301.75L35.8,305.4L36.1,308.5L36.4,310.77L36.7,312.34L37,312.11L37.3,310.31L37.6,307.76L37.9,304.41L38.2,300.84L38.5,297.13L38.8,292.39L39.1,286.68L39.4,281.45L39.7,276.36L40,270.96L40.3,266.9L40.6,265.68L40.9,266.58L41.2,268.83L41.5,271.98L41.8,275.46L42.1,279.41L42.4,284.82L42.7,290.55L43,295.68L43.3,300.32L43.6,305.28L43.9,309.35L44.2,312.04L44.5,313.4L44.8,312.13L45.1,309.77L45.4,306.53L45.7,302.7L46,298.76L46.3,293.91L46.6,288.55L46.9,283.89L47.2,279.63L47.5,276.96L47.8,275.54L48.1,274.61L48.4,273.71L48.7,272.4L49,271.1L49.3,270.45L49.6,269.96L49.9,269.66L50.2,269.74L50.5,272.37L50.8,276.64L51.1,281.86L51.4,288.56L51.7,296.24L52,305.24L52.3,310.55L52.6,312.07L52.9,313.24L53.2,312.83L53.5,310.71L53.8,307.7L54.1,303.83L54.4,300.18L54.7,296.23L55,291.56L55.3,286.61L55.6,282.46L55.9,279.02L56.2,275.61L56.5,272.29L56.8,269.38L57.1,267.18L57.4,265.93L57.7,265.76L58,267.46L58.3,270.78L58.6,274.68L58.9,279.4L59.2,285.48L59.5,291.48L59.8,297.16L60.1,303.37L60.4,308.55L60.7,311.58L61,313.38L61.3,312.54L61.6,310.52L61.9,307.85L62.2,304.43L62.5,301.12L62.8,297.56L63.1,293.19L63.4,288.22L63.7,283.58L64,279.69L64.3,275.64L64.6,271.74L64.9,268.8L65.2,267.44L65.5,268.2L65.8,271.8L66.1,276.84L66.4,283.68L66.7,292.16L67,298.53L67.3,303.16L67.6,307.61L67.9,310.7L68.2,312.89L68.5,312.88L68.8,310.61L69.1,307.31L69.4,302.59L69.7,298.46L70,295.64L70.3,293.52L70.6,291.45L70.9,288.15L71.2,283.56L71.5,279.56L71.8,275.87L72.1,272.37L72.4,270.08L72.7,269.72L73,272.15L73.3,276.49L73.6,281.27L73.9,287.59L74.2,293.85L74.5,298.66L74.8,302.54L75.1,306.63L75.4,309.93L75.7,312.42L76,314.21L76.3,314.51L76.6,312.73L76.9,310.05L77.2,306.35L77.5,302.64L77.8,298.18L78.1,292.12L78.4,285.67L78.7,281.39L79,278.31L79.3,275.54L79.6,273.1L79.9,271.14L80.2,269.79L80.5,269.14L80.8,269.51L81.1,272.02L81.4,275.67L81.7,280.11L82,286.22L82.3,292.3L82.6,297.12L82.9,300.88L83.2,304.79L83.5,308.35L83.8,311.13L84.1,313.25L84.4,314.58L84.7,313.74L85,311.05L85.3,306.69L85.6,302.31L85.9,298.41L86.2,294.38L86.5,290.35L86.8,286.6L87.1,283.55L87.4,281.02L87.7,278.55L88,276.3L88.3,274.55L88.6,273.54L88.9,274.59L89.2,290.55L89.5,297.52L89.8,301.09L90.1,304.11L90.4,306.3L90.7,308.11L91,309.92L91.3,311.41L91.6,312.38L91.9,312.3L92.2,310.9L92.5,308.81L92.8,306.17L93.1,303.34L93.4,300.62L93.7,297.44L94,293.6L94.3,289.33L94.6,285.06L94.9,281.57L95.2,278.32L95.5,274.94L95.8,271.84L96.1,269.5L96.4,268.33L96.7,268.5L97,270.24L97.3,273.3L97.6,277.05L97.9,281.23L98.2,287.2L98.5,294.09L98.8,299.51L99.1,303.37L99.4,307.05L99.7,310.18L100,312.41L100.3,313.39L100.6,312.23L100.9,310.02L101.2,307.06L101.5,303.46L101.8,300.16L102.1,297.04L102.4,293.71L102.7,290.18L103,286.58L103.3,283.19L103.6,279.88L103.9,276.02L104.2,271.96L104.5,268.47L104.8,266.25L105.1,265.7L105.4,267.21L105.7,270.75L106,275.41L106.3,280.2L106.6,285.51L106.9,292.04L107.2,297.4L107.5,301.03L107.8,303.92L108.1,306.57L108.4,308.22L108.7,307.75L109,306.2L109.3,304.13L109.6,301.58L109.9,299.06L110.2,296.34L110.5,292.91L110.8,288.97L111.1,285.35L111.4,282.23L111.7,279.46L112,277.14L112.3,274.78L112.6,272.35L112.9,270.19L113.2,268.61L113.5,267.91L113.8,268.86L114.1,272.57L114.4,277.05L114.7,282.09L115,287.81L115.3,292.25L115.6,295.23L115.9,297.87L116.2,300.39L116.5,302.31L116.8,303.69L117.1,303.66L117.4,301.81L117.7,299.12L118,294L118.3,287.7L118.6,283.32L118.9,280.27L119.2,277.86L119.5,275.34L119.8,272.68L120.1,270.64L120.4,269.94L120.7,273.15L121,280.58L121.3,288.18L121.6,296.55L121.9,302.79L122.2,306.54L122.5,309.75L122.8,312.03L123.1,312.18L123.4,310.46L123.7,308.02L124,304.88L124.3,301.85L124.6,298.66L124.9,294.91L125.2,290.73L125.5,286.68L125.8,282.65L126.1,278.54L126.4,275.64L126.7,273.71L127,272.05L127.3,270.67L127.6,269.68L127.9,269.15L128.2,269.6L128.5,273.81L128.8,279.41L129.1,283.91L129.4,288.68L129.7,293.34L130,297.59L130.3,301.79L130.6,306.34L130.9,309.92L131.2,312.31L131.5,313.39L131.8,312.52L132.1,310.77L132.4,308.45L132.7,305.6L133,302.34L133.3,299.32L133.6,295.73L133.9,291.03L134.2,285.83L134.5,281.52L134.8,277.33L135.1,272.94L135.4,268.97L135.7,266.11L136,264.86L136.3,266.01L136.6,270.78L136.9,276.87L137.2,282.47L137.5,288.93L137.8,294.71L138.1,298.71L138.4,301.64L138.7,304.62L139,307.04L139.3,308.74L139.6,308.96L139.9,307.63L140.2,305.6L140.5,303.15L140.8,300.33L141.1,297.61L141.4,294.45L141.7,290.64L142,286.62L142.3,283.14L142.6,280.13L142.9,277.37L143.2,275.01L143.5,273.2L143.8,271.53L144.1,270.42L144.4,270.5L144.7,272.31L145,275.25L145.3,279.24L145.6,285.23L145.9,290.9L146.2,295.04L146.5,298.46L146.8,301.45L147.1,303.33L147.4,304.02" fill="none" stroke="#303030" stroke-width="0.5" stroke-linejoin="round"/>
<path d="M32.2,242.6H147.5V326.1" fill="none" stroke="#7a7a7a" stroke-width="0.75"/>
<path d="M32.2,326.1H147.5" fill="none" stroke="#5f9f9b" stroke-width="0.9"/>
<path d="M32.2,242.6V326.40000000000003" fill="none" stroke="#666" stroke-width="0.75"/>
<path d="M31.1,326.1H32.2M31.1,314.17H32.2M31.1,302.24H32.2M31.1,290.31H32.2M31.1,278.39H32.2M31.1,266.46H32.2M31.1,254.53H32.2M31.1,242.6H32.2M32.2,326.1V327.2M45.83,326.1V327.2M59.46,326.1V327.2M73.09,326.1V327.2M86.72,326.1V327.2M100.35,326.1V327.2M113.98,326.1V327.2M127.61,326.1V327.2M141.24,326.1V327.2" stroke="#333" stroke-width="0.5"/>
<text transform="translate(32.5,334.2) scale(1,1.25)" font-family="'Liberation Serif', serif" font-size="4.4" text-anchor="middle" fill="#333" stroke="#333" stroke-width="0.06">0</text>
<text transform="translate(46.13,334.2) scale(1,1.25)" font-family="'Liberation Serif', serif" font-size="4.4" text-anchor="middle" fill="#333" stroke="#333" stroke-width="0.06">20</text>
<text transform="translate(59.76,334.2) scale(1,1.25)" font-family="'Liberation Serif', serif" font-size="4.4" text-anchor="middle" fill="#333" stroke="#333" stroke-width="0.06">40</text>
<text transform="translate(73.39,334.2) scale(1,1.25)" font-family="'Liberation Serif', serif" font-size="4.4" text-anchor="middle" fill="#333" stroke="#333" stroke-width="0.06">60</text>
<text transform="translate(87.02,334.2) scale(1,1.25)" font-family="'Liberation Serif', serif" font-size="4.4" text-anchor="middle" fill="#333" stroke="#333" stroke-width="0.06">80</text>
<text transform="translate(100.65,334.2) scale(1,1.25)" font-family="'Liberation Serif', serif" font-size="4.4" text-anchor="middle" fill="#333" stroke="#333" stroke-width="0.06">100</text>
<text transform="translate(114.28,334.2) scale(1,1.25)" font-family="'Liberation Serif', serif" font-size="4.4" text-anchor="middle" fill="#333" stroke="#333" stroke-width="0.06">120</text>
<text transform="translate(127.91,334.2) scale(1,1.25)" font-family="'Liberation Serif', serif" font-size="4.4" text-anchor="middle" fill="#333" stroke="#333" stroke-width="0.06">140</text>
<text transform="translate(141.54,334.2) scale(1,1.25)" font-family="'Liberation Serif', serif" font-size="4.4" text-anchor="middle" fill="#333" stroke="#333" stroke-width="0.06">160</text>
<text transform="translate(28.8,328) scale(1,1.25)" font-family="'Liberation Serif', serif" font-size="4.4" text-anchor="end" fill="#333" stroke="#333" stroke-width="0.06">0</text>
<text transform="translate(28.8,316.07) scale(1,1.25)" font-family="'Liberation Serif', serif" font-size="4.4" text-anchor="end" fill="#333" stroke="#333" stroke-width="0.06">500</text>
<text transform="translate(28.8,304.14) scale(1,1.25)" font-family="'Liberation Serif', serif" font-size="4.4" text-anchor="end" fill="#333" stroke="#333" stroke-width="0.06">1000</text>
<text transform="translate(28.8,292.21) scale(1,1.25)" font-family="'Liberation Serif', serif" font-size="4.4" text-anchor="end" fill="#333" stroke="#333" stroke-width="0.06">1500</text>
<text transform="translate(28.8,280.29) scale(1,1.25)" font-family="'Liberation Serif', serif" font-size="4.4" text-anchor="end" fill="#333" stroke="#333" stroke-width="0.06">2000</text>
<text transform="translate(28.8,268.36) scale(1,1.25)" font-family="'Liberation Serif', serif" font-size="4.4" text-anchor="end" fill="#333" stroke="#333" stroke-width="0.06">2500</text>
<text transform="translate(28.8,256.43) scale(1,1.25)" font-family="'Liberation Serif', serif" font-size="4.4" text-anchor="end" fill="#333" stroke="#333" stroke-width="0.06">3000</text>
<text transform="translate(28.8,244.5) scale(1,1.25)" font-family="'Liberation Serif', serif" font-size="4.4" text-anchor="end" fill="#333" stroke="#333" stroke-width="0.06">3500</text>
<text transform="translate(16.4,283.85) rotate(-90)" x="0" y="0" font-family="'Liberation Serif', serif" font-weight="bold" font-size="4.5" text-anchor="middle" fill="#111">MGSI (10 kJ/m<tspan dy="-1.2" font-size="2.8">-2</tspan><tspan dy="1.2"> day))</tspan></text>
<rect x="35.5" y="247.7" width="8.8" height="1.8" fill="#84ccc8"/>
<rect x="35.5" y="252.5" width="8.8" height="1.2" fill="#b0b0b0"/>
<text x="46.1" y="250" font-family="'Liberation Serif', serif" font-size="3.85" fill="#222" stroke="#222" stroke-width="0.08">MGSI real</text>
<text x="46.1" y="254.2" font-family="'Liberation Serif', serif" font-size="3.85" fill="#222" stroke="#222" stroke-width="0.08">MGSI modelled</text>
<text x="145.7" y="247.6" font-family="'Liberation Serif', serif" font-size="4.08" text-anchor="end" fill="#222" stroke="#222" stroke-width="0.08">Lourizán (Pontevedra)</text>
<text x="90.05" y="342.2" font-family="'Liberation Serif', serif" font-size="4.85" text-anchor="middle" fill="#222" stroke="#222" stroke-width="0.1">Months</text>
<path d="M156,326.1L156,269.93L156.3,270.42L156.6,272.12L156.9,274.6L157.2,277.86L157.5,283.34L157.8,289.5L158.1,294.62L158.4,298.67L158.7,302.66L159,305.91L159.3,308.27L159.6,310.1L159.9,311.91L160.2,313.35L160.5,314L160.8,312.76L161.1,310.28L161.4,306.81L161.7,302.93L162,298.96L162.3,294.13L162.6,288.49L162.9,283.37L163.2,278.38L163.5,272.98L163.8,268.35L164.1,265.89L164.4,265.95L164.7,267.87L165,271.25L165.3,275.35L165.6,279.84L165.9,286.18L166.2,293.34L166.5,298.5L166.8,301.49L167.1,304.14L167.4,306.99L167.7,309.47L168,311.59L168.3,313.3L168.6,314.52L168.9,315L169.2,313L169.5,308.31L169.8,301.86L170.1,297.65L170.4,294.85L170.7,292.31L171,288.2L171.3,283.06L171.6,279.59L171.9,276.94L172.2,275.02L172.5,274.07L172.8,273.54L173.1,273.34L173.4,274.37L173.7,277.08L174,280.75L174.3,285.79L174.6,293.43L174.9,300.18L175.2,304.34L175.5,307.22L175.8,310.3L176.1,315.54L176.4,315.97L176.7,316.4L177,315.97L177.3,315.54L177.6,307.35L177.9,302.98L178.2,299.11L178.5,295.21L178.8,291.07L179.1,286.88L179.4,282.92L179.7,279.57L180,276.18L180.3,272.66L180.6,269.51L180.9,267.24L181.2,266.22L181.5,266.67L181.8,268.8L182.1,272.23L182.4,276.25L182.7,280.74L183,287.18L183.3,294.09L183.6,299.47L183.9,303.56L184.2,307.71L184.5,311.08L184.8,313.5L185.1,314.7L185.4,313.47L185.7,311.09L186,307.76L186.3,303.4L186.6,299.32L186.9,294.98L187.2,289.98L187.5,284.77L187.8,280.35L188.1,275.92L188.4,271.78L188.7,269.67L189,270.61L189.3,274.83L189.6,280.23L189.9,284.51L190.2,287.93L190.5,292.32L190.8,298.76L191.1,309.42L191.4,314.68L191.7,313.64L192,311.67L192.3,309.07L192.6,305.68L192.9,301.48L193.2,297.26L193.5,292.66L193.8,286.69L194.1,281.92L194.4,278.81L194.7,276.15L195,273.9L195.3,272.27L195.6,271.41L195.9,271.64L196.2,274.65L196.5,279.07L196.8,283.46L197.1,288.81L197.4,294.14L197.7,298.65L198,302.47L198.3,306.46L198.6,310.08L198.9,312.82L199.2,314.84L199.5,315.8L199.8,314.79L200.1,312.69L200.4,309.82L200.7,306.12L201,302.61L201.3,298.3L201.6,292.3L201.9,285.65L202.2,280.58L202.5,277.81L202.8,275.61L203.1,273.74L203.4,272.34L203.7,271.51L204,271.31L204.3,271.76L204.6,272.81L204.9,274.33L205.2,276.49L205.5,281.49L205.8,288.61L206.1,295.2L206.4,299.83L206.7,303.5L207,307.54L207.3,310.83L207.6,313.36L207.9,315.24L208.2,316.1L208.5,314.81L208.8,312.3L209.1,308.68L209.4,304.47L209.7,300.29L210,295.15L210.3,289.04L210.6,283.23L210.9,279.22L211.2,275.94L211.5,272.96L211.8,270.64L212.1,269.32L212.4,269.35L212.7,273.98L213,283.19L213.3,293.08L213.6,300.22L213.9,303.87L214.2,305.94L214.5,308.52L214.8,310.84L215.1,312.73L215.4,314.12L215.7,314.7L216,313.53L216.3,311.18L216.6,307.91L216.9,303.51L217.2,299.18L217.5,295.18L217.8,290.98L218.1,286.57L218.4,282.35L218.7,278.31L219,273.62L219.3,269.45L219.6,267.45L219.9,268.15L220.2,271.36L220.5,276L220.8,280.75L221.1,285.9L221.4,292.11L221.7,297.45L222,301.1L222.3,303.46L222.6,305.9L222.9,308.34L223.2,310.52L223.5,312.41L223.8,313.97L224.1,315.13L224.4,315.75L224.7,314.53L225,310.82L225.3,304.76L225.6,299.54L225.9,295.24L226.2,291.12L226.5,287.24L226.8,283.59L227.1,280.26L227.4,276.63L227.7,272.68L228,269.01L228.3,266.25L228.6,264.91L228.9,265.52L229.2,269.31L229.5,275.1L229.8,280.88L230.1,286.61L230.4,293.2L230.7,298.41L231,301.83L231.3,304.51L231.6,307.31L231.9,309.56L232.2,311.17L232.5,311.3L232.8,309.01L233.1,305.56L233.4,301.65L233.7,298.16L234,294.83L234.3,291.49L234.6,288.21L234.9,285.15L235.2,282.37L235.5,279.34L235.8,276.17L236.1,273.39L236.4,271.49L236.7,270.79L237,271.53L237.3,273.84L237.6,277.07L237.9,280.62L238.2,285.2L238.5,290.55L238.8,295.09L239.1,299.21L239.4,302.98L239.7,305.25L240,306.5L240.3,305.52L240.6,303.61L240.9,300.9L241.2,297.29L241.5,293.83L241.8,290.29L242.1,286.47L242.4,282.91L242.7,279.33L243,276.48L243.3,275.91L243.6,276.11L243.9,276.55L244.2,278.15L244.5,284.1L244.8,290.3L245.1,296.28L245.4,301.94L245.7,306.83L246,311.16L246.3,313.88L246.6,314.81L246.9,313.81L247.2,312.12L247.5,309.94L247.8,307.3L248.1,304.57L248.4,301.8L248.7,297.67L249,291.91L249.3,285.75L249.6,281.27L249.9,277.65L250.2,274.34L250.5,271.9L250.8,270.82L251.1,271.61L251.4,274.96L251.7,279.79L252,284.74L252.3,290.18L252.6,296.52L252.9,301.68L253.2,305.34L253.5,308.54L253.8,311.63L254.1,313.95L254.4,315.45L254.7,315.21L255,313.69L255.3,311.47L255.6,308.74L255.9,305.72L256.2,302.85L256.5,299.54L256.8,295.51L257.1,291.14L257.4,286.8L257.7,282.17L258,277.91L258.3,274.21L258.6,270.42L258.9,267.12L259.2,265.15L259.5,265.23L259.8,270.66L260.1,278.55L260.4,285.08L260.7,292.08L261,297.86L261.3,301.63L261.6,304.37L261.9,307.37L262.2,310.05L262.5,312.31L262.8,314.11L263.1,315.31L263.4,315.12L263.7,312L264,307.03L264.3,302.21L264.6,298.19L264.9,294.31L265.2,290.61L265.5,287.1L265.8,283.81L266.1,280L266.4,275.96L266.7,272.75L267,271.33L267.3,271.78L267.6,273.65L267.9,276.46L268.2,279.66L268.5,283.82L268.8,289.36L269.1,294.53L269.4,298.4L269.7,301.41L270,304.5L270.3,306.92L270.6,308.63L270.9,309.14L271.2,309.14L271.5,309.14L271.5,326.1Z" fill="#93cfcc"/>
<path d="M156,269.93L156.3,270.42L156.6,272.12L156.9,274.6L157.2,277.86L157.5,283.34L157.8,289.5L158.1,294.62L158.4,298.67L158.7,302.66L159,305.91L159.3,308.27L159.6,310.1L159.9,311.91L160.2,313.35L160.5,314L160.8,312.76L161.1,310.28L161.4,306.81L161.7,302.93L162,298.96L162.3,294.13L162.6,288.49L162.9,283.37L163.2,278.38L163.5,272.98L163.8,268.35L164.1,265.89L164.4,265.95L164.7,267.87L165,271.25L165.3,275.35L165.6,279.84L165.9,286.18L166.2,293.34L166.5,298.5L166.8,301.49L167.1,304.14L167.4,306.99L167.7,309.47L168,311.59L168.3,313.3L168.6,314.52L168.9,315L169.2,313L169.5,308.31L169.8,301.86L170.1,297.65L170.4,294.85L170.7,292.31L171,288.2L171.3,283.06L171.6,279.59L171.9,276.94L172.2,275.02L172.5,274.07L172.8,273.54L173.1,273.34L173.4,274.37L173.7,277.08L174,280.75L174.3,285.79L174.6,293.43L174.9,300.18L175.2,304.34L175.5,307.22L175.8,310.3L176.1,312.74L176.4,314.55L176.7,315.4L177,314.01L177.3,311.29L177.6,307.35L177.9,302.98L178.2,299.11L178.5,295.21L178.8,291.07L179.1,286.88L179.4,282.92L179.7,279.57L180,276.18L180.3,272.66L180.6,269.51L180.9,267.24L181.2,266.22L181.5,266.67L181.8,268.8L182.1,272.23L182.4,276.25L182.7,280.74L183,287.18L183.3,294.09L183.6,299.47L183.9,303.56L184.2,307.71L184.5,311.08L184.8,313.5L185.1,314.7L185.4,313.47L185.7,311.09L186,307.76L186.3,303.4L186.6,299.32L186.9,294.98L187.2,289.98L187.5,284.77L187.8,280.35L188.1,275.92L188.4,271.78L188.7,269.67L189,270.61L189.3,274.83L189.6,280.23L189.9,284.51L190.2,287.93L190.5,292.32L190.8,298.76L191.1,309.42L191.4,314.68L191.7,313.64L192,311.67L192.3,309.07L192.6,305.68L192.9,301.48L193.2,297.26L193.5,292.66L193.8,286.69L194.1,281.92L194.4,278.81L194.7,276.15L195,273.9L195.3,272.27L195.6,271.41L195.9,271.64L196.2,274.65L196.5,279.07L196.8,283.46L197.1,288.81L197.4,294.14L197.7,298.65L198,302.47L198.3,306.46L198.6,310.08L198.9,312.82L199.2,314.84L199.5,315.8L199.8,314.79L200.1,312.69L200.4,309.82L200.7,306.12L201,302.61L201.3,298.3L201.6,292.3L201.9,285.65L202.2,280.58L202.5,277.81L202.8,275.61L203.1,273.74L203.4,272.34L203.7,271.51L204,271.31L204.3,271.76L204.6,272.81L204.9,274.33L205.2,276.49L205.5,281.49L205.8,288.61L206.1,295.2L206.4,299.83L206.7,303.5L207,307.54L207.3,310.83L207.6,313.36L207.9,315.24L208.2,316.1L208.5,314.81L208.8,312.3L209.1,308.68L209.4,304.47L209.7,300.29L210,295.15L210.3,289.04L210.6,283.23L210.9,279.22L211.2,275.94L211.5,272.96L211.8,270.64L212.1,269.32L212.4,269.35L212.7,273.98L213,283.19L213.3,293.08L213.6,300.22L213.9,303.87L214.2,305.94L214.5,308.52L214.8,310.84L215.1,312.73L215.4,314.12L215.7,314.7L216,313.53L216.3,311.18L216.6,307.91L216.9,303.51L217.2,299.18L217.5,295.18L217.8,290.98L218.1,286.57L218.4,282.35L218.7,278.31L219,273.62L219.3,269.45L219.6,267.45L219.9,268.15L220.2,271.36L220.5,276L220.8,280.75L221.1,285.9L221.4,292.11L221.7,297.45L222,301.1L222.3,303.46L222.6,305.9L222.9,308.34L223.2,310.52L223.5,312.41L223.8,313.97L224.1,315.13L224.4,315.75L224.7,314.53L225,310.82L225.3,304.76L225.6,299.54L225.9,295.24L226.2,291.12L226.5,287.24L226.8,283.59L227.1,280.26L227.4,276.63L227.7,272.68L228,269.01L228.3,266.25L228.6,264.91L228.9,265.52L229.2,269.31L229.5,275.1L229.8,280.88L230.1,286.61L230.4,293.2L230.7,298.41L231,301.83L231.3,304.51L231.6,307.31L231.9,309.56L232.2,311.17L232.5,311.3L232.8,309.01L233.1,305.56L233.4,301.65L233.7,298.16L234,294.83L234.3,291.49L234.6,288.21L234.9,285.15L235.2,282.37L235.5,279.34L235.8,276.17L236.1,273.39L236.4,271.49L236.7,270.79L237,271.53L237.3,273.84L237.6,277.07L237.9,280.62L238.2,285.2L238.5,290.55L238.8,295.09L239.1,299.21L239.4,302.98L239.7,305.25L240,306.5L240.3,305.52L240.6,303.61L240.9,300.9L241.2,297.29L241.5,293.83L241.8,290.29L242.1,286.47L242.4,282.91L242.7,279.33L243,276.48L243.3,275.91L243.6,276.11L243.9,276.55L244.2,278.15L244.5,284.1L244.8,290.3L245.1,296.28L245.4,301.94L245.7,306.83L246,311.16L246.3,313.88L246.6,314.81L246.9,313.81L247.2,312.12L247.5,309.94L247.8,307.3L248.1,304.57L248.4,301.8L248.7,297.67L249,291.91L249.3,285.75L249.6,281.27L249.9,277.65L250.2,274.34L250.5,271.9L250.8,270.82L251.1,271.61L251.4,274.96L251.7,279.79L252,284.74L252.3,290.18L252.6,296.52L252.9,301.68L253.2,305.34L253.5,308.54L253.8,311.63L254.1,313.95L254.4,315.45L254.7,315.21L255,313.69L255.3,311.47L255.6,308.74L255.9,305.72L256.2,302.85L256.5,299.54L256.8,295.51L257.1,291.14L257.4,286.8L257.7,282.17L258,277.91L258.3,274.21L258.6,270.42L258.9,267.12L259.2,265.15L259.5,265.23L259.8,270.66L260.1,278.55L260.4,285.08L260.7,292.08L261,297.86L261.3,301.63L261.6,304.37L261.9,307.37L262.2,310.05L262.5,312.31L262.8,314.11L263.1,315.31L263.4,315.12L263.7,312L264,307.03L264.3,302.21L264.6,298.19L264.9,294.31L265.2,290.61L265.5,287.1L265.8,283.81L266.1,280L266.4,275.96L266.7,272.75L267,271.33L267.3,271.78L267.6,273.65L267.9,276.46L268.2,279.66L268.5,283.82L268.8,289.36L269.1,294.53L269.4,298.4L269.7,301.41L270,304.5L270.3,306.92L270.6,308.63L270.9,309.14L271.2,309.14L271.5,309.14" fill="none" stroke="#303030" stroke-width="0.5" stroke-linejoin="round"/>
<path d="M156.0,242.6H271.5V326.1" fill="none" stroke="#7a7a7a" stroke-width="0.75"/>
<path d="M156.0,326.1H271.5" fill="none" stroke="#5f9f9b" stroke-width="0.9"/>
<path d="M156.0,242.6V326.40000000000003" fill="none" stroke="#666" stroke-width="0.75"/>
<path d="M154.9,326.1H156.0M154.9,314.17H156.0M154.9,302.24H156.0M154.9,290.31H156.0M154.9,278.39H156.0M154.9,266.46H156.0M154.9,254.53H156.0M154.9,242.6H156.0M156,326.1V327.2M169.63,326.1V327.2M183.26,326.1V327.2M196.89,326.1V327.2M210.52,326.1V327.2M224.15,326.1V327.2M237.78,326.1V327.2M251.41,326.1V327.2M265.04,326.1V327.2" stroke="#333" stroke-width="0.5"/>
<text transform="translate(156.3,334.2) scale(1,1.25)" font-family="'Liberation Serif', serif" font-size="4.4" text-anchor="middle" fill="#333" stroke="#333" stroke-width="0.06">0</text>
<text transform="translate(169.93,334.2) scale(1,1.25)" font-family="'Liberation Serif', serif" font-size="4.4" text-anchor="middle" fill="#333" stroke="#333" stroke-width="0.06">20</text>
<text transform="translate(183.56,334.2) scale(1,1.25)" font-family="'Liberation Serif', serif" font-size="4.4" text-anchor="middle" fill="#333" stroke="#333" stroke-width="0.06">40</text>
<text transform="translate(197.19,334.2) scale(1,1.25)" font-family="'Liberation Serif', serif" font-size="4.4" text-anchor="middle" fill="#333" stroke="#333" stroke-width="0.06">60</text>
<text transform="translate(210.82,334.2) scale(1,1.25)" font-family="'Liberation Serif', serif" font-size="4.4" text-anchor="middle" fill="#333" stroke="#333" stroke-width="0.06">80</text>
<text transform="translate(224.45,334.2) scale(1,1.25)" font-family="'Liberation Serif', serif" font-size="4.4" text-anchor="middle" fill="#333" stroke="#333" stroke-width="0.06">100</text>
<text transform="translate(238.08,334.2) scale(1,1.25)" font-family="'Liberation Serif', serif" font-size="4.4" text-anchor="middle" fill="#333" stroke="#333" stroke-width="0.06">120</text>
<text transform="translate(251.71,334.2) scale(1,1.25)" font-family="'Liberation Serif', serif" font-size="4.4" text-anchor="middle" fill="#333" stroke="#333" stroke-width="0.06">140</text>
<text transform="translate(265.34,334.2) scale(1,1.25)" font-family="'Liberation Serif', serif" font-size="4.4" text-anchor="middle" fill="#333" stroke="#333" stroke-width="0.06">160</text>
<rect x="159.3" y="247.7" width="8.8" height="1.8" fill="#84ccc8"/>
<rect x="159.3" y="252.5" width="8.8" height="1.2" fill="#b0b0b0"/>
<text x="169.9" y="250" font-family="'Liberation Serif', serif" font-size="3.85" fill="#222" stroke="#222" stroke-width="0.08">MGSI real</text>
<text x="169.9" y="254.2" font-family="'Liberation Serif', serif" font-size="3.85" fill="#222" stroke="#222" stroke-width="0.08">MGSI modelled</text>
<text x="269.7" y="247.6" font-family="'Liberation Serif', serif" font-size="4.08" text-anchor="end" fill="#222" stroke="#222" stroke-width="0.08">Lourizán (Pontevedra)</text>
<text x="213.95" y="342.2" font-family="'Liberation Serif', serif" font-size="4.85" text-anchor="middle" fill="#222" stroke="#222" stroke-width="0.1">Months</text>
<path d="M299.3,326.1L299.3,275.05L299.6,276.18L299.9,279.97L300.2,284.39L300.5,290.32L300.8,296.09L301.1,300.26L301.4,302.83L301.7,305.07L302,307.44L302.3,309.46L302.6,311.13L302.9,312.41L303.2,313.14L303.5,312.79L303.8,311.21L304.1,308.97L304.4,306.1L304.7,302.72L305,299.64L305.3,296.17L305.6,291.86L305.9,287.01L306.2,282.27L306.5,278.54L306.8,275.84L307.1,273.36L307.4,271.33L307.7,270.14L308,270.03L308.3,271.2L308.6,273.54L308.9,276.61L309.2,280.78L309.5,288.04L309.8,295.56L310.1,300.76L310.4,304.31L310.7,307.97L311,314.07L311.3,314.29L311.6,314.5L311.9,314.29L312.2,314.07L312.5,309.8L312.8,307.26L313.1,304.21L313.4,301.37L313.7,297.98L314,292.94L314.3,286.8L314.6,281.41L314.9,278.15L315.2,275.55L315.5,273.54L315.8,272.55L316.1,272.76L316.4,274.15L316.7,276.44L317,279.3L317.3,283.41L317.6,289.88L317.9,296.46L318.2,301.53L318.5,305.31L318.8,309.07L319.1,314.77L319.4,315.27L319.7,315.43L320,314.94L320.3,312.05L320.6,309.94L320.9,307.36L321.2,304.26L321.5,301.28L321.8,297.92L322.1,292.08L322.4,284.45L322.7,278.71L323,275.79L323.3,273.55L323.6,271.87L323.9,270.94L324.2,270.88L324.5,271.96L324.8,274.06L325.1,276.84L325.4,280.7L325.7,287.67L326,295.4L326.3,301.32L326.6,305L326.9,308.09L327.2,311.22L327.5,313.62L327.8,315.34L328.1,315.66L328.4,314.24L328.7,311.99L329,309.02L329.3,305.19L329.6,301.51L329.9,296.95L330.2,290.19L330.5,282.78L330.8,278.06L331.1,275.14L331.4,272.78L331.7,271.1L332,270.32L332.3,270.6L332.6,272.18L332.9,274.77L333.2,277.87L333.5,281.33L333.8,286.06L334.1,292.92L334.4,302.91L334.7,312.96L335,315.99L335.3,315.28L335.6,314.06L335.9,312.44L336.2,310.49L336.5,308.24L336.8,305.59L337.1,303.04L337.4,300.51L337.7,292.92L338,282.93L338.3,277.32L338.6,273.47L338.9,271.98L339.2,272.63L339.5,274.56L339.8,277.34L340.1,280.66L340.4,285.68L340.7,292.39L341,298.7L341.3,303.57L341.6,307.7L341.9,311.71L342.2,314.37L342.5,315.8L342.8,315.12L343.1,313.55L343.4,311.42L343.7,308.77L344,305.54L344.3,302.18L344.6,298.92L344.9,294.16L345.2,287.8L345.5,281.55L345.8,277.73L346.1,275.33L346.4,273.38L346.7,271.99L347,271.33L347.3,271.66L347.6,273.43L347.9,276.34L348.2,279.98L348.5,285.49L348.8,293.75L349.1,300.67L349.4,304.71L349.7,307.57L350,310.67L350.3,313.13L350.6,314.96L350.9,315.8L351.2,314.95L351.5,313.09L351.8,310.59L352.1,307.35L352.4,303.5L352.7,299.97L353,295.48L353.3,289.41L353.6,283.01L353.9,278.44L354.2,275.78L354.5,273.64L354.8,272.16L355.1,271.64L355.4,272.19L355.7,273.74L356,275.9L356.3,278.3L356.6,281.38L356.9,285.4L357.2,289.9L357.5,295.02L357.8,301.03L358.1,306.32L358.4,310.39L358.7,313.66L359,316.48L359.3,316.59L359.6,315.34L359.9,313.49L360.2,311.18L360.5,308.41L360.8,305.18L361.1,302.03L361.4,298.73L361.7,294L362,287.91L362.3,281.89L362.6,277.75L362.9,274.37L363.2,271.52L363.5,269.84L363.8,269.73L364.1,271.13L364.4,273.75L364.7,276.99L365,280.8L365.3,286.35L365.6,292.66L365.9,298.57L366.2,304.12L366.5,309.81L366.8,313.49L367.1,315.4L367.4,314.92L367.7,313.73L368,312.08L368.3,310.02L368.6,307.58L368.9,304.75L369.2,301.87L369.5,299.11L369.8,294.12L370.1,286.69L370.4,279.95L370.7,270.79L371,268.97L371.3,267.14L371.6,265.32L371.9,266.15L372.2,267.97L372.5,269.8L372.8,278.14L373.1,281.7L373.4,287.21L373.7,293.85L374,299.76L374.3,304.29L374.6,308.32L374.9,312.14L375.2,314.74L375.5,316.1L375.8,315.39L376.1,313.74L376.4,311.51L376.7,308.72L377,305.32L377.3,302.02L377.6,298.28L377.9,292.25L378.2,284.69L378.5,279L378.8,275.75L379.1,273.14L379.4,271.16L379.7,270.08L380,270.03L380.3,270.95L380.6,272.77L380.9,275.27L381.2,278.49L381.5,284.35L381.8,292.98L382.1,300.3L382.4,305.32L382.7,309.53L383,312.63L383.3,314.3L383.6,313.15L383.9,310.87L384.2,307.71L384.5,303.45L384.8,299.25L385.1,293.88L385.4,286.9L385.7,280.37L386,276.3L386.3,273.29L386.6,271.71L386.9,272.16L387.2,274.56L387.5,278.26L387.8,282.34L388.1,286.86L388.4,292.61L388.7,298.73L389,304.62L389.3,310.88L389.6,315.38L389.9,316.84L390.2,316.13L390.5,314.82L390.8,313.1L391.1,311L391.4,308.56L391.7,305.76L392,302.82L392.3,300.22L392.6,296.07L392.9,289.72L393.2,282.85L393.5,278.27L393.8,275.95L394.1,274.15L394.4,272.81L394.7,272.08L395,272.11L395.3,273.38L395.6,275.8L395.9,278.95L396.2,283.12L396.5,289.96L396.8,297.87L397.1,305.53L397.4,312.64L397.7,316.28L398,316.71L398.3,315.89L398.6,314.59L398.9,312.93L399.2,310.95L399.5,308.67L399.8,306.09L400.1,303.29L400.4,300.85L400.7,297.55L401,292.3L401.3,285.79L401.6,270.95L401.9,268.98L402.2,267.01L402.5,265.04L402.8,266.56L403.1,268.53L403.4,270.5L403.7,280.61L404,285.69L404.3,292.51L404.6,298.68L404.9,303.05L405.2,306.25L405.5,309.61L405.8,312.45L406.1,314.61L406.4,315.97L406.7,315.55L407,313.61L407.3,310.89L407.6,307.16L407.9,302.71L408.2,298.82L408.5,294.85L408.8,290.38L409.1,285.74L409.4,281.46L409.7,278.22L410,275.71L410.3,273.44L410.6,271.84L410.9,271.3L411.2,272.08L411.5,274.22L411.8,277.25L412.1,280.58L412.4,284.42L412.7,289.75L413,294.95L413.3,298.88L413.6,301.63L413.9,304.16L414.2,306.52L414.5,308.27L414.8,309.14L414.8,326.1Z" fill="#93cfcc"/>
<path d="M299.3,275.05L299.6,276.18L299.9,279.97L300.2,284.39L300.5,290.32L300.8,296.09L301.1,300.26L301.4,302.83L301.7,305.07L302,307.44L302.3,309.46L302.6,311.13L302.9,312.41L303.2,313.14L303.5,312.79L303.8,311.21L304.1,308.97L304.4,306.1L304.7,302.72L305,299.64L305.3,296.17L305.6,291.86L305.9,287.01L306.2,282.27L306.5,278.54L306.8,275.84L307.1,273.36L307.4,271.33L307.7,270.14L308,270.03L308.3,271.2L308.6,273.54L308.9,276.61L309.2,280.78L309.5,288.04L309.8,295.56L310.1,300.76L310.4,304.31L310.7,307.97L311,310.86L311.3,312.97L311.6,314L311.9,313.34L312.2,311.81L312.5,309.8L312.8,307.26L313.1,304.21L313.4,301.37L313.7,297.98L314,292.94L314.3,286.8L314.6,281.41L314.9,278.15L315.2,275.55L315.5,273.54L315.8,272.55L316.1,272.76L316.4,274.15L316.7,276.44L317,279.3L317.3,283.41L317.6,289.88L317.9,296.46L318.2,301.53L318.5,305.31L318.8,309.07L319.1,312.03L319.4,314.08L319.7,314.62L320,313.68L320.3,312.05L320.6,309.94L320.9,307.36L321.2,304.26L321.5,301.28L321.8,297.92L322.1,292.08L322.4,284.45L322.7,278.71L323,275.79L323.3,273.55L323.6,271.87L323.9,270.94L324.2,270.88L324.5,271.96L324.8,274.06L325.1,276.84L325.4,280.7L325.7,287.67L326,295.4L326.3,301.32L326.6,305L326.9,308.09L327.2,311.22L327.5,313.62L327.8,315.34L328.1,315.66L328.4,314.24L328.7,311.99L329,309.02L329.3,305.19L329.6,301.51L329.9,296.95L330.2,290.19L330.5,282.78L330.8,278.06L331.1,275.14L331.4,272.78L331.7,271.1L332,270.32L332.3,270.6L332.6,272.18L332.9,274.77L333.2,277.87L333.5,281.33L333.8,286.06L334.1,292.92L334.4,302.91L334.7,312.96L335,315.99L335.3,315.28L335.6,314.06L335.9,312.44L336.2,310.49L336.5,308.24L336.8,305.59L337.1,303.04L337.4,300.51L337.7,292.92L338,282.93L338.3,277.32L338.6,273.47L338.9,271.98L339.2,272.63L339.5,274.56L339.8,277.34L340.1,280.66L340.4,285.68L340.7,292.39L341,298.7L341.3,303.57L341.6,307.7L341.9,311.71L342.2,314.37L342.5,315.8L342.8,315.12L343.1,313.55L343.4,311.42L343.7,308.77L344,305.54L344.3,302.18L344.6,298.92L344.9,294.16L345.2,287.8L345.5,281.55L345.8,277.73L346.1,275.33L346.4,273.38L346.7,271.99L347,271.33L347.3,271.66L347.6,273.43L347.9,276.34L348.2,279.98L348.5,285.49L348.8,293.75L349.1,300.67L349.4,304.71L349.7,307.57L350,310.67L350.3,313.13L350.6,314.96L350.9,315.8L351.2,314.95L351.5,313.09L351.8,310.59L352.1,307.35L352.4,303.5L352.7,299.97L353,295.48L353.3,289.41L353.6,283.01L353.9,278.44L354.2,275.78L354.5,273.64L354.8,272.16L355.1,271.64L355.4,272.19L355.7,273.74L356,275.9L356.3,278.3L356.6,281.38L356.9,285.4L357.2,289.9L357.5,295.02L357.8,301.03L358.1,306.32L358.4,310.39L358.7,313.66L359,316.48L359.3,316.59L359.6,315.34L359.9,313.49L360.2,311.18L360.5,308.41L360.8,305.18L361.1,302.03L361.4,298.73L361.7,294L362,287.91L362.3,281.89L362.6,277.75L362.9,274.37L363.2,271.52L363.5,269.84L363.8,269.73L364.1,271.13L364.4,273.75L364.7,276.99L365,280.8L365.3,286.35L365.6,292.66L365.9,298.57L366.2,304.12L366.5,309.81L366.8,313.49L367.1,315.4L367.4,314.92L367.7,313.73L368,312.08L368.3,310.02L368.6,307.58L368.9,304.75L369.2,301.87L369.5,299.11L369.8,294.12L370.1,286.69L370.4,279.95L370.7,276.35L371,273.7L371.3,271.74L371.6,270.83L371.9,271.11L372.2,272.62L372.5,275.1L372.8,278.14L373.1,281.7L373.4,287.21L373.7,293.85L374,299.76L374.3,304.29L374.6,308.32L374.9,312.14L375.2,314.74L375.5,316.1L375.8,315.39L376.1,313.74L376.4,311.51L376.7,308.72L377,305.32L377.3,302.02L377.6,298.28L377.9,292.25L378.2,284.69L378.5,279L378.8,275.75L379.1,273.14L379.4,271.16L379.7,270.08L380,270.03L380.3,270.95L380.6,272.77L380.9,275.27L381.2,278.49L381.5,284.35L381.8,292.98L382.1,300.3L382.4,305.32L382.7,309.53L383,312.63L383.3,314.3L383.6,313.15L383.9,310.87L384.2,307.71L384.5,303.45L384.8,299.25L385.1,293.88L385.4,286.9L385.7,280.37L386,276.3L386.3,273.29L386.6,271.71L386.9,272.16L387.2,274.56L387.5,278.26L387.8,282.34L388.1,286.86L388.4,292.61L388.7,298.73L389,304.62L389.3,310.88L389.6,315.38L389.9,316.84L390.2,316.13L390.5,314.82L390.8,313.1L391.1,311L391.4,308.56L391.7,305.76L392,302.82L392.3,300.22L392.6,296.07L392.9,289.72L393.2,282.85L393.5,278.27L393.8,275.95L394.1,274.15L394.4,272.81L394.7,272.08L395,272.11L395.3,273.38L395.6,275.8L395.9,278.95L396.2,283.12L396.5,289.96L396.8,297.87L397.1,305.53L397.4,312.64L397.7,316.28L398,316.71L398.3,315.89L398.6,314.59L398.9,312.93L399.2,310.95L399.5,308.67L399.8,306.09L400.1,303.29L400.4,300.85L400.7,297.55L401,292.3L401.3,285.79L401.6,280L401.9,276.08L402.2,272.82L402.5,271.31L402.8,271.91L403.1,273.99L403.4,277.04L403.7,280.61L404,285.69L404.3,292.51L404.6,298.68L404.9,303.05L405.2,306.25L405.5,309.61L405.8,312.45L406.1,314.61L406.4,315.97L406.7,315.55L407,313.61L407.3,310.89L407.6,307.16L407.9,302.71L408.2,298.82L408.5,294.85L408.8,290.38L409.1,285.74L409.4,281.46L409.7,278.22L410,275.71L410.3,273.44L410.6,271.84L410.9,271.3L411.2,272.08L411.5,274.22L411.8,277.25L412.1,280.58L412.4,284.42L412.7,289.75L413,294.95L413.3,298.88L413.6,301.63L413.9,304.16L414.2,306.52L414.5,308.27L414.8,309.14" fill="none" stroke="#303030" stroke-width="0.5" stroke-linejoin="round"/>
<path d="M299.3,242.6H415.0V326.1" fill="none" stroke="#7a7a7a" stroke-width="0.75"/>
<path d="M299.3,326.1H415.0" fill="none" stroke="#5f9f9b" stroke-width="0.9"/>
<path d="M299.3,242.6V326.40000000000003" fill="none" stroke="#666" stroke-width="0.75"/>
<path d="M298.2,326.1H299.3M298.2,314.17H299.3M298.2,302.24H299.3M298.2,290.31H299.3M298.2,278.39H299.3M298.2,266.46H299.3M298.2,254.53H299.3M298.2,242.6H299.3M299.3,326.1V327.2M312.93,326.1V327.2M326.56,326.1V327.2M340.19,326.1V327.2M353.82,326.1V327.2M367.45,326.1V327.2M381.08,326.1V327.2M394.71,326.1V327.2M408.34,326.1V327.2" stroke="#333" stroke-width="0.5"/>
<text transform="translate(299.6,334.2) scale(1,1.25)" font-family="'Liberation Serif', serif" font-size="4.4" text-anchor="middle" fill="#333" stroke="#333" stroke-width="0.06">0</text>
<text transform="translate(313.23,334.2) scale(1,1.25)" font-family="'Liberation Serif', serif" font-size="4.4" text-anchor="middle" fill="#333" stroke="#333" stroke-width="0.06">20</text>
<text transform="translate(326.86,334.2) scale(1,1.25)" font-family="'Liberation Serif', serif" font-size="4.4" text-anchor="middle" fill="#333" stroke="#333" stroke-width="0.06">40</text>
<text transform="translate(340.49,334.2) scale(1,1.25)" font-family="'Liberation Serif', serif" font-size="4.4" text-anchor="middle" fill="#333" stroke="#333" stroke-width="0.06">60</text>
<text transform="translate(354.12,334.2) scale(1,1.25)" font-family="'Liberation Serif', serif" font-size="4.4" text-anchor="middle" fill="#333" stroke="#333" stroke-width="0.06">80</text>
<text transform="translate(367.75,334.2) scale(1,1.25)" font-family="'Liberation Serif', serif" font-size="4.4" text-anchor="middle" fill="#333" stroke="#333" stroke-width="0.06">100</text>
<text transform="translate(381.38,334.2) scale(1,1.25)" font-family="'Liberation Serif', serif" font-size="4.4" text-anchor="middle" fill="#333" stroke="#333" stroke-width="0.06">120</text>
<text transform="translate(395.01,334.2) scale(1,1.25)" font-family="'Liberation Serif', serif" font-size="4.4" text-anchor="middle" fill="#333" stroke="#333" stroke-width="0.06">140</text>
<text transform="translate(408.64,334.2) scale(1,1.25)" font-family="'Liberation Serif', serif" font-size="4.4" text-anchor="middle" fill="#333" stroke="#333" stroke-width="0.06">160</text>
<text transform="translate(295.9,328) scale(1,1.25)" font-family="'Liberation Serif', serif" font-size="4.4" text-anchor="end" fill="#333" stroke="#333" stroke-width="0.06">0</text>
<text transform="translate(295.9,316.07) scale(1,1.25)" font-family="'Liberation Serif', serif" font-size="4.4" text-anchor="end" fill="#333" stroke="#333" stroke-width="0.06">500</text>
<text transform="translate(295.9,304.14) scale(1,1.25)" font-family="'Liberation Serif', serif" font-size="4.4" text-anchor="end" fill="#333" stroke="#333" stroke-width="0.06">1000</text>
<text transform="translate(295.9,292.21) scale(1,1.25)" font-family="'Liberation Serif', serif" font-size="4.4" text-anchor="end" fill="#333" stroke="#333" stroke-width="0.06">1500</text>
<text transform="translate(295.9,280.29) scale(1,1.25)" font-family="'Liberation Serif', serif" font-size="4.4" text-anchor="end" fill="#333" stroke="#333" stroke-width="0.06">2000</text>
<text transform="translate(295.9,268.36) scale(1,1.25)" font-family="'Liberation Serif', serif" font-size="4.4" text-anchor="end" fill="#333" stroke="#333" stroke-width="0.06">2500</text>
<text transform="translate(295.9,256.43) scale(1,1.25)" font-family="'Liberation Serif', serif" font-size="4.4" text-anchor="end" fill="#333" stroke="#333" stroke-width="0.06">3000</text>
<text transform="translate(295.9,244.5) scale(1,1.25)" font-family="'Liberation Serif', serif" font-size="4.4" text-anchor="end" fill="#333" stroke="#333" stroke-width="0.06">3500</text>
<text transform="translate(282.1,283.85) rotate(-90)" x="0" y="0" font-family="'Liberation Serif', serif" font-weight="bold" font-size="4.6" text-anchor="middle" fill="#111">MGSI<tspan dy="1" font-size="2.8">cl</tspan><tspan dy="-1"> (10 kJ/m</tspan><tspan dy="-1.2" font-size="2.8">-2</tspan><tspan dy="1.2"> day))</tspan></text>
<rect x="302.3" y="248.55" width="6.5" height="1.6" fill="#84ccc8"/>
<rect x="302.3" y="254.4" width="6.5" height="1.2" fill="#b0b0b0"/>
<text x="309.8" y="250.4" font-family="'Liberation Serif', serif" font-size="4.0" fill="#222" stroke="#222" stroke-width="0.08">MGSI<tspan font-size="2.5" dy="0.9">cl</tspan><tspan dy="-0.9"> real</tspan></text>
<text x="309.8" y="256.2" font-family="'Liberation Serif', serif" font-size="4.0" fill="#222" stroke="#222" stroke-width="0.08">MGSI<tspan font-size="2.5" dy="0.9">cl</tspan><tspan dy="-0.9"> predicted</tspan></text>
<text x="413.2" y="247.6" font-family="'Liberation Serif', serif" font-size="4.08" text-anchor="end" fill="#222" stroke="#222" stroke-width="0.08">Lourizán (Pontevedra)</text>
<text x="357.35" y="342.2" font-family="'Liberation Serif', serif" font-size="4.85" text-anchor="middle" fill="#222" stroke="#222" stroke-width="0.1">Months</text>
<path d="M423.3,326.1L423.3,275.05L423.6,275.99L423.9,279.71L424.2,284.35L424.5,290.78L424.8,296.72L425.1,300.35L425.4,302.44L425.7,304.79L426,310.86L426.3,312.08L426.6,313.3L426.9,312.28L427.2,312.51L427.5,312.25L427.8,309.78L428.1,303.6L428.4,297.4L428.7,292.49L429,287.88L429.3,283.93L429.6,281.13L429.9,278.92L430.2,276.91L430.5,272.12L430.8,270.65L431.1,269.19L431.4,269.41L431.7,270.87L432,272.34L432.3,279.14L432.6,282.24L432.9,287.39L433.2,293.83L433.5,298.82L433.8,301.94L434.1,304.79L434.4,307.6L434.7,312.53L435,313.33L435.3,314.13L435.6,313.87L435.9,313.06L436.2,309.3L436.5,306.99L436.8,304.09L437.1,300.91L437.4,297.88L437.7,293.45L438,287.64L438.3,282.57L438.6,279.79L438.9,274.29L439.2,273.36L439.5,272.42L439.8,271.79L440.1,272.73L440.4,273.67L440.7,274.61L441,282.72L441.3,286.75L441.6,292.83L441.9,298.55L442.2,302.71L442.5,306.14L442.8,313.1L443.1,314.3L443.4,315.5L443.7,314.3L444,313.1L444.3,308.15L444.6,305.33L444.9,301.8L445.2,298.27L445.5,294.83L445.8,290.5L446.1,285.54L446.4,281.18L446.7,278.59L447,273.34L447.3,271.59L447.6,269.83L447.9,268.07L448.2,269.46L448.5,271.21L448.8,272.97L449.1,281.91L449.4,287.32L449.7,294.59L450,300.19L450.3,303.44L450.6,306.1L450.9,308.78L451.2,313.04L451.5,313.85L451.8,314.13L452.1,313.31L452.4,309.44L452.7,306.89L453,303.5L453.3,299.64L453.6,295.98L453.9,291.15L454.2,285.28L454.5,280.43L454.8,273.53L455.1,272.31L455.4,271.09L455.7,270.67L456,271.89L456.3,273.11L456.6,274.32L456.9,285.31L457.2,289.5L457.5,295L457.8,312.53L458.1,313.53L458.4,313.87L458.7,312.86L459,311.12L459.3,313.06L459.6,311.8L459.9,309.86L460.2,302.47L460.5,299.61L460.8,297.02L461.1,293.78L461.4,289.29L461.7,284.4L462,274.61L462.3,273.77L462.6,272.94L462.9,272.87L463.2,273.71L463.5,274.54L463.8,282.17L464.1,285.49L464.4,289.94L464.7,294.88L465,299.58L465.3,304.27L465.6,313.24L465.9,314.6L466.2,315.05L466.5,313.69L466.8,313.02L467.1,312.06L467.4,306.93L467.7,304.5L468,301.69L468.3,298.83L468.6,296.03L468.9,291.49L469.2,285.41L469.5,280.37L469.8,274.23L470.1,273.17L470.4,272.11L470.7,271.04L471,271.59L471.3,272.65L471.6,273.72L471.9,283.79L472.2,290.6L472.5,297.46L472.8,301.78L473.1,304.27L473.4,306.91L473.7,312.34L474,313.33L474.3,314.63L474.6,315.07L474.9,313.76L475.2,308.41L475.5,304.64L475.8,299.77L476.1,295.67L476.4,291.71L476.7,287.55L477,283.74L477.3,281.07L477.6,279.13L477.9,277.39L478.2,275.91L478.5,274.83L478.8,274.27L479.1,274.5L479.4,277.19L479.7,282.05L480,287.51L480.3,292.31L480.6,296.92L480.9,301.82L481.2,305.67L481.5,312.83L481.8,313.21L482.1,313.6L482.4,313.21L482.7,313.22L483,312.51L483.3,311.44L483.6,305.52L483.9,302.92L484.2,300.02L484.5,297.42L484.8,294.36L485.1,289.91L485.4,284.74L485.7,280.47L486,278.23L486.3,273.3L486.6,271L486.9,268.69L487.2,266.66L487.5,268.97L487.8,271.28L488.1,273.58L488.4,284.64L488.7,289.93L489,295.95L489.3,300.63L489.6,303.93L489.9,307.11L490.2,312.94L490.5,313.67L490.8,314.4L491.1,313.67L491.4,313.47L491.7,312.42L492,307.14L492.3,304.6L492.6,301.63L492.9,298.59L493.2,295.72L493.5,291.82L493.8,286.87L494.1,282.07L494.4,279.02L494.7,272.57L495,269.47L495.3,266.38L495.6,264.65L495.9,267.74L496.2,270.83L496.5,273.93L496.8,284.89L497.1,288.98L497.4,293.66L497.7,298.39L498,303.26L498.3,308.43L498.6,311.6L498.9,312.65L499.2,312.5L499.5,313.24L499.8,312.18L500.1,311.13L500.4,304.9L500.7,302.23L501,299.36L501.3,296.8L501.6,292.85L501.9,287.08L502.2,281.48L502.5,273.91L502.8,273.13L503.1,272.35L503.4,271.7L503.7,272.48L504,273.26L504.3,274.04L504.6,284.23L504.9,288.06L505.2,292.57L505.5,297.25L505.8,302.12L506.1,307.47L506.4,310.86L506.7,311.94L507,311.25L507.3,310.01L507.6,308.39L507.9,306.4L508.2,304.01L508.5,301.17L508.8,298.53L509.1,294.96L509.4,287.96L509.7,281.68L510,278.07L510.3,275.66L510.6,275.08L510.9,276.14L511.2,278.47L511.5,281.43L511.8,284.46L512.1,288.01L512.4,292.42L512.7,297.68L513,312.75L513.3,313.74L513.6,314.07L513.9,313.08L514.2,312.49L514.5,313.66L514.8,311.98L515.1,310.3L515.4,304.08L515.7,301.61L516,299.02L516.3,296.73L516.6,293.01L516.9,287.36L517.2,281.69L517.5,273.07L517.8,271.73L518.1,270.4L518.4,270.8L518.7,272.14L519,273.47L519.3,282.96L519.6,286.46L519.9,290.8L520.2,295.54L520.5,300.33L520.8,312.94L521.1,313.67L521.4,314.4L521.7,313.67L522,313.26L522.3,312.33L522.6,311.39L522.9,305.05L523.2,302.26L523.5,299.25L523.8,296.58L524.1,293.05L524.4,288.21L524.7,283.15L525,279.58L525.3,277.66L525.6,272.1L525.9,269L526.2,265.89L526.5,265.14L526.8,268.24L527.1,271.35L527.4,282.04L527.7,286.04L528,291.79L528.3,297.52L528.6,301.81L528.9,305.19L529.2,312.47L529.5,312.95L529.8,313.44L530.1,313.34L530.4,312.95L530.7,312.45L531,306.99L531.3,304.1L531.6,300.67L531.9,297.51L532.2,294.01L532.5,289.35L532.8,284.24L533.1,280.19L533.4,274.84L533.7,274.13L534,273.42L534.3,272.72L534.6,272.96L534.9,273.67L535.2,274.38L535.5,282.71L535.8,286.47L536.1,291.52L536.4,296.18L536.7,299.53L537,301.88L537.3,304.21L537.6,306.32L537.9,307.95L538.2,309.01L538.2,326.1Z" fill="#93cfcc"/>
<path d="M423.3,275.05L423.6,275.99L423.9,279.71L424.2,284.35L424.5,290.78L424.8,296.72L425.1,300.35L425.4,302.44L425.7,304.79L426,306.98L426.3,308.87L426.6,310.45L426.9,311.7L427.2,312.51L427.5,312.25L427.8,309.78L428.1,303.6L428.4,297.4L428.7,292.49L429,287.88L429.3,283.93L429.6,281.13L429.9,278.92L430.2,276.91L430.5,275.21L430.8,274L431.1,273.4L431.4,273.51L431.7,274.61L432,276.59L432.3,279.14L432.6,282.24L432.9,287.39L433.2,293.83L433.5,298.82L433.8,301.94L434.1,304.79L434.4,307.6L434.7,309.83L435,311.55L435.3,312.61L435.6,312.38L435.9,311.12L436.2,309.3L436.5,306.99L436.8,304.09L437.1,300.91L437.4,297.88L437.7,293.45L438,287.64L438.3,282.57L438.6,279.79L438.9,277.69L439.2,276.02L439.5,274.98L439.8,274.72L440.1,275.46L440.4,277.24L440.7,279.75L441,282.72L441.3,286.75L441.6,292.83L441.9,298.55L442.2,302.71L442.5,306.14L442.8,309.37L443.1,311.55L443.4,312.7L443.7,311.96L444,310.34L444.3,308.15L444.6,305.33L444.9,301.8L445.2,298.27L445.5,294.83L445.8,290.5L446.1,285.54L446.4,281.18L446.7,278.59L447,276.72L447.3,275.17L447.6,274.11L447.9,273.69L448.2,274.2L448.5,275.96L448.8,278.61L449.1,281.91L449.4,287.32L449.7,294.59L450,300.19L450.3,303.44L450.6,306.1L450.9,308.78L451.2,310.84L451.5,312.31L451.8,312.58L452.1,311.36L452.4,309.44L452.7,306.89L453,303.5L453.3,299.64L453.6,295.98L453.9,291.15L454.2,285.28L454.5,280.43L454.8,277.74L455.1,275.72L455.4,274.45L455.7,274.28L456,275.65L456.3,278.41L456.6,281.82L456.9,285.31L457.2,289.5L457.5,295L457.8,302.82L458.1,310.28L458.4,312.65L458.7,311.98L459,310.78L459.3,309.21L459.6,307.29L459.9,305.07L460.2,302.47L460.5,299.61L460.8,297.02L461.1,293.78L461.4,289.29L461.7,284.4L462,280.72L462.3,277.53L462.6,275.36L462.9,275.2L463.2,276.59L463.5,279.14L463.8,282.17L464.1,285.49L464.4,289.94L464.7,294.88L465,299.58L465.3,304.27L465.6,308.99L465.9,311.72L466.2,312.64L466.5,311.93L466.8,310.65L467.1,308.97L467.4,306.93L467.7,304.5L468,301.69L468.3,298.83L468.6,296.03L468.9,291.49L469.2,285.41L469.5,280.37L469.8,277.88L470.1,276.09L470.4,274.8L470.7,274.22L471,274.68L471.3,276.71L471.6,279.76L471.9,283.79L472.2,290.6L472.5,297.46L472.8,301.78L473.1,304.27L473.4,306.91L473.7,309.24L474,311.08L474.3,312.36L474.6,312.51L474.9,310.85L475.2,308.41L475.5,304.64L475.8,299.77L476.1,295.67L476.4,291.71L476.7,287.55L477,283.74L477.3,281.07L477.6,279.13L477.9,277.39L478.2,275.91L478.5,274.83L478.8,274.27L479.1,274.5L479.4,277.19L479.7,282.05L480,287.51L480.3,292.31L480.6,296.92L480.9,301.82L481.2,305.67L481.5,308.61L481.8,311.05L482.1,312.7L482.4,312.26L482.7,311.16L483,309.65L483.3,307.76L483.6,305.52L483.9,302.92L484.2,300.02L484.5,297.42L484.8,294.36L485.1,289.91L485.4,284.74L485.7,280.47L486,278.23L486.3,276.6L486.6,275.3L486.9,274.46L487.2,274.2L487.5,275.14L487.8,277.59L488.1,280.91L488.4,284.64L488.7,289.93L489,295.95L489.3,300.63L489.6,303.93L489.9,307.11L490.2,309.8L490.5,311.74L490.8,312.7L491.1,312.18L491.4,310.94L491.7,309.24L492,307.14L492.3,304.6L492.6,301.63L492.9,298.59L493.2,295.72L493.5,291.82L493.8,286.87L494.1,282.07L494.4,279.02L494.7,277.04L495,275.45L495.3,274.44L495.6,274.23L495.9,275.48L496.2,278.17L496.5,281.51L496.8,284.89L497.1,288.98L497.4,293.66L497.7,298.39L498,303.26L498.3,308.43L498.6,311.6L498.9,312.65L499.2,311.97L499.5,310.75L499.8,309.15L500.1,307.2L500.4,304.9L500.7,302.23L501,299.36L501.3,296.8L501.6,292.85L501.9,287.08L502.2,281.48L502.5,278.34L502.8,276.17L503.1,274.67L503.4,274.2L503.7,275.19L504,277.69L504.3,280.93L504.6,284.23L504.9,288.06L505.2,292.57L505.5,297.25L505.8,302.12L506.1,307.47L506.4,310.86L506.7,311.94L507,311.25L507.3,310.01L507.6,308.39L507.9,306.4L508.2,304.01L508.5,301.17L508.8,298.53L509.1,294.96L509.4,287.96L509.7,281.68L510,278.07L510.3,275.66L510.6,275.08L510.9,276.14L511.2,278.47L511.5,281.43L511.8,284.46L512.1,288.01L512.4,292.42L512.7,297.68L513,305L513.3,310.94L513.6,312.66L513.9,312.13L514.2,311.13L514.5,309.8L514.8,308.17L515.1,306.26L515.4,304.08L515.7,301.61L516,299.02L516.3,296.73L516.6,293.01L516.9,287.36L517.2,281.69L517.5,278.24L517.8,275.7L518.1,274.29L518.4,274.55L518.7,276.49L519,279.58L519.3,282.96L519.6,286.46L519.9,290.8L520.2,295.54L520.5,300.33L520.8,305.91L521.1,310.65L521.4,312.7L521.7,312.22L522,311.05L522.3,309.44L522.6,307.44L522.9,305.05L523.2,302.26L523.5,299.25L523.8,296.58L524.1,293.05L524.4,288.21L524.7,283.15L525,279.58L525.3,277.66L525.6,276.13L525.9,274.97L526.2,274.31L526.5,274.31L526.8,275.76L527.1,278.58L527.4,282.04L527.7,286.04L528,291.79L528.3,297.52L528.6,301.81L528.9,305.19L529.2,308.52L529.5,310.92L529.8,312.52L530.1,312.37L530.4,311.1L530.7,309.3L531,306.99L531.3,304.1L531.6,300.67L531.9,297.51L532.2,294.01L532.5,289.35L532.8,284.24L533.1,280.19L533.4,278.06L533.7,276.48L534,275.31L534.3,274.74L534.6,275.05L534.9,276.8L535.2,279.58L535.5,282.71L535.8,286.47L536.1,291.52L536.4,296.18L536.7,299.53L537,301.88L537.3,304.21L537.6,306.32L537.9,307.95L538.2,309.01" fill="none" stroke="#303030" stroke-width="0.5" stroke-linejoin="round"/>
<path d="M423.3,242.6H538.4V326.1" fill="none" stroke="#7a7a7a" stroke-width="0.75"/>
<path d="M423.3,326.1H538.4" fill="none" stroke="#5f9f9b" stroke-width="0.9"/>
<path d="M423.3,242.6V326.40000000000003" fill="none" stroke="#666" stroke-width="0.75"/>
<path d="M422.2,326.1H423.3M422.2,314.17H423.3M422.2,302.24H423.3M422.2,290.31H423.3M422.2,278.39H423.3M422.2,266.46H423.3M422.2,254.53H423.3M422.2,242.6H423.3M423.3,326.1V327.2M436.93,326.1V327.2M450.56,326.1V327.2M464.19,326.1V327.2M477.82,326.1V327.2M491.45,326.1V327.2M505.08,326.1V327.2M518.71,326.1V327.2M532.34,326.1V327.2" stroke="#333" stroke-width="0.5"/>
<text transform="translate(423.6,334.2) scale(1,1.25)" font-family="'Liberation Serif', serif" font-size="4.4" text-anchor="middle" fill="#333" stroke="#333" stroke-width="0.06">0</text>
<text transform="translate(437.23,334.2) scale(1,1.25)" font-family="'Liberation Serif', serif" font-size="4.4" text-anchor="middle" fill="#333" stroke="#333" stroke-width="0.06">20</text>
<text transform="translate(450.86,334.2) scale(1,1.25)" font-family="'Liberation Serif', serif" font-size="4.4" text-anchor="middle" fill="#333" stroke="#333" stroke-width="0.06">40</text>
<text transform="translate(464.49,334.2) scale(1,1.25)" font-family="'Liberation Serif', serif" font-size="4.4" text-anchor="middle" fill="#333" stroke="#333" stroke-width="0.06">60</text>
<text transform="translate(478.12,334.2) scale(1,1.25)" font-family="'Liberation Serif', serif" font-size="4.4" text-anchor="middle" fill="#333" stroke="#333" stroke-width="0.06">80</text>
<text transform="translate(491.75,334.2) scale(1,1.25)" font-family="'Liberation Serif', serif" font-size="4.4" text-anchor="middle" fill="#333" stroke="#333" stroke-width="0.06">100</text>
<text transform="translate(505.38,334.2) scale(1,1.25)" font-family="'Liberation Serif', serif" font-size="4.4" text-anchor="middle" fill="#333" stroke="#333" stroke-width="0.06">120</text>
<text transform="translate(519.01,334.2) scale(1,1.25)" font-family="'Liberation Serif', serif" font-size="4.4" text-anchor="middle" fill="#333" stroke="#333" stroke-width="0.06">140</text>
<text transform="translate(532.64,334.2) scale(1,1.25)" font-family="'Liberation Serif', serif" font-size="4.4" text-anchor="middle" fill="#333" stroke="#333" stroke-width="0.06">160</text>
<rect x="426.3" y="248.55" width="6.5" height="1.6" fill="#84ccc8"/>
<rect x="426.3" y="254.4" width="6.5" height="1.2" fill="#b0b0b0"/>
<text x="433.8" y="250.4" font-family="'Liberation Serif', serif" font-size="4.0" fill="#222" stroke="#222" stroke-width="0.08">MGSI<tspan font-size="2.5" dy="0.9">cl</tspan><tspan dy="-0.9"> real</tspan></text>
<text x="433.8" y="256.2" font-family="'Liberation Serif', serif" font-size="4.0" fill="#222" stroke="#222" stroke-width="0.08">MGSI<tspan font-size="2.5" dy="0.9">cl</tspan><tspan dy="-0.9"> predicted</tspan></text>
<text x="536.6" y="247.6" font-family="'Liberation Serif', serif" font-size="4.08" text-anchor="end" fill="#222" stroke="#222" stroke-width="0.08">Lourizán (Pontevedra)</text>
<text x="481.05" y="342.2" font-family="'Liberation Serif', serif" font-size="4.85" text-anchor="middle" fill="#222" stroke="#222" stroke-width="0.1">Months</text>
</svg></body></html>
